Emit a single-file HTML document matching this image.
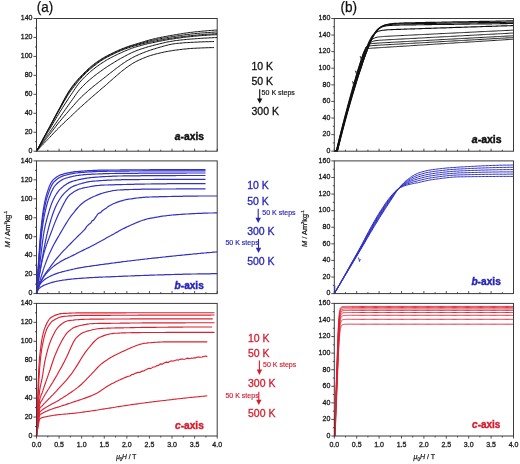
<!DOCTYPE html>
<html><head><meta charset="utf-8"><style>
html,body{margin:0;padding:0;background:#fff;}
body{width:520px;height:464px;overflow:hidden;}
svg{display:block;}
text{font-family:"Liberation Sans",Arial,sans-serif;}
.tl{font-size:7px;fill:#1a1a1a;stroke:#1a1a1a;stroke-width:0.3px;}
.big{font-size:14.5px;fill:#111;stroke:#111;stroke-width:0.25px;}
.tk{font-size:10.5px;stroke:currentColor;stroke-width:0.3px;}
.st{font-size:7.4px;stroke:currentColor;stroke-width:0.18px;}
.ax{font-size:11.5px;font-weight:bold;stroke-width:0.45px;}
.yl{font-size:7.4px;fill:#222;stroke:#222;stroke-width:0.25px;}
</style></head><body>
<svg width="520" height="464" viewBox="0 0 520 464">
<rect width="520" height="464" fill="#fff"/>
<text x="36.8" y="12.2" class="big" textLength="16.4" lengthAdjust="spacingAndGlyphs">(a)</text>
<text x="340.4" y="12.2" class="big" textLength="16.6" lengthAdjust="spacingAndGlyphs">(b)</text>
<path d="M36.5,151.2 36.8,150.5 37.2,149.9 37.5,149.2 37.9,148.6 38.2,147.9 38.6,147.3 38.9,146.6 39.3,146.0 39.6,145.3 40.0,144.7 40.3,144.0 40.7,143.4 41.0,142.7 41.4,142.1 41.7,141.4 42.1,140.8 42.4,140.1 42.8,139.5 43.1,138.8 43.4,138.2 43.8,137.5 44.1,136.9 44.5,136.2 44.8,135.6 45.2,134.9 45.5,134.3 45.9,133.6 46.2,133.0 46.6,132.3 46.9,131.7 47.3,131.0 47.6,130.4 48.0,129.7 48.3,129.1 48.7,128.4 49.0,127.8 49.4,127.1 49.7,126.5 50.1,125.8 50.1,125.8 51.5,123.2 52.9,120.6 54.3,117.9 55.7,115.3 57.1,112.7 58.5,110.1 59.9,107.5 61.3,104.9 62.7,102.2 64.1,99.6 65.5,97.0 66.9,94.5 68.3,92.2 69.7,90.0 71.1,88.0 72.5,86.0 73.9,84.2 75.3,82.5 76.7,80.8 78.1,79.2 79.5,77.6 81.0,76.1 82.4,74.7 83.8,73.2 85.2,71.8 86.6,70.5 88.0,69.1 89.4,67.9 90.8,66.7 92.2,65.5 93.6,64.5 95.0,63.4 96.4,62.4 97.8,61.4 99.2,60.5 100.6,59.5 102.0,58.7 103.4,57.8 104.8,57.0 106.2,56.3 107.6,55.5 109.0,54.8 110.5,54.1 111.9,53.4 113.3,52.7 114.7,52.0 116.1,51.4 117.5,50.7 118.9,50.1 120.3,49.5 121.7,48.9 123.1,48.4 124.5,47.8 125.9,47.3 127.3,46.8 128.7,46.3 130.1,45.8 131.5,45.4 132.9,45.0 134.3,44.6 135.7,44.1 137.1,43.7 138.5,43.3 139.9,42.8 141.4,42.4 142.8,42.0 144.2,41.6 145.6,41.1 147.0,40.7 148.4,40.3 149.8,39.9 151.2,39.6 152.6,39.2 154.0,38.9 155.4,38.5 156.8,38.2 158.2,37.9 159.6,37.6 161.0,37.3 162.4,37.1 163.8,36.8 165.2,36.5 166.6,36.3 168.0,36.0 169.4,35.7 170.8,35.5 172.3,35.3 173.7,35.0 175.1,34.8 176.5,34.6 177.9,34.3 179.3,34.1 180.7,33.9 182.1,33.7 183.5,33.4 184.9,33.2 186.3,33.0 187.7,32.8 189.1,32.6 190.5,32.4 191.9,32.3 193.3,32.1 194.7,31.9 196.1,31.8 197.5,31.7 198.9,31.5 200.3,31.4 201.7,31.2 203.2,31.1 204.6,31.0 206.0,30.9 207.4,30.7 208.8,30.6 210.2,30.5 211.6,30.4 213.0,30.3 214.4,30.2 215.8,30.1 217.2,30.1" stroke="#111" stroke-width="1.0" fill="none" stroke-linejoin="round"/>
<path d="M36.5,151.2 36.8,150.6 37.2,149.9 37.5,149.3 37.9,148.6 38.2,148.0 38.6,147.4 38.9,146.7 39.3,146.1 39.6,145.4 40.0,144.8 40.3,144.1 40.7,143.5 41.0,142.9 41.4,142.2 41.7,141.6 42.1,140.9 42.4,140.3 42.8,139.7 43.1,139.0 43.4,138.4 43.8,137.7 44.1,137.1 44.5,136.4 44.8,135.8 45.2,135.2 45.5,134.5 45.9,133.9 46.2,133.2 46.6,132.6 46.9,132.0 47.3,131.3 47.6,130.7 48.0,130.0 48.3,129.4 48.7,128.7 49.0,128.1 49.4,127.5 49.7,126.8 50.1,126.2 50.1,126.2 51.5,123.5 52.9,120.9 54.3,118.3 55.7,115.7 57.1,113.1 58.5,110.6 59.9,108.1 61.3,105.5 62.7,102.9 64.1,100.3 65.5,97.8 66.9,95.4 68.3,93.1 69.7,90.9 71.1,88.9 72.5,87.0 73.9,85.2 75.3,83.4 76.7,81.7 78.1,80.1 79.5,78.6 81.0,77.1 82.4,75.6 83.8,74.2 85.2,72.8 86.6,71.4 88.0,70.1 89.4,68.8 90.8,67.6 92.2,66.5 93.6,65.4 95.0,64.3 96.4,63.2 97.8,62.2 99.2,61.2 100.6,60.3 102.0,59.4 103.4,58.5 104.8,57.7 106.2,56.9 107.6,56.2 109.0,55.4 110.5,54.7 111.9,54.0 113.3,53.3 114.7,52.6 116.1,52.0 117.5,51.4 118.9,50.8 120.3,50.2 121.7,49.6 123.1,49.0 124.5,48.5 125.9,47.9 127.3,47.4 128.7,46.9 130.1,46.5 131.5,46.0 132.9,45.6 134.3,45.2 135.7,44.8 137.1,44.4 138.5,44.0 139.9,43.6 141.4,43.2 142.8,42.8 144.2,42.4 145.6,42.0 147.0,41.7 148.4,41.3 149.8,41.0 151.2,40.6 152.6,40.3 154.0,40.0 155.4,39.7 156.8,39.4 158.2,39.1 159.6,38.9 161.0,38.6 162.4,38.3 163.8,38.1 165.2,37.8 166.6,37.6 168.0,37.3 169.4,37.1 170.8,36.9 172.3,36.6 173.7,36.4 175.1,36.2 176.5,36.0 177.9,35.8 179.3,35.6 180.7,35.4 182.1,35.2 183.5,35.0 184.9,34.8 186.3,34.6 187.7,34.4 189.1,34.3 190.5,34.1 191.9,33.9 193.3,33.8 194.7,33.7 196.1,33.5 197.5,33.4 198.9,33.3 200.3,33.1 201.7,33.0 203.2,32.9 204.6,32.8 206.0,32.7 207.4,32.6 208.8,32.5 210.2,32.4 211.6,32.3 213.0,32.2 214.4,32.1 215.8,32.0 217.2,32.0" stroke="#111" stroke-width="1.0" fill="none" stroke-linejoin="round"/>
<path d="M36.5,151.2 36.8,150.6 37.2,149.9 37.5,149.3 37.9,148.7 38.2,148.1 38.6,147.4 38.9,146.8 39.3,146.2 39.6,145.5 40.0,144.9 40.3,144.3 40.7,143.6 41.0,143.0 41.4,142.4 41.7,141.8 42.1,141.1 42.4,140.5 42.8,139.9 43.1,139.2 43.4,138.6 43.8,138.0 44.1,137.3 44.5,136.7 44.8,136.1 45.2,135.5 45.5,134.8 45.9,134.2 46.2,133.6 46.6,132.9 46.9,132.3 47.3,131.7 47.6,131.0 48.0,130.4 48.3,129.8 48.7,129.1 49.0,128.5 49.4,127.9 49.7,127.2 50.1,126.6 50.1,126.6 51.5,124.0 52.9,121.5 54.3,118.9 55.7,116.3 57.1,113.8 58.5,111.3 59.9,108.9 61.3,106.4 62.7,103.9 64.1,101.4 65.5,99.0 66.9,96.7 68.3,94.5 69.7,92.4 71.1,90.4 72.5,88.5 73.9,86.7 75.3,84.9 76.7,83.1 78.1,81.4 79.5,79.7 81.0,78.1 82.4,76.5 83.8,75.1 85.2,73.7 86.6,72.3 88.0,71.0 89.4,69.8 90.8,68.6 92.2,67.4 93.6,66.3 95.0,65.2 96.4,64.1 97.8,63.0 99.2,62.0 100.6,61.1 102.0,60.1 103.4,59.3 104.8,58.5 106.2,57.7 107.6,56.9 109.0,56.2 110.5,55.4 111.9,54.7 113.3,54.1 114.7,53.4 116.1,52.7 117.5,52.1 118.9,51.5 120.3,50.9 121.7,50.3 123.1,49.8 124.5,49.2 125.9,48.7 127.3,48.2 128.7,47.7 130.1,47.2 131.5,46.8 132.9,46.4 134.3,45.9 135.7,45.6 137.1,45.2 138.5,44.8 139.9,44.4 141.4,44.1 142.8,43.7 144.2,43.4 145.6,43.1 147.0,42.7 148.4,42.4 149.8,42.1 151.2,41.8 152.6,41.5 154.0,41.2 155.4,41.0 156.8,40.7 158.2,40.4 159.6,40.2 161.0,39.9 162.4,39.6 163.8,39.4 165.2,39.1 166.6,38.9 168.0,38.7 169.4,38.5 170.8,38.2 172.3,38.0 173.7,37.8 175.1,37.6 176.5,37.4 177.9,37.2 179.3,37.0 180.7,36.8 182.1,36.7 183.5,36.5 184.9,36.3 186.3,36.1 187.7,36.0 189.1,35.8 190.5,35.7 191.9,35.5 193.3,35.4 194.7,35.3 196.1,35.1 197.5,35.0 198.9,34.9 200.3,34.8 201.7,34.7 203.2,34.6 204.6,34.4 206.0,34.3 207.4,34.2 208.8,34.1 210.2,34.1 211.6,34.0 213.0,33.9 214.4,33.8 215.8,33.7 217.2,33.7" stroke="#111" stroke-width="1.0" fill="none" stroke-linejoin="round"/>
<path d="M36.5,151.2 36.8,150.6 37.2,150.0 37.5,149.5 37.9,148.9 38.2,148.3 38.6,147.7 38.9,147.1 39.3,146.5 39.6,146.0 40.0,145.4 40.3,144.8 40.7,144.2 41.0,143.6 41.4,143.0 41.7,142.5 42.1,141.9 42.4,141.3 42.8,140.7 43.1,140.1 43.4,139.5 43.8,139.0 44.1,138.4 44.5,137.8 44.8,137.2 45.2,136.6 45.5,136.0 45.9,135.5 46.2,134.9 46.6,134.3 46.9,133.7 47.3,133.1 47.6,132.5 48.0,132.0 48.3,131.4 48.7,130.8 49.0,130.2 49.4,129.6 49.7,129.0 50.1,128.4 50.1,128.4 51.5,126.0 52.9,123.7 54.3,121.3 55.7,118.9 57.1,116.6 58.5,114.3 59.9,112.0 61.3,109.8 62.7,107.5 64.1,105.3 65.5,103.1 66.9,101.0 68.3,98.8 69.7,96.7 71.1,94.7 72.5,92.6 73.9,90.5 75.3,88.4 76.7,86.3 78.1,84.4 79.5,82.6 81.0,80.9 82.4,79.4 83.8,77.9 85.2,76.5 86.6,75.2 88.0,73.9 89.4,72.6 90.8,71.4 92.2,70.2 93.6,69.1 95.0,68.0 96.4,66.9 97.8,65.9 99.2,64.9 100.6,63.9 102.0,63.0 103.4,62.1 104.8,61.2 106.2,60.3 107.6,59.5 109.0,58.7 110.5,57.9 111.9,57.2 113.3,56.5 114.7,55.7 116.1,55.1 117.5,54.4 118.9,53.7 120.3,53.1 121.7,52.5 123.1,51.8 124.5,51.2 125.9,50.6 127.3,50.1 128.7,49.5 130.1,48.9 131.5,48.4 132.9,47.9 134.3,47.4 135.7,47.0 137.1,46.6 138.5,46.2 139.9,45.8 141.4,45.4 142.8,45.0 144.2,44.6 145.6,44.3 147.0,43.9 148.4,43.6 149.8,43.3 151.2,43.0 152.6,42.7 154.0,42.4 155.4,42.1 156.8,41.8 158.2,41.5 159.6,41.2 161.0,41.0 162.4,40.7 163.8,40.4 165.2,40.2 166.6,39.9 168.0,39.7 169.4,39.4 170.8,39.2 172.3,39.0 173.7,38.8 175.1,38.6 176.5,38.4 177.9,38.2 179.3,38.0 180.7,37.8 182.1,37.6 183.5,37.4 184.9,37.2 186.3,37.1 187.7,36.9 189.1,36.8 190.5,36.6 191.9,36.5 193.3,36.3 194.7,36.2 196.1,36.1 197.5,36.0 198.9,35.8 200.3,35.7 201.7,35.6 203.2,35.5 204.6,35.4 206.0,35.3 207.4,35.2 208.8,35.1 210.2,35.0 211.6,34.9 213.0,34.8 214.4,34.8 215.8,34.7 217.2,34.6" stroke="#111" stroke-width="1.0" fill="none" stroke-linejoin="round"/>
<path d="M36.5,151.2 36.8,150.7 37.2,150.2 37.5,149.7 37.9,149.2 38.2,148.7 38.6,148.2 38.9,147.7 39.3,147.2 39.6,146.7 40.0,146.2 40.3,145.7 40.7,145.2 41.0,144.7 41.4,144.2 41.7,143.7 42.1,143.2 42.4,142.7 42.8,142.2 43.1,141.7 43.4,141.2 43.8,140.7 44.1,140.2 44.5,139.7 44.8,139.2 45.2,138.7 45.5,138.2 45.9,137.7 46.2,137.2 46.6,136.7 46.9,136.2 47.3,135.7 47.6,135.1 48.0,134.6 48.3,134.1 48.7,133.6 49.0,133.1 49.4,132.6 49.7,132.1 50.1,131.6 50.1,131.6 51.5,129.6 52.9,127.5 54.3,125.5 55.7,123.4 57.1,121.4 58.5,119.4 59.9,117.4 61.3,115.3 62.7,113.3 64.1,111.3 65.5,109.3 66.9,107.3 68.3,105.3 69.7,103.3 71.1,101.4 72.5,99.4 73.9,97.4 75.3,95.4 76.7,93.4 78.1,91.5 79.5,89.7 81.0,88.1 82.4,86.6 83.8,85.2 85.2,83.8 86.6,82.5 88.0,81.2 89.4,80.0 90.8,78.8 92.2,77.7 93.6,76.5 95.0,75.4 96.4,74.4 97.8,73.3 99.2,72.3 100.6,71.3 102.0,70.3 103.4,69.3 104.8,68.3 106.2,67.4 107.6,66.4 109.0,65.5 110.5,64.6 111.9,63.7 113.3,62.9 114.7,62.0 116.1,61.2 117.5,60.3 118.9,59.5 120.3,58.7 121.7,57.9 123.1,57.2 124.5,56.4 125.9,55.7 127.3,54.9 128.7,54.2 130.1,53.5 131.5,52.8 132.9,52.2 134.3,51.5 135.7,51.0 137.1,50.4 138.5,49.9 139.9,49.4 141.4,48.9 142.8,48.5 144.2,48.0 145.6,47.6 147.0,47.1 148.4,46.7 149.8,46.3 151.2,46.0 152.6,45.6 154.0,45.2 155.4,44.9 156.8,44.5 158.2,44.2 159.6,43.8 161.0,43.5 162.4,43.2 163.8,42.8 165.2,42.5 166.6,42.2 168.0,41.9 169.4,41.7 170.8,41.4 172.3,41.2 173.7,40.9 175.1,40.7 176.5,40.5 177.9,40.4 179.3,40.2 180.7,40.0 182.1,39.9 183.5,39.7 184.9,39.6 186.3,39.5 187.7,39.3 189.1,39.2 190.5,39.1 191.9,39.0 193.3,38.9 194.7,38.8 196.1,38.7 197.5,38.6 198.9,38.5 200.3,38.4 201.7,38.3 203.2,38.2 204.6,38.1 206.0,38.1 207.4,38.0 208.8,37.9 210.2,37.8 211.6,37.8 213.0,37.7 214.4,37.6 215.8,37.6 217.2,37.6" stroke="#111" stroke-width="1.0" fill="none" stroke-linejoin="round"/>
<path d="M36.5,151.2 36.8,150.8 37.2,150.3 37.5,149.9 37.9,149.4 38.2,149.0 38.6,148.5 38.9,148.1 39.3,147.7 39.6,147.2 40.0,146.8 40.3,146.3 40.7,145.9 41.0,145.4 41.4,145.0 41.7,144.6 42.1,144.1 42.4,143.7 42.8,143.2 43.1,142.8 43.4,142.3 43.8,141.9 44.1,141.5 44.5,141.0 44.8,140.6 45.2,140.1 45.5,139.7 45.9,139.2 46.2,138.8 46.6,138.3 46.9,137.9 47.3,137.5 47.6,137.0 48.0,136.6 48.3,136.1 48.7,135.7 49.0,135.2 49.4,134.8 49.7,134.3 50.1,133.9 50.1,133.9 51.4,132.1 52.8,130.3 54.2,128.5 55.6,126.7 56.9,125.0 58.3,123.2 59.7,121.5 61.1,119.9 62.5,118.2 63.8,116.6 65.2,115.0 66.6,113.4 68.0,111.8 69.3,110.2 70.7,108.6 72.1,107.1 73.5,105.5 74.9,103.9 76.2,102.4 77.6,100.9 79.0,99.4 80.4,98.0 81.7,96.6 83.1,95.3 84.5,94.1 85.9,92.8 87.3,91.6 88.6,90.4 90.0,89.2 91.4,88.1 92.8,86.9 94.1,85.8 95.5,84.7 96.9,83.6 98.3,82.5 99.7,81.4 101.0,80.4 102.4,79.3 103.8,78.2 105.2,77.1 106.6,76.0 107.9,74.9 109.3,73.8 110.7,72.7 112.1,71.7 113.4,70.6 114.8,69.5 116.2,68.4 117.6,67.4 119.0,66.4 120.3,65.4 121.7,64.4 123.1,63.4 124.5,62.5 125.8,61.6 127.2,60.7 128.6,59.9 130.0,59.1 131.4,58.3 132.7,57.5 134.1,56.8 135.5,56.1 136.9,55.5 138.2,54.9 139.6,54.3 141.0,53.7 142.4,53.1 143.8,52.6 145.1,52.0 146.5,51.5 147.9,51.0 149.3,50.5 150.6,50.1 152.0,49.6 153.4,49.2 154.8,48.8 156.2,48.3 157.5,47.9 158.9,47.5 160.3,47.1 161.7,46.7 163.1,46.3 164.4,45.9 165.8,45.5 167.2,45.2 168.6,44.8 169.9,44.5 171.3,44.3 172.7,44.0 174.1,43.8 175.5,43.6 176.8,43.4 178.2,43.3 179.6,43.2 181.0,43.1 182.3,42.9 183.7,42.8 185.1,42.7 186.5,42.6 187.9,42.6 189.2,42.5 190.6,42.4 192.0,42.3 193.4,42.3 194.7,42.2 196.1,42.1 197.5,42.1 198.9,42.0 200.3,41.9 201.6,41.9 203.0,41.8 204.4,41.8 205.8,41.7 207.1,41.7 208.5,41.7 209.9,41.6 211.3,41.6 212.7,41.6 214.0,41.5" stroke="#111" stroke-width="1.0" fill="none" stroke-linejoin="round"/>
<path d="M36.5,151.2 36.8,150.8 37.2,150.5 37.5,150.1 37.9,149.7 38.2,149.4 38.6,149.0 38.9,148.6 39.3,148.3 39.6,147.9 40.0,147.6 40.3,147.2 40.7,146.8 41.0,146.5 41.4,146.1 41.7,145.7 42.1,145.4 42.4,145.0 42.8,144.6 43.1,144.3 43.4,143.9 43.8,143.5 44.1,143.2 44.5,142.8 44.8,142.5 45.2,142.1 45.5,141.7 45.9,141.4 46.2,141.0 46.6,140.6 46.9,140.3 47.3,139.9 47.6,139.5 48.0,139.2 48.3,138.8 48.7,138.4 49.0,138.1 49.4,137.7 49.7,137.3 50.1,137.0 50.1,137.0 51.4,135.5 52.8,134.0 54.2,132.6 55.6,131.1 56.9,129.7 58.3,128.3 59.7,126.9 61.1,125.6 62.5,124.2 63.8,122.9 65.2,121.6 66.6,120.3 68.0,119.1 69.3,117.8 70.7,116.5 72.1,115.2 73.5,113.9 74.9,112.5 76.2,111.2 77.6,109.9 79.0,108.6 80.4,107.4 81.7,106.1 83.1,104.9 84.5,103.6 85.9,102.4 87.3,101.2 88.6,100.0 90.0,98.7 91.4,97.5 92.8,96.3 94.1,95.2 95.5,94.0 96.9,92.8 98.3,91.6 99.7,90.4 101.0,89.2 102.4,88.0 103.8,86.9 105.2,85.7 106.6,84.5 107.9,83.3 109.3,82.0 110.7,80.8 112.1,79.6 113.4,78.4 114.8,77.2 116.2,76.0 117.6,74.8 119.0,73.6 120.3,72.5 121.7,71.3 123.1,70.2 124.5,69.2 125.8,68.1 127.2,67.1 128.6,66.2 130.0,65.2 131.4,64.3 132.7,63.4 134.1,62.6 135.5,61.8 136.9,61.1 138.2,60.5 139.6,59.8 141.0,59.2 142.4,58.6 143.8,58.0 145.1,57.5 146.5,56.9 147.9,56.4 149.3,55.9 150.6,55.5 152.0,55.1 153.4,54.7 154.8,54.3 156.2,53.9 157.5,53.6 158.9,53.3 160.3,52.9 161.7,52.6 163.1,52.3 164.4,52.0 165.8,51.7 167.2,51.5 168.6,51.2 169.9,51.0 171.3,50.8 172.7,50.5 174.1,50.3 175.5,50.1 176.8,50.0 178.2,49.8 179.6,49.6 181.0,49.5 182.3,49.3 183.7,49.1 185.1,49.0 186.5,48.9 187.9,48.7 189.2,48.6 190.6,48.5 192.0,48.4 193.4,48.3 194.7,48.3 196.1,48.2 197.5,48.1 198.9,48.1 200.3,48.0 201.6,47.9 203.0,47.9 204.4,47.8 205.8,47.8 207.1,47.7 208.5,47.7 209.9,47.6 211.3,47.6 212.7,47.6 214.0,47.6" stroke="#111" stroke-width="1.0" fill="none" stroke-linejoin="round"/>
<path d="M36.5,293.6 36.8,287.9 37.2,282.3 37.5,276.8 37.9,271.4 38.2,266.2 38.6,261.0 38.9,255.8 39.3,250.7 39.6,245.7 40.0,240.9 40.3,236.4 40.7,232.3 41.0,228.7 41.4,225.3 41.7,222.1 42.1,219.1 42.4,216.3 42.8,213.7 43.1,211.3 43.4,209.1 43.8,207.1 44.1,205.1 44.5,203.3 44.8,201.6 45.2,199.9 45.5,198.4 45.9,197.0 46.2,195.7 46.6,194.6 46.9,193.4 47.3,192.3 47.6,191.2 48.0,190.2 48.3,189.2 48.7,188.2 49.0,187.2 49.4,186.3 49.7,185.5 50.1,184.7 50.1,184.7 51.4,182.1 52.7,180.4 54.0,179.1 55.3,178.0 56.6,177.0 57.9,176.2 59.2,175.5 60.5,174.9 61.8,174.5 63.1,174.1 64.4,173.7 65.7,173.4 67.0,173.1 68.3,172.8 69.6,172.5 70.9,172.3 72.3,172.1 73.6,171.9 74.9,171.7 76.2,171.6 77.5,171.5 78.8,171.4 80.1,171.3 81.4,171.2 82.7,171.1 84.0,171.0 85.3,170.9 86.6,170.8 87.9,170.7 89.2,170.6 90.5,170.6 91.8,170.5 93.1,170.4 94.5,170.4 95.8,170.3 97.1,170.3 98.4,170.2 99.7,170.2 101.0,170.1 102.3,170.1 103.6,170.1 104.9,170.1 106.2,170.1 107.5,170.1 108.8,170.0 110.1,170.0 111.4,170.0 112.7,170.0 114.0,170.0 115.3,170.0 116.7,170.0 118.0,170.0 119.3,170.0 120.6,169.9 121.9,169.9 123.2,169.9 124.5,169.9 125.8,169.9 127.1,169.9 128.4,169.9 129.7,169.9 131.0,169.9 132.3,169.9 133.6,169.8 134.9,169.8 136.2,169.8 137.5,169.8 138.9,169.8 140.2,169.8 141.5,169.8 142.8,169.8 144.1,169.8 145.4,169.8 146.7,169.8 148.0,169.8 149.3,169.8 150.6,169.7 151.9,169.7 153.2,169.7 154.5,169.7 155.8,169.7 157.1,169.7 158.4,169.7 159.7,169.7 161.1,169.7 162.4,169.7 163.7,169.7 165.0,169.7 166.3,169.7 167.6,169.7 168.9,169.7 170.2,169.7 171.5,169.7 172.8,169.7 174.1,169.7 175.4,169.7 176.7,169.7 178.0,169.7 179.3,169.6 180.6,169.6 181.9,169.6 183.3,169.6 184.6,169.6 185.9,169.6 187.2,169.6 188.5,169.6 189.8,169.6 191.1,169.6 192.4,169.6 193.7,169.6 195.0,169.6 196.3,169.6 197.6,169.6 198.9,169.6 200.2,169.6 201.5,169.6 202.8,169.6 204.1,169.6 205.5,169.6" stroke="#3232c8" stroke-width="1.2" fill="none" stroke-linejoin="round"/>
<path d="M36.5,293.6 36.8,288.6 37.2,283.6 37.5,278.7 37.9,273.9 38.2,269.1 38.6,264.5 38.9,259.8 39.3,255.0 39.6,250.2 40.0,245.6 40.3,241.2 40.7,237.0 41.0,233.2 41.4,229.9 41.7,226.9 42.1,224.0 42.4,221.2 42.8,218.7 43.1,216.3 43.4,214.1 43.8,212.0 44.1,210.1 44.5,208.3 44.8,206.5 45.2,204.8 45.5,203.3 45.9,201.8 46.2,200.3 46.6,199.0 46.9,197.8 47.3,196.7 47.6,195.6 48.0,194.6 48.3,193.5 48.7,192.5 49.0,191.6 49.4,190.6 49.7,189.7 50.1,188.8 50.1,188.8 51.4,185.9 52.7,183.5 54.0,181.9 55.3,180.7 56.6,179.5 57.9,178.6 59.2,177.7 60.5,177.0 61.8,176.4 63.1,175.9 64.4,175.5 65.7,175.2 67.0,174.8 68.3,174.5 69.6,174.2 70.9,173.9 72.3,173.7 73.6,173.4 74.9,173.2 76.2,173.0 77.5,172.9 78.8,172.7 80.1,172.6 81.4,172.5 82.7,172.4 84.0,172.3 85.3,172.2 86.6,172.1 87.9,172.0 89.2,171.9 90.5,171.9 91.8,171.8 93.1,171.7 94.5,171.7 95.8,171.6 97.1,171.5 98.4,171.5 99.7,171.4 101.0,171.4 102.3,171.4 103.6,171.3 104.9,171.3 106.2,171.3 107.5,171.2 108.8,171.2 110.1,171.2 111.4,171.2 112.7,171.2 114.0,171.2 115.3,171.2 116.7,171.2 118.0,171.1 119.3,171.1 120.6,171.1 121.9,171.1 123.2,171.1 124.5,171.1 125.8,171.1 127.1,171.1 128.4,171.1 129.7,171.0 131.0,171.0 132.3,171.0 133.6,171.0 134.9,171.0 136.2,171.0 137.5,171.0 138.9,171.0 140.2,171.0 141.5,171.0 142.8,170.9 144.1,170.9 145.4,170.9 146.7,170.9 148.0,170.9 149.3,170.9 150.6,170.9 151.9,170.9 153.2,170.9 154.5,170.9 155.8,170.9 157.1,170.9 158.4,170.9 159.7,170.9 161.1,170.9 162.4,170.8 163.7,170.8 165.0,170.8 166.3,170.8 167.6,170.8 168.9,170.8 170.2,170.8 171.5,170.8 172.8,170.8 174.1,170.8 175.4,170.8 176.7,170.8 178.0,170.8 179.3,170.8 180.6,170.8 181.9,170.8 183.3,170.8 184.6,170.8 185.9,170.8 187.2,170.8 188.5,170.8 189.8,170.8 191.1,170.8 192.4,170.8 193.7,170.8 195.0,170.8 196.3,170.8 197.6,170.8 198.9,170.8 200.2,170.8 201.5,170.8 202.8,170.8 204.1,170.8 205.5,170.8" stroke="#3232c8" stroke-width="1.2" fill="none" stroke-linejoin="round"/>
<path d="M36.5,293.6 36.8,289.0 37.2,284.5 37.5,280.0 37.9,275.6 38.2,271.4 38.6,267.2 38.9,263.1 39.3,259.0 39.6,254.9 40.0,250.7 40.3,246.7 40.7,242.9 41.0,239.2 41.4,235.8 41.7,232.7 42.1,230.0 42.4,227.4 42.8,225.0 43.1,222.8 43.4,220.6 43.8,218.6 44.1,216.7 44.5,214.9 44.8,213.2 45.2,211.6 45.5,210.1 45.9,208.6 46.2,207.1 46.6,205.8 46.9,204.5 47.3,203.2 47.6,202.0 48.0,200.9 48.3,199.9 48.7,198.9 49.0,198.0 49.4,197.1 49.7,196.2 50.1,195.3 50.1,195.3 51.4,192.1 52.7,189.4 54.0,187.0 55.3,185.3 56.6,184.0 57.9,182.8 59.2,181.7 60.5,180.8 61.8,179.9 63.1,179.2 64.4,178.7 65.7,178.2 67.0,177.8 68.3,177.5 69.6,177.1 70.9,176.8 72.3,176.5 73.6,176.2 74.9,176.0 76.2,175.7 77.5,175.5 78.8,175.3 80.1,175.1 81.4,175.0 82.7,174.8 84.0,174.7 85.3,174.6 86.6,174.5 87.9,174.4 89.2,174.4 90.5,174.3 91.8,174.2 93.1,174.2 94.5,174.1 95.8,174.0 97.1,174.0 98.4,173.9 99.7,173.9 101.0,173.8 102.3,173.8 103.6,173.7 104.9,173.7 106.2,173.6 107.5,173.6 108.8,173.6 110.1,173.5 111.4,173.5 112.7,173.5 114.0,173.5 115.3,173.4 116.7,173.4 118.0,173.4 119.3,173.4 120.6,173.4 121.9,173.4 123.2,173.4 124.5,173.4 125.8,173.3 127.1,173.3 128.4,173.3 129.7,173.3 131.0,173.3 132.3,173.3 133.6,173.3 134.9,173.3 136.2,173.3 137.5,173.3 138.9,173.2 140.2,173.2 141.5,173.2 142.8,173.2 144.1,173.2 145.4,173.2 146.7,173.2 148.0,173.2 149.3,173.2 150.6,173.2 151.9,173.2 153.2,173.2 154.5,173.2 155.8,173.2 157.1,173.1 158.4,173.1 159.7,173.1 161.1,173.1 162.4,173.1 163.7,173.1 165.0,173.1 166.3,173.1 167.6,173.1 168.9,173.1 170.2,173.1 171.5,173.1 172.8,173.1 174.1,173.1 175.4,173.1 176.7,173.1 178.0,173.1 179.3,173.1 180.6,173.1 181.9,173.1 183.3,173.1 184.6,173.1 185.9,173.1 187.2,173.0 188.5,173.0 189.8,173.0 191.1,173.0 192.4,173.0 193.7,173.0 195.0,173.0 196.3,173.0 197.6,173.0 198.9,173.0 200.2,173.0 201.5,173.0 202.8,173.0 204.1,173.0 205.5,173.0" stroke="#3232c8" stroke-width="1.2" fill="none" stroke-linejoin="round"/>
<path d="M36.5,293.6 36.8,290.3 37.2,287.0 37.5,283.8 37.9,280.6 38.2,277.4 38.6,274.4 38.9,271.3 39.3,268.4 39.6,265.5 40.0,262.6 40.3,259.7 40.7,256.7 41.0,253.8 41.4,251.0 41.7,248.1 42.1,245.4 42.4,242.7 42.8,240.1 43.1,237.7 43.4,235.4 43.8,233.2 44.1,231.2 44.5,229.4 44.8,227.7 45.2,226.0 45.5,224.4 45.9,222.9 46.2,221.5 46.6,220.1 46.9,218.7 47.3,217.4 47.6,216.2 48.0,214.9 48.3,213.7 48.7,212.5 49.0,211.4 49.4,210.2 49.7,209.1 50.1,208.0 50.1,208.0 51.4,204.1 52.7,200.9 54.0,198.3 55.3,195.8 56.6,193.7 57.9,191.8 59.2,190.2 60.5,188.9 61.8,187.7 63.1,186.6 64.4,185.6 65.7,184.7 67.0,183.8 68.3,183.1 69.6,182.4 70.9,181.9 72.3,181.4 73.6,181.0 74.9,180.6 76.2,180.3 77.5,180.0 78.8,179.7 80.1,179.4 81.4,179.1 82.7,178.8 84.0,178.6 85.3,178.4 86.6,178.2 87.9,178.0 89.2,177.8 90.5,177.6 91.8,177.5 93.1,177.4 94.5,177.3 95.8,177.2 97.1,177.1 98.4,177.0 99.7,176.9 101.0,176.8 102.3,176.7 103.6,176.7 104.9,176.6 106.2,176.5 107.5,176.5 108.8,176.4 110.1,176.3 111.4,176.3 112.7,176.2 114.0,176.2 115.3,176.1 116.7,176.1 118.0,176.0 119.3,176.0 120.6,176.0 121.9,176.0 123.2,175.9 124.5,175.9 125.8,175.9 127.1,175.9 128.4,175.9 129.7,175.8 131.0,175.8 132.3,175.8 133.6,175.8 134.9,175.8 136.2,175.8 137.5,175.8 138.9,175.8 140.2,175.8 141.5,175.7 142.8,175.7 144.1,175.7 145.4,175.7 146.7,175.7 148.0,175.7 149.3,175.7 150.6,175.7 151.9,175.7 153.2,175.7 154.5,175.7 155.8,175.6 157.1,175.6 158.4,175.6 159.7,175.6 161.1,175.6 162.4,175.6 163.7,175.6 165.0,175.6 166.3,175.6 167.6,175.6 168.9,175.6 170.2,175.6 171.5,175.6 172.8,175.6 174.1,175.6 175.4,175.6 176.7,175.5 178.0,175.5 179.3,175.5 180.6,175.5 181.9,175.5 183.3,175.5 184.6,175.5 185.9,175.5 187.2,175.5 188.5,175.5 189.8,175.5 191.1,175.5 192.4,175.5 193.7,175.5 195.0,175.5 196.3,175.5 197.6,175.5 198.9,175.5 200.2,175.5 201.5,175.5 202.8,175.5 204.1,175.5 205.5,175.5" stroke="#3232c8" stroke-width="1.2" fill="none" stroke-linejoin="round"/>
<path d="M36.5,293.6 36.8,291.2 37.2,288.9 37.5,286.6 37.9,284.3 38.2,282.1 38.6,279.8 38.9,277.6 39.3,275.5 39.6,273.3 40.0,271.2 40.3,269.2 40.7,267.1 41.0,265.2 41.4,263.2 41.7,261.3 42.1,259.3 42.4,257.4 42.8,255.5 43.1,253.6 43.4,251.8 43.8,249.9 44.1,248.1 44.5,246.3 44.8,244.5 45.2,242.8 45.5,241.1 45.9,239.5 46.2,237.8 46.6,236.2 46.9,234.7 47.3,233.2 47.6,231.8 48.0,230.3 48.3,229.0 48.7,227.6 49.0,226.3 49.4,225.0 49.7,223.7 50.1,222.5 50.1,222.5 51.4,218.1 52.7,214.3 54.0,210.8 55.3,207.6 56.6,204.7 57.9,202.2 59.2,200.0 60.5,198.0 61.8,196.2 63.1,194.6 64.4,193.2 65.7,191.9 67.0,190.7 68.3,189.6 69.6,188.6 70.9,187.6 72.3,186.8 73.6,186.1 74.9,185.6 76.2,185.1 77.5,184.7 78.8,184.2 80.1,183.8 81.4,183.5 82.7,183.1 84.0,182.8 85.3,182.5 86.6,182.2 87.9,181.9 89.2,181.7 90.5,181.5 91.8,181.3 93.1,181.2 94.5,181.1 95.8,181.0 97.1,180.9 98.4,180.8 99.7,180.7 101.0,180.6 102.3,180.5 103.6,180.4 104.9,180.4 106.2,180.3 107.5,180.2 108.8,180.2 110.1,180.1 111.4,180.1 112.7,180.0 114.0,180.0 115.3,179.9 116.7,179.9 118.0,179.8 119.3,179.8 120.6,179.8 121.9,179.7 123.2,179.7 124.5,179.7 125.8,179.7 127.1,179.7 128.4,179.7 129.7,179.6 131.0,179.6 132.3,179.6 133.6,179.6 134.9,179.6 136.2,179.6 137.5,179.6 138.9,179.6 140.2,179.5 141.5,179.5 142.8,179.5 144.1,179.5 145.4,179.5 146.7,179.5 148.0,179.5 149.3,179.5 150.6,179.5 151.9,179.5 153.2,179.5 154.5,179.4 155.8,179.4 157.1,179.4 158.4,179.4 159.7,179.4 161.1,179.4 162.4,179.4 163.7,179.4 165.0,179.4 166.3,179.4 167.6,179.4 168.9,179.4 170.2,179.4 171.5,179.4 172.8,179.4 174.1,179.3 175.4,179.3 176.7,179.3 178.0,179.3 179.3,179.3 180.6,179.3 181.9,179.3 183.3,179.3 184.6,179.3 185.9,179.3 187.2,179.3 188.5,179.3 189.8,179.3 191.1,179.3 192.4,179.3 193.7,179.3 195.0,179.3 196.3,179.3 197.6,179.3 198.9,179.3 200.2,179.3 201.5,179.3 202.8,179.3 204.1,179.3 205.5,179.3" stroke="#3232c8" stroke-width="1.2" fill="none" stroke-linejoin="round"/>
<path d="M36.5,293.6 36.8,291.2 37.2,288.9 37.5,286.6 37.9,284.4 38.2,282.1 38.6,279.9 38.9,277.8 39.3,275.7 39.6,273.7 40.0,271.7 40.3,269.7 40.7,267.8 41.0,266.0 41.4,264.2 41.7,262.5 42.1,260.9 42.4,259.3 42.8,257.8 43.1,256.4 43.4,255.0 43.8,253.7 44.1,252.4 44.5,251.2 44.8,250.1 45.2,248.9 45.5,247.8 45.9,246.7 46.2,245.7 46.6,244.7 46.9,243.7 47.3,242.7 47.6,241.8 48.0,240.8 48.3,239.9 48.7,239.0 49.0,238.1 49.4,237.2 49.7,236.2 50.1,235.3 50.1,235.3 51.4,231.9 52.7,228.4 54.0,224.9 55.3,221.6 56.6,218.5 57.9,215.5 59.2,212.8 60.5,210.2 61.8,207.5 63.1,204.9 64.4,202.5 65.7,200.2 67.0,198.2 68.3,196.4 69.6,195.0 70.9,193.9 72.3,192.9 73.6,192.1 74.9,191.2 76.2,190.5 77.5,189.9 78.8,189.3 80.1,188.8 81.4,188.5 82.7,188.1 84.0,187.8 85.3,187.5 86.6,187.3 87.9,187.0 89.2,186.8 90.5,186.5 91.8,186.3 93.1,186.1 94.5,185.9 95.8,185.7 97.1,185.6 98.4,185.5 99.7,185.3 101.0,185.2 102.3,185.2 103.6,185.1 104.9,185.0 106.2,185.0 107.5,185.0 108.8,184.9 110.1,184.9 111.4,184.8 112.7,184.8 114.0,184.8 115.3,184.7 116.7,184.7 118.0,184.7 119.3,184.6 120.6,184.6 121.9,184.6 123.2,184.5 124.5,184.5 125.8,184.5 127.1,184.4 128.4,184.4 129.7,184.4 131.0,184.3 132.3,184.3 133.6,184.3 134.9,184.2 136.2,184.2 137.5,184.2 138.9,184.2 140.2,184.1 141.5,184.1 142.8,184.1 144.1,184.1 145.4,184.0 146.7,184.0 148.0,184.0 149.3,184.0 150.6,184.0 151.9,183.9 153.2,183.9 154.5,183.9 155.8,183.9 157.1,183.9 158.4,183.8 159.7,183.8 161.1,183.8 162.4,183.8 163.7,183.8 165.0,183.8 166.3,183.8 167.6,183.7 168.9,183.7 170.2,183.7 171.5,183.7 172.8,183.7 174.1,183.7 175.4,183.7 176.7,183.7 178.0,183.6 179.3,183.6 180.6,183.6 181.9,183.6 183.3,183.6 184.6,183.6 185.9,183.6 187.2,183.6 188.5,183.6 189.8,183.6 191.1,183.6 192.4,183.6 193.7,183.6 195.0,183.6 196.3,183.6 197.6,183.6 198.9,183.6 200.2,183.6 201.5,183.6 202.8,183.6 204.1,183.6 205.5,183.6" stroke="#3232c8" stroke-width="1.2" fill="none" stroke-linejoin="round"/>
<path d="M36.5,293.6 36.8,292.2 37.2,290.9 37.5,289.6 37.9,288.2 38.2,286.9 38.6,285.6 38.9,284.4 39.3,283.1 39.6,281.9 40.0,280.6 40.3,279.4 40.7,278.2 41.0,277.1 41.4,275.9 41.7,274.8 42.1,273.7 42.4,272.6 42.8,271.5 43.1,270.4 43.4,269.4 43.8,268.4 44.1,267.3 44.5,266.3 44.8,265.4 45.2,264.4 45.5,263.4 45.9,262.5 46.2,261.5 46.6,260.6 46.9,259.7 47.3,258.8 47.6,257.9 48.0,257.1 48.3,256.2 48.7,255.4 49.0,254.6 49.4,253.8 49.7,253.0 50.1,252.2 50.1,252.2 51.4,249.4 52.7,246.8 54.0,244.3 55.3,241.9 56.6,239.6 57.9,237.4 59.2,235.2 60.5,232.9 61.8,230.7 63.1,228.5 64.4,226.3 65.7,224.1 67.0,222.0 68.3,220.0 69.6,218.0 70.9,216.2 72.3,214.4 73.6,212.8 74.9,211.1 76.2,209.5 77.5,208.0 78.8,206.6 80.1,205.2 81.4,204.0 82.7,203.0 84.0,202.0 85.3,201.1 86.6,200.3 87.9,199.5 89.2,198.8 90.5,198.1 91.8,197.5 93.1,196.8 94.5,196.3 95.8,195.7 97.1,195.1 98.4,194.6 99.7,194.1 101.0,193.6 102.3,193.2 103.6,192.8 104.9,192.5 106.2,192.2 107.5,191.9 108.8,191.5 110.1,191.3 111.4,191.0 112.7,190.7 114.0,190.5 115.3,190.3 116.7,190.2 118.0,190.0 119.3,190.0 120.6,189.9 121.9,189.8 123.2,189.8 124.5,189.7 125.8,189.7 127.1,189.6 128.4,189.6 129.7,189.5 131.0,189.5 132.3,189.5 133.6,189.4 134.9,189.4 136.2,189.4 137.5,189.3 138.9,189.3 140.2,189.3 141.5,189.2 142.8,189.2 144.1,189.2 145.4,189.2 146.7,189.2 148.0,189.2 149.3,189.1 150.6,189.1 151.9,189.1 153.2,189.1 154.5,189.1 155.8,189.1 157.1,189.1 158.4,189.1 159.7,189.1 161.1,189.0 162.4,189.0 163.7,189.0 165.0,189.0 166.3,189.0 167.6,189.0 168.9,189.0 170.2,189.0 171.5,189.0 172.8,189.0 174.1,189.0 175.4,189.0 176.7,188.9 178.0,188.9 179.3,188.9 180.6,188.9 181.9,188.9 183.3,188.9 184.6,188.9 185.9,188.9 187.2,188.9 188.5,188.9 189.8,188.9 191.1,188.9 192.4,188.9 193.7,188.9 195.0,188.9 196.3,188.9 197.6,188.9 198.9,188.9 200.2,188.9 201.5,188.9 202.8,188.9 204.1,188.9 205.5,188.9" stroke="#3232c8" stroke-width="1.2" fill="none" stroke-linejoin="round"/>
<path d="M36.5,293.6 36.8,292.5 37.2,291.5 37.5,290.4 37.9,289.4 38.2,288.3 38.6,287.3 38.9,286.4 39.3,285.4 39.6,284.5 40.0,283.6 40.3,282.8 40.7,282.0 41.0,281.3 41.4,280.6 41.7,279.9 42.1,279.2 42.4,278.6 42.8,277.9 43.1,277.3 43.4,276.7 43.8,276.2 44.1,275.6 44.5,275.0 44.8,274.5 45.2,273.9 45.5,273.4 45.9,272.9 46.2,272.4 46.6,271.9 46.9,271.4 47.3,270.9 47.6,270.4 48.0,269.9 48.3,269.5 48.7,269.0 49.0,268.5 49.4,268.0 49.7,267.5 50.1,267.1 50.1,267.1 51.5,265.1 52.9,263.3 54.3,261.5 55.7,259.7 57.1,258.0 58.5,256.4 59.9,254.8 61.3,253.2 62.7,251.7 64.1,250.2 65.5,248.8 66.9,247.3 68.3,245.9 69.7,244.5 71.1,243.0 72.5,241.6 73.9,240.2 75.3,238.8 76.7,237.4 78.1,236.0 79.5,234.6 81.0,233.2 82.4,231.8 83.8,230.4 85.2,229.0 86.6,226.6 88.0,225.2 89.4,223.9 90.8,223.0 92.2,220.6 93.6,220.2 95.0,218.1 96.4,216.1 97.8,214.0 99.2,213.1 100.6,212.6 102.0,211.0 103.4,210.0 104.8,209.0 106.2,208.3 107.6,206.9 109.0,206.0 110.5,205.2 111.9,204.5 113.3,203.8 114.7,203.2 116.1,202.6 117.5,202.1 118.9,201.6 120.3,201.2 121.7,200.8 123.1,200.4 124.5,200.0 125.9,199.7 127.3,199.4 128.7,199.2 130.1,199.0 131.5,198.8 132.9,198.6 134.3,198.4 135.7,198.2 137.1,198.0 138.5,197.9 139.9,197.7 141.4,197.6 142.8,197.4 144.2,197.3 145.6,197.2 147.0,197.1 148.4,197.1 149.8,197.0 151.2,197.0 152.6,196.9 154.0,196.9 155.4,196.8 156.8,196.8 158.2,196.8 159.6,196.7 161.0,196.7 162.4,196.7 163.8,196.6 165.2,196.6 166.6,196.6 168.0,196.5 169.4,196.5 170.8,196.5 172.3,196.4 173.7,196.4 175.1,196.4 176.5,196.4 177.9,196.3 179.3,196.3 180.7,196.3 182.1,196.3 183.5,196.2 184.9,196.2 186.3,196.2 187.7,196.2 189.1,196.2 190.5,196.1 191.9,196.1 193.3,196.1 194.7,196.1 196.1,196.1 197.5,196.1 198.9,196.0 200.3,196.0 201.7,196.0 203.2,196.0 204.6,196.0 206.0,196.0 207.4,196.0 208.8,196.0 210.2,196.0 211.6,196.0 213.0,196.0 214.4,196.0 215.8,196.0 217.2,196.0" stroke="#3232c8" stroke-width="1.2" fill="none" stroke-linejoin="round"/>
<path d="M36.5,293.6 36.8,292.5 37.2,291.4 37.5,290.3 37.9,289.2 38.2,288.2 38.6,287.2 38.9,286.2 39.3,285.2 39.6,284.3 40.0,283.5 40.3,282.7 40.7,282.0 41.0,281.3 41.4,280.6 41.7,280.0 42.1,279.4 42.4,278.9 42.8,278.3 43.1,277.8 43.4,277.2 43.8,276.7 44.1,276.2 44.5,275.7 44.8,275.3 45.2,274.8 45.5,274.4 45.9,273.9 46.2,273.5 46.6,273.1 46.9,272.7 47.3,272.3 47.6,271.9 48.0,271.5 48.3,271.2 48.7,270.8 49.0,270.5 49.4,270.1 49.7,269.8 50.1,269.4 50.1,269.4 51.5,268.1 52.9,266.9 54.3,265.8 55.7,264.8 57.1,263.8 58.5,262.9 59.9,262.0 61.3,261.1 62.7,260.4 64.1,259.6 65.5,258.9 66.9,258.3 68.3,257.6 69.7,257.0 71.1,256.3 72.5,255.6 73.9,254.9 75.3,254.2 76.7,253.4 78.1,252.7 79.5,252.0 81.0,251.3 82.4,250.6 83.8,249.9 85.2,249.2 86.6,248.5 88.0,247.9 89.4,247.2 90.8,246.5 92.2,245.8 93.6,245.1 95.0,244.3 96.4,243.6 97.8,242.8 99.2,242.0 100.6,241.2 102.0,240.5 103.4,239.7 104.8,238.9 106.2,238.1 107.6,237.3 109.0,236.5 110.5,235.7 111.9,234.9 113.3,234.2 114.7,233.4 116.1,232.6 117.5,231.9 118.9,231.1 120.3,230.3 121.7,229.5 123.1,228.8 124.5,228.1 125.9,227.4 127.3,226.7 128.7,226.1 130.1,225.5 131.5,224.8 132.9,224.2 134.3,223.6 135.7,223.0 137.1,222.4 138.5,221.9 139.9,221.3 141.4,220.8 142.8,220.3 144.2,219.8 145.6,219.4 147.0,219.0 148.4,218.7 149.8,218.4 151.2,218.1 152.6,217.8 154.0,217.6 155.4,217.3 156.8,217.1 158.2,216.9 159.6,216.6 161.0,216.4 162.4,216.2 163.8,216.0 165.2,215.8 166.6,215.7 168.0,215.5 169.4,215.3 170.8,215.2 172.3,215.0 173.7,214.9 175.1,214.8 176.5,214.7 177.9,214.6 179.3,214.5 180.7,214.4 182.1,214.3 183.5,214.2 184.9,214.1 186.3,214.0 187.7,214.0 189.1,213.9 190.5,213.8 191.9,213.7 193.3,213.7 194.7,213.6 196.1,213.5 197.5,213.4 198.9,213.4 200.3,213.3 201.7,213.3 203.2,213.2 204.6,213.2 206.0,213.1 207.4,213.1 208.8,213.0 210.2,213.0 211.6,213.0 213.0,213.0 214.4,212.9 215.8,212.9 217.2,212.9" stroke="#3232c8" stroke-width="1.2" fill="none" stroke-linejoin="round"/>
<path d="M36.5,293.6 36.8,292.5 37.2,291.4 37.5,290.3 37.9,289.3 38.2,288.2 38.6,287.3 38.9,286.4 39.3,285.6 39.6,284.9 40.0,284.3 40.3,283.8 40.7,283.4 41.0,282.9 41.4,282.5 41.7,282.1 42.1,281.8 42.4,281.4 42.8,281.1 43.1,280.8 43.4,280.5 43.8,280.2 44.1,279.9 44.5,279.6 44.8,279.4 45.2,279.1 45.5,278.9 45.9,278.6 46.2,278.4 46.6,278.2 46.9,278.0 47.3,277.8 47.6,277.6 48.0,277.4 48.3,277.2 48.7,277.0 49.0,276.8 49.4,276.6 49.7,276.4 50.1,276.3 50.1,276.3 51.5,275.6 52.9,275.0 54.3,274.4 55.7,273.9 57.1,273.4 58.5,272.9 59.9,272.5 61.3,272.1 62.7,271.7 64.1,271.4 65.5,271.0 66.9,270.7 68.3,270.3 69.7,270.0 71.1,269.7 72.5,269.3 73.9,269.0 75.3,268.6 76.7,268.4 78.1,268.1 79.5,267.8 81.0,267.6 82.4,267.4 83.8,267.1 85.2,266.9 86.6,266.7 88.0,266.5 89.4,266.3 90.8,266.1 92.2,265.9 93.6,265.7 95.0,265.5 96.4,265.3 97.8,265.1 99.2,264.9 100.6,264.7 102.0,264.5 103.4,264.3 104.8,264.1 106.2,263.9 107.6,263.8 109.0,263.6 110.5,263.4 111.9,263.2 113.3,263.0 114.7,262.8 116.1,262.6 117.5,262.4 118.9,262.3 120.3,262.1 121.7,261.9 123.1,261.7 124.5,261.5 125.9,261.4 127.3,261.2 128.7,261.0 130.1,260.8 131.5,260.7 132.9,260.5 134.3,260.3 135.7,260.2 137.1,260.0 138.5,259.8 139.9,259.7 141.4,259.5 142.8,259.3 144.2,259.2 145.6,259.0 147.0,258.9 148.4,258.7 149.8,258.5 151.2,258.4 152.6,258.2 154.0,258.1 155.4,257.9 156.8,257.8 158.2,257.6 159.6,257.5 161.0,257.3 162.4,257.2 163.8,257.0 165.2,256.9 166.6,256.7 168.0,256.6 169.4,256.4 170.8,256.3 172.3,256.1 173.7,256.0 175.1,255.8 176.5,255.7 177.9,255.5 179.3,255.4 180.7,255.3 182.1,255.1 183.5,255.0 184.9,254.8 186.3,254.7 187.7,254.6 189.1,254.4 190.5,254.3 191.9,254.2 193.3,254.0 194.7,253.9 196.1,253.8 197.5,253.6 198.9,253.5 200.3,253.4 201.7,253.2 203.2,253.1 204.6,253.0 206.0,252.9 207.4,252.7 208.8,252.6 210.2,252.5 211.6,252.4 213.0,252.2 214.4,252.1 215.8,252.0 217.2,251.9" stroke="#3232c8" stroke-width="1.2" fill="none" stroke-linejoin="round"/>
<path d="M36.5,293.6 36.8,292.7 37.2,291.9 37.5,291.0 37.9,290.3 38.2,289.6 38.6,289.1 38.9,288.7 39.3,288.3 39.6,288.0 40.0,287.7 40.3,287.4 40.7,287.2 41.0,286.9 41.4,286.7 41.7,286.5 42.1,286.3 42.4,286.1 42.8,285.9 43.1,285.8 43.4,285.6 43.8,285.4 44.1,285.3 44.5,285.1 44.8,285.0 45.2,284.8 45.5,284.7 45.9,284.5 46.2,284.4 46.6,284.3 46.9,284.1 47.3,284.0 47.6,283.9 48.0,283.7 48.3,283.6 48.7,283.5 49.0,283.4 49.4,283.2 49.7,283.1 50.1,283.0 50.1,283.0 51.5,282.6 52.9,282.2 54.3,281.8 55.7,281.5 57.1,281.2 58.5,281.0 59.9,280.7 61.3,280.5 62.7,280.2 64.1,280.0 65.5,279.8 66.9,279.6 68.3,279.4 69.7,279.3 71.1,279.1 72.5,279.0 73.9,278.8 75.3,278.7 76.7,278.6 78.1,278.5 79.5,278.4 81.0,278.3 82.4,278.2 83.8,278.1 85.2,278.0 86.6,277.9 88.0,277.8 89.4,277.7 90.8,277.6 92.2,277.6 93.6,277.5 95.0,277.4 96.4,277.4 97.8,277.3 99.2,277.2 100.6,277.2 102.0,277.1 103.4,277.0 104.8,277.0 106.2,276.9 107.6,276.9 109.0,276.8 110.5,276.8 111.9,276.7 113.3,276.6 114.7,276.6 116.1,276.5 117.5,276.5 118.9,276.4 120.3,276.4 121.7,276.3 123.1,276.2 124.5,276.2 125.9,276.1 127.3,276.1 128.7,276.0 130.1,276.0 131.5,275.9 132.9,275.9 134.3,275.8 135.7,275.7 137.1,275.7 138.5,275.6 139.9,275.6 141.4,275.5 142.8,275.5 144.2,275.4 145.6,275.4 147.0,275.3 148.4,275.3 149.8,275.2 151.2,275.2 152.6,275.1 154.0,275.1 155.4,275.0 156.8,275.0 158.2,274.9 159.6,274.9 161.0,274.9 162.4,274.8 163.8,274.8 165.2,274.7 166.6,274.7 168.0,274.6 169.4,274.6 170.8,274.6 172.3,274.5 173.7,274.5 175.1,274.4 176.5,274.4 177.9,274.4 179.3,274.3 180.7,274.3 182.1,274.3 183.5,274.2 184.9,274.2 186.3,274.2 187.7,274.1 189.1,274.1 190.5,274.1 191.9,274.0 193.3,274.0 194.7,274.0 196.1,274.0 197.5,273.9 198.9,273.9 200.3,273.9 201.7,273.9 203.2,273.8 204.6,273.8 206.0,273.8 207.4,273.8 208.8,273.8 210.2,273.8 211.6,273.7 213.0,273.7 214.4,273.7 215.8,273.7 217.2,273.7" stroke="#3232c8" stroke-width="1.2" fill="none" stroke-linejoin="round"/>
<path d="M36.5,436.0 36.8,423.9 37.2,412.6 37.5,402.1 37.9,392.5 38.2,383.1 38.6,374.3 38.9,366.7 39.3,361.2 39.6,357.1 40.0,353.7 40.3,350.8 40.7,348.0 41.0,345.3 41.4,342.7 41.7,340.4 42.1,338.4 42.4,336.7 42.8,335.2 43.1,333.7 43.4,332.4 43.8,331.1 44.1,329.9 44.5,328.9 44.8,327.9 45.2,327.0 45.5,326.1 45.9,325.4 46.2,324.6 46.6,323.9 46.9,323.1 47.3,322.4 47.6,321.8 48.0,321.2 48.3,320.6 48.7,320.0 49.0,319.5 49.4,319.0 49.7,318.6 50.1,318.2 50.1,318.2 51.4,317.2 52.8,316.4 54.2,315.7 55.6,315.1 57.0,314.6 58.3,314.2 59.7,313.9 61.1,313.6 62.5,313.5 63.9,313.4 65.3,313.3 66.6,313.3 68.0,313.2 69.4,313.1 70.8,313.1 72.2,313.0 73.5,313.0 74.9,313.0 76.3,312.9 77.7,312.9 79.1,312.9 80.5,312.9 81.8,312.9 83.2,312.9 84.6,312.9 86.0,312.9 87.4,312.9 88.7,312.8 90.1,312.8 91.5,312.8 92.9,312.8 94.3,312.8 95.7,312.8 97.0,312.8 98.4,312.8 99.8,312.8 101.2,312.8 102.6,312.8 103.9,312.8 105.3,312.8 106.7,312.8 108.1,312.8 109.5,312.8 110.9,312.8 112.2,312.8 113.6,312.8 115.0,312.8 116.4,312.8 117.8,312.8 119.1,312.8 120.5,312.8 121.9,312.8 123.3,312.8 124.7,312.8 126.1,312.8 127.4,312.7 128.8,312.7 130.2,312.7 131.6,312.7 133.0,312.7 134.3,312.7 135.7,312.7 137.1,312.7 138.5,312.7 139.9,312.7 141.3,312.7 142.6,312.7 144.0,312.7 145.4,312.7 146.8,312.7 148.2,312.7 149.5,312.7 150.9,312.7 152.3,312.7 153.7,312.7 155.1,312.7 156.5,312.7 157.8,312.7 159.2,312.7 160.6,312.7 162.0,312.7 163.4,312.7 164.7,312.7 166.1,312.7 167.5,312.7 168.9,312.7 170.3,312.7 171.7,312.7 173.0,312.7 174.4,312.7 175.8,312.7 177.2,312.7 178.6,312.7 179.9,312.7 181.3,312.7 182.7,312.7 184.1,312.7 185.5,312.7 186.9,312.7 188.2,312.7 189.6,312.7 191.0,312.7 192.4,312.7 193.8,312.7 195.1,312.7 196.5,312.7 197.9,312.7 199.3,312.7 200.7,312.7 202.1,312.7 203.4,312.7 204.8,312.7 206.2,312.7 207.6,312.7 209.0,312.7 210.3,312.7 211.7,312.7 213.1,312.7 214.5,312.7" stroke="#dc2030" stroke-width="1.15" fill="none" stroke-linejoin="round"/>
<path d="M36.5,436.0 36.8,427.0 37.2,418.4 37.5,410.1 37.9,402.3 38.2,394.7 38.6,387.2 38.9,379.9 39.3,373.4 39.6,368.2 40.0,364.2 40.3,360.5 40.7,357.1 41.0,354.1 41.4,351.4 41.7,349.0 42.1,347.0 42.4,345.2 42.8,343.5 43.1,341.8 43.4,340.3 43.8,338.8 44.1,337.4 44.5,336.1 44.8,334.8 45.2,333.6 45.5,332.5 45.9,331.5 46.2,330.5 46.6,329.6 46.9,328.8 47.3,328.1 47.6,327.4 48.0,326.8 48.3,326.2 48.7,325.6 49.0,325.1 49.4,324.6 49.7,324.1 50.1,323.6 50.1,323.6 51.4,322.0 52.8,320.7 54.2,319.9 55.6,319.1 57.0,318.4 58.3,317.8 59.7,317.3 61.1,316.9 62.5,316.6 63.9,316.4 65.3,316.3 66.6,316.2 68.0,316.0 69.4,315.9 70.8,315.8 72.2,315.8 73.5,315.7 74.9,315.6 76.3,315.5 77.7,315.5 79.1,315.5 80.5,315.4 81.8,315.4 83.2,315.4 84.6,315.4 86.0,315.4 87.4,315.4 88.7,315.4 90.1,315.4 91.5,315.4 92.9,315.4 94.3,315.3 95.7,315.3 97.0,315.3 98.4,315.3 99.8,315.3 101.2,315.3 102.6,315.3 103.9,315.3 105.3,315.3 106.7,315.3 108.1,315.3 109.5,315.3 110.9,315.3 112.2,315.2 113.6,315.2 115.0,315.2 116.4,315.2 117.8,315.2 119.1,315.2 120.5,315.2 121.9,315.2 123.3,315.2 124.7,315.2 126.1,315.2 127.4,315.2 128.8,315.2 130.2,315.2 131.6,315.2 133.0,315.2 134.3,315.2 135.7,315.2 137.1,315.2 138.5,315.1 139.9,315.1 141.3,315.1 142.6,315.1 144.0,315.1 145.4,315.1 146.8,315.1 148.2,315.1 149.5,315.1 150.9,315.1 152.3,315.1 153.7,315.1 155.1,315.1 156.5,315.1 157.8,315.1 159.2,315.1 160.6,315.1 162.0,315.1 163.4,315.1 164.7,315.1 166.1,315.1 167.5,315.1 168.9,315.1 170.3,315.1 171.7,315.1 173.0,315.1 174.4,315.1 175.8,315.1 177.2,315.1 178.6,315.1 179.9,315.1 181.3,315.1 182.7,315.1 184.1,315.1 185.5,315.1 186.9,315.1 188.2,315.1 189.6,315.1 191.0,315.1 192.4,315.1 193.8,315.1 195.1,315.1 196.5,315.1 197.9,315.1 199.3,315.1 200.7,315.1 202.1,315.1 203.4,315.1 204.8,315.1 206.2,315.1 207.6,315.1 209.0,315.1 210.3,315.1 211.7,315.0 213.1,315.0 214.5,315.0" stroke="#dc2030" stroke-width="1.15" fill="none" stroke-linejoin="round"/>
<path d="M36.5,436.0 36.8,429.9 37.2,424.0 37.5,418.4 37.9,413.2 38.2,408.2 38.6,403.2 38.9,398.3 39.3,394.1 39.6,390.8 40.0,388.4 40.3,386.5 40.7,384.8 41.0,383.3 41.4,381.8 41.7,380.2 42.1,378.4 42.4,376.4 42.8,374.4 43.1,372.2 43.4,370.0 43.8,367.9 44.1,365.7 44.5,363.7 44.8,361.7 45.2,359.9 45.5,358.3 45.9,356.8 46.2,355.4 46.6,354.0 46.9,352.6 47.3,351.3 47.6,350.0 48.0,348.7 48.3,347.5 48.7,346.4 49.0,345.3 49.4,344.2 49.7,343.2 50.1,342.3 50.1,342.3 51.4,339.0 52.8,336.0 54.2,333.3 55.5,330.8 56.9,328.7 58.3,327.0 59.6,325.7 61.0,324.5 62.4,323.5 63.7,322.5 65.1,321.7 66.5,321.2 67.8,320.8 69.2,320.6 70.6,320.4 71.9,320.2 73.3,320.1 74.7,319.9 76.0,319.8 77.4,319.7 78.8,319.6 80.1,319.5 81.5,319.4 82.9,319.3 84.2,319.3 85.6,319.2 87.0,319.2 88.3,319.2 89.7,319.1 91.1,319.1 92.4,319.1 93.8,319.1 95.2,319.1 96.5,319.1 97.9,319.1 99.3,319.1 100.6,319.1 102.0,319.1 103.4,319.1 104.7,319.0 106.1,319.0 107.5,319.0 108.8,319.0 110.2,319.0 111.6,319.0 112.9,319.0 114.3,319.0 115.7,319.0 117.0,319.0 118.4,319.0 119.8,319.0 121.1,319.0 122.5,319.0 123.9,319.0 125.2,319.0 126.6,319.0 128.0,319.0 129.3,319.0 130.7,318.9 132.1,318.9 133.4,318.9 134.8,318.9 136.2,318.9 137.5,318.9 138.9,318.9 140.3,318.9 141.6,318.9 143.0,318.9 144.4,318.9 145.7,318.9 147.1,318.9 148.5,318.9 149.8,318.9 151.2,318.9 152.6,318.9 153.9,318.9 155.3,318.9 156.7,318.9 158.0,318.9 159.4,318.9 160.8,318.9 162.1,318.9 163.5,318.9 164.9,318.9 166.2,318.9 167.6,318.9 169.0,318.9 170.3,318.9 171.7,318.9 173.0,318.9 174.4,318.9 175.8,318.9 177.1,318.9 178.5,318.9 179.9,318.9 181.2,318.9 182.6,318.8 184.0,318.8 185.3,318.8 186.7,318.8 188.1,318.8 189.4,318.8 190.8,318.8 192.2,318.8 193.5,318.8 194.9,318.8 196.3,318.8 197.6,318.8 199.0,318.8 200.4,318.8 201.7,318.8 203.1,318.8 204.5,318.8 205.8,318.8 207.2,318.8 208.6,318.8 209.9,318.8 211.3,318.8 212.7,318.8" stroke="#dc2030" stroke-width="1.15" fill="none" stroke-linejoin="round"/>
<path d="M36.5,436.0 36.8,431.3 37.2,426.8 37.5,422.4 37.9,418.3 38.2,414.3 38.6,410.1 38.9,406.1 39.3,402.6 39.6,400.2 40.0,398.6 40.3,397.4 40.7,396.4 41.0,395.5 41.4,394.6 41.7,393.8 42.1,392.9 42.4,391.9 42.8,390.9 43.1,389.9 43.4,388.9 43.8,387.9 44.1,386.8 44.5,385.8 44.8,384.8 45.2,383.8 45.5,382.8 45.9,381.7 46.2,380.7 46.6,379.7 46.9,378.7 47.3,377.7 47.6,376.7 48.0,375.7 48.3,374.7 48.7,373.7 49.0,372.7 49.4,371.7 49.7,370.7 50.1,369.7 50.1,369.7 51.4,365.7 52.8,361.5 54.2,357.5 55.6,353.9 57.0,350.7 58.3,347.8 59.7,344.9 61.1,342.2 62.5,339.6 63.9,337.3 65.3,335.2 66.6,333.4 68.0,331.9 69.4,330.7 70.8,329.6 72.2,328.6 73.5,327.8 74.9,327.1 76.3,326.6 77.7,326.2 79.1,325.8 80.5,325.5 81.8,325.2 83.2,324.9 84.6,324.6 86.0,324.4 87.4,324.1 88.7,324.0 90.1,323.8 91.5,323.7 92.9,323.6 94.3,323.5 95.7,323.5 97.0,323.5 98.4,323.4 99.8,323.4 101.2,323.4 102.6,323.4 103.9,323.3 105.3,323.3 106.7,323.3 108.1,323.3 109.5,323.3 110.9,323.3 112.2,323.2 113.6,323.2 115.0,323.2 116.4,323.2 117.8,323.2 119.1,323.2 120.5,323.1 121.9,323.1 123.3,323.1 124.7,323.1 126.1,323.1 127.4,323.1 128.8,323.1 130.2,323.0 131.6,323.0 133.0,323.0 134.3,323.0 135.7,323.0 137.1,323.0 138.5,323.0 139.9,323.0 141.3,323.0 142.6,322.9 144.0,322.9 145.4,322.9 146.8,322.9 148.2,322.9 149.5,322.9 150.9,322.9 152.3,322.9 153.7,322.9 155.1,322.9 156.5,322.9 157.8,322.8 159.2,322.8 160.6,322.8 162.0,322.8 163.4,322.8 164.7,322.8 166.1,322.8 167.5,322.8 168.9,322.8 170.3,322.8 171.7,322.8 173.0,322.8 174.4,322.8 175.8,322.8 177.2,322.8 178.6,322.8 179.9,322.8 181.3,322.8 182.7,322.8 184.1,322.8 185.5,322.8 186.9,322.7 188.2,322.7 189.6,322.7 191.0,322.7 192.4,322.7 193.8,322.7 195.1,322.7 196.5,322.7 197.9,322.7 199.3,322.7 200.7,322.7 202.1,322.7 203.4,322.7 204.8,322.7 206.2,322.7 207.6,322.7 209.0,322.7 210.3,322.7 211.7,322.7 213.1,322.7 214.5,322.7" stroke="#dc2030" stroke-width="1.15" fill="none" stroke-linejoin="round"/>
<path d="M36.5,436.0 36.8,432.0 37.2,428.1 37.5,424.4 37.9,420.8 38.2,417.4 38.6,413.6 38.9,410.0 39.3,406.9 39.6,404.9 40.0,403.8 40.3,402.9 40.7,402.1 41.0,401.5 41.4,401.0 41.7,400.4 42.1,399.9 42.4,399.2 42.8,398.6 43.1,398.0 43.4,397.3 43.8,396.7 44.1,396.1 44.5,395.5 44.8,394.9 45.2,394.3 45.5,393.8 45.9,393.2 46.2,392.6 46.6,392.1 46.9,391.5 47.3,390.9 47.6,390.4 48.0,389.8 48.3,389.3 48.7,388.7 49.0,388.2 49.4,387.6 49.7,387.1 50.1,386.5 50.1,386.5 51.4,384.4 52.8,382.2 54.1,379.9 55.5,377.6 56.9,375.2 58.2,372.8 59.6,370.3 61.0,367.9 62.3,365.4 63.7,362.9 65.0,360.3 66.4,357.6 67.8,354.6 69.1,351.5 70.5,348.3 71.9,345.3 73.2,342.5 74.6,340.1 75.9,338.2 77.3,336.8 78.7,335.6 80.0,334.5 81.4,333.6 82.8,332.8 84.1,332.2 85.5,331.7 86.8,331.3 88.2,330.9 89.6,330.5 90.9,330.2 92.3,329.8 93.7,329.5 95.0,329.3 96.4,329.0 97.8,328.8 99.1,328.6 100.5,328.5 101.8,328.3 103.2,328.3 104.6,328.2 105.9,328.2 107.3,328.1 108.7,328.1 110.0,328.1 111.4,328.0 112.7,328.0 114.1,328.0 115.5,327.9 116.8,327.9 118.2,327.9 119.6,327.8 120.9,327.8 122.3,327.8 123.6,327.8 125.0,327.7 126.4,327.7 127.7,327.7 129.1,327.7 130.5,327.6 131.8,327.6 133.2,327.6 134.5,327.6 135.9,327.5 137.3,327.5 138.6,327.5 140.0,327.5 141.4,327.4 142.7,327.4 144.1,327.4 145.5,327.4 146.8,327.4 148.2,327.4 149.5,327.3 150.9,327.3 152.3,327.3 153.6,327.3 155.0,327.3 156.4,327.3 157.7,327.2 159.1,327.2 160.4,327.2 161.8,327.2 163.2,327.2 164.5,327.2 165.9,327.2 167.3,327.2 168.6,327.1 170.0,327.1 171.3,327.1 172.7,327.1 174.1,327.1 175.4,327.1 176.8,327.1 178.2,327.1 179.5,327.1 180.9,327.1 182.2,327.1 183.6,327.0 185.0,327.0 186.3,327.0 187.7,327.0 189.1,327.0 190.4,327.0 191.8,327.0 193.2,327.0 194.5,327.0 195.9,327.0 197.2,327.0 198.6,327.0 200.0,327.0 201.3,327.0 202.7,327.0 204.1,327.0 205.4,327.0 206.8,327.0 208.1,327.0 209.5,327.0 210.9,327.0 212.2,327.0" stroke="#dc2030" stroke-width="1.15" fill="none" stroke-linejoin="round"/>
<path d="M36.5,436.0 36.8,432.6 37.2,429.3 37.5,426.1 37.9,423.0 38.2,419.9 38.6,416.5 38.9,413.1 39.3,410.3 39.6,408.6 40.0,408.0 40.3,407.4 40.7,407.1 41.0,406.7 41.4,406.5 41.7,406.2 42.1,405.9 42.4,405.5 42.8,405.1 43.1,404.8 43.4,404.4 43.8,404.0 44.1,403.7 44.5,403.3 44.8,402.9 45.2,402.6 45.5,402.2 45.9,401.9 46.2,401.5 46.6,401.1 46.9,400.8 47.3,400.4 47.6,400.1 48.0,399.7 48.3,399.4 48.7,399.0 49.0,398.7 49.4,398.3 49.7,398.0 50.1,397.6 50.1,397.6 51.4,396.2 52.8,394.8 54.2,393.3 55.6,391.9 57.0,390.4 58.3,388.9 59.7,387.4 61.1,385.9 62.5,384.4 63.9,382.9 65.3,381.3 66.6,379.8 68.0,378.1 69.4,376.4 70.8,374.7 72.2,372.8 73.5,370.9 74.9,368.8 76.3,366.6 77.7,364.4 79.1,362.1 80.5,359.8 81.8,357.6 83.2,355.5 84.6,353.4 86.0,351.4 87.4,349.6 88.7,348.0 90.1,346.3 91.5,344.6 92.9,343.0 94.3,341.5 95.7,340.1 97.0,338.9 98.4,338.0 99.8,337.3 101.2,336.7 102.6,336.1 103.9,335.6 105.3,335.1 106.7,334.7 108.1,334.4 109.5,334.0 110.9,333.8 112.2,333.6 113.6,333.4 115.0,333.3 116.4,333.2 117.8,333.2 119.1,333.1 120.5,333.0 121.9,332.9 123.3,332.9 124.7,332.8 126.1,332.8 127.4,332.7 128.8,332.7 130.2,332.7 131.6,332.6 133.0,332.6 134.3,332.6 135.7,332.6 137.1,332.6 138.5,332.6 139.9,332.6 141.3,332.5 142.6,332.5 144.0,332.5 145.4,332.5 146.8,332.5 148.2,332.5 149.5,332.5 150.9,332.5 152.3,332.5 153.7,332.5 155.1,332.5 156.5,332.5 157.8,332.5 159.2,332.5 160.6,332.5 162.0,332.5 163.4,332.5 164.7,332.5 166.1,332.4 167.5,332.4 168.9,332.4 170.3,332.4 171.7,332.4 173.0,332.4 174.4,332.4 175.8,332.4 177.2,332.4 178.6,332.4 179.9,332.4 181.3,332.4 182.7,332.4 184.1,332.4 185.5,332.4 186.9,332.4 188.2,332.4 189.6,332.4 191.0,332.4 192.4,332.4 193.8,332.4 195.1,332.4 196.5,332.4 197.9,332.4 199.3,332.4 200.7,332.4 202.1,332.4 203.4,332.4 204.8,332.4 206.2,332.4 207.6,332.4 209.0,332.4 210.3,332.4 211.7,332.4 213.1,332.4 214.5,332.4" stroke="#dc2030" stroke-width="1.15" fill="none" stroke-linejoin="round"/>
<path d="M36.5,436.0 36.8,433.0 37.2,430.1 37.5,427.3 37.9,424.7 38.2,422.0 38.6,419.0 38.9,416.2 39.3,413.8 39.6,412.4 40.0,411.8 40.3,411.4 40.7,411.1 41.0,410.8 41.4,410.5 41.7,410.3 42.1,410.1 42.4,409.8 42.8,409.6 43.1,409.3 43.4,409.1 43.8,408.8 44.1,408.6 44.5,408.3 44.8,408.1 45.2,407.9 45.5,407.7 45.9,407.4 46.2,407.2 46.6,407.0 46.9,406.8 47.3,406.6 47.6,406.4 48.0,406.2 48.3,406.0 48.7,405.8 49.0,405.6 49.4,405.4 49.7,405.2 50.1,405.0 50.1,405.0 51.4,404.3 52.7,403.6 54.0,402.9 55.3,402.2 56.7,401.5 58.0,400.7 59.3,399.9 60.6,399.0 61.9,398.2 63.3,397.4 64.6,396.5 65.9,395.7 67.2,394.9 68.5,394.0 69.9,393.1 71.2,392.2 72.5,391.3 73.8,390.4 75.2,389.4 76.5,388.4 77.8,387.4 79.1,386.3 80.4,385.2 81.8,384.0 83.1,382.7 84.4,381.4 85.7,380.1 87.0,378.7 88.4,377.3 89.7,375.9 91.0,374.6 92.3,373.2 93.6,371.8 95.0,370.4 96.3,368.9 97.6,367.5 98.9,366.2 100.3,364.9 101.6,363.7 102.9,362.7 104.2,361.8 105.5,360.9 106.9,360.0 108.2,359.1 109.5,358.3 110.8,357.5 112.1,356.8 113.5,356.0 114.8,355.3 116.1,354.7 117.4,354.0 118.7,353.4 120.1,352.7 121.4,352.1 122.7,351.5 124.0,350.9 125.4,350.3 126.7,349.7 128.0,349.1 129.3,348.5 130.6,347.9 132.0,347.3 133.3,346.8 134.6,346.2 135.9,345.7 137.2,345.2 138.6,344.8 139.9,344.4 141.2,344.0 142.5,343.7 143.8,343.4 145.2,343.2 146.5,343.1 147.8,342.9 149.1,342.8 150.5,342.7 151.8,342.6 153.1,342.5 154.4,342.4 155.7,342.3 157.1,342.2 158.4,342.1 159.7,342.1 161.0,342.0 162.3,342.0 163.7,341.9 165.0,341.9 166.3,341.9 167.6,341.9 169.0,341.8 170.3,341.8 171.6,341.8 172.9,341.8 174.2,341.8 175.6,341.8 176.9,341.8 178.2,341.8 179.5,341.8 180.8,341.8 182.2,341.8 183.5,341.8 184.8,341.8 186.1,341.8 187.4,341.8 188.8,341.8 190.1,341.8 191.4,341.8 192.7,341.8 194.1,341.8 195.4,341.8 196.7,341.8 198.0,341.8 199.3,341.8 200.7,341.8 202.0,341.8 203.3,341.8 204.6,341.8 205.9,341.8 207.3,341.8" stroke="#dc2030" stroke-width="1.15" fill="none" stroke-linejoin="round"/>
<path d="M36.5,436.0 36.8,433.3 37.2,430.8 37.5,428.3 37.9,425.9 38.2,423.6 38.6,421.0 38.9,418.5 39.3,416.4 39.6,415.2 40.0,414.8 40.3,414.4 40.7,414.1 41.0,413.9 41.4,413.7 41.7,413.5 42.1,413.4 42.4,413.2 42.8,413.0 43.1,412.8 43.4,412.6 43.8,412.5 44.1,412.3 44.5,412.1 44.8,412.0 45.2,411.8 45.5,411.6 45.9,411.5 46.2,411.3 46.6,411.2 46.9,411.0 47.3,410.9 47.6,410.7 48.0,410.6 48.3,410.4 48.7,410.3 49.0,410.1 49.4,410.0 49.7,409.9 50.1,409.7 50.1,409.7 51.4,409.3 52.7,408.8 54.0,408.3 55.3,407.9 56.7,407.5 58.0,407.1 59.3,406.7 60.6,406.3 61.9,405.8 63.3,405.4 64.6,405.0 65.9,404.6 67.2,404.1 68.5,403.6 69.9,403.2 71.2,402.7 72.5,402.3 73.8,401.9 75.2,401.4 76.5,401.0 77.8,400.6 79.1,400.1 80.4,399.7 81.8,399.3 83.1,398.8 84.4,398.4 85.7,397.9 87.0,397.4 88.4,396.9 89.7,396.4 91.0,395.9 92.3,395.3 93.6,394.7 95.0,394.1 96.3,393.4 97.6,392.7 98.9,391.9 100.3,391.0 101.6,390.1 102.9,389.3 104.2,388.4 105.5,387.5 106.9,386.6 108.2,385.8 109.5,385.0 110.8,384.3 112.1,383.6 113.5,382.9 114.8,382.2 116.1,381.6 117.4,381.0 118.7,380.3 120.1,379.7 121.4,379.1 122.7,378.6 124.0,378.0 125.4,377.4 126.7,376.9 128.0,376.2 129.3,376.2 130.6,375.4 132.0,374.5 133.3,374.4 134.6,373.7 135.9,373.1 137.2,372.6 138.6,372.2 139.9,372.4 141.2,371.6 142.5,371.1 143.8,371.0 145.2,370.1 146.5,369.5 147.8,368.8 149.1,368.2 150.5,368.5 151.8,367.9 153.1,367.0 154.4,367.0 155.7,366.4 157.1,365.6 158.4,365.5 159.7,364.4 161.0,363.9 162.3,364.2 163.7,363.3 165.0,362.6 166.3,362.1 167.6,362.4 169.0,362.1 170.3,361.2 171.6,360.8 172.9,361.2 174.2,360.7 175.6,360.2 176.9,359.8 178.2,360.2 179.5,359.5 180.8,359.1 182.2,359.1 183.5,359.3 184.8,359.2 186.1,358.8 187.4,358.1 188.8,358.6 190.1,358.5 191.4,358.0 192.7,358.2 194.1,357.9 195.4,357.9 196.7,357.3 198.0,357.0 199.3,357.1 200.7,357.3 202.0,357.0 203.3,356.6 204.6,356.2 205.9,356.1 207.3,356.7" stroke="#dc2030" stroke-width="1.15" fill="none" stroke-linejoin="round"/>
<path d="M36.5,436.0 36.8,433.9 37.2,431.9 37.5,429.9 37.9,428.0 38.2,426.1 38.6,424.0 38.9,421.9 39.3,420.2 39.6,419.2 40.0,418.8 40.3,418.5 40.7,418.3 41.0,418.1 41.4,417.9 41.7,417.8 42.1,417.7 42.4,417.6 42.8,417.5 43.1,417.4 43.4,417.3 43.8,417.2 44.1,417.1 44.5,417.1 44.8,417.0 45.2,416.9 45.5,416.8 45.9,416.7 46.2,416.7 46.6,416.6 46.9,416.5 47.3,416.4 47.6,416.4 48.0,416.3 48.3,416.2 48.7,416.2 49.0,416.1 49.4,416.0 49.7,416.0 50.1,415.9 50.1,415.9 51.4,415.7 52.7,415.5 54.0,415.3 55.3,415.1 56.7,414.9 58.0,414.8 59.3,414.6 60.6,414.5 61.9,414.3 63.3,414.2 64.6,414.1 65.9,414.0 67.2,413.9 68.5,413.7 69.9,413.6 71.2,413.5 72.5,413.4 73.8,413.2 75.2,413.1 76.5,413.0 77.8,412.8 79.1,412.7 80.4,412.5 81.8,412.3 83.1,412.1 84.4,411.9 85.7,411.7 87.0,411.5 88.4,411.4 89.7,411.2 91.0,411.0 92.3,410.8 93.6,410.6 95.0,410.4 96.3,410.2 97.6,410.0 98.9,409.7 100.3,409.5 101.6,409.3 102.9,409.1 104.2,408.9 105.5,408.7 106.9,408.5 108.2,408.3 109.5,408.1 110.8,407.9 112.1,407.7 113.5,407.5 114.8,407.3 116.1,407.0 117.4,406.8 118.7,406.6 120.1,406.4 121.4,406.2 122.7,406.0 124.0,405.8 125.4,405.6 126.7,405.4 128.0,405.2 129.3,405.0 130.6,404.8 132.0,404.6 133.3,404.4 134.6,404.3 135.9,404.1 137.2,403.9 138.6,403.7 139.9,403.5 141.2,403.3 142.5,403.2 143.8,403.0 145.2,402.8 146.5,402.6 147.8,402.5 149.1,402.3 150.5,402.1 151.8,402.0 153.1,401.8 154.4,401.6 155.7,401.5 157.1,401.3 158.4,401.1 159.7,401.0 161.0,400.8 162.3,400.7 163.7,400.5 165.0,400.4 166.3,400.2 167.6,400.0 169.0,399.9 170.3,399.7 171.6,399.6 172.9,399.4 174.2,399.3 175.6,399.1 176.9,399.0 178.2,398.8 179.5,398.7 180.8,398.5 182.2,398.4 183.5,398.2 184.8,398.1 186.1,398.0 187.4,397.8 188.8,397.7 190.1,397.5 191.4,397.4 192.7,397.3 194.1,397.1 195.4,397.0 196.7,396.9 198.0,396.7 199.3,396.6 200.7,396.5 202.0,396.3 203.3,396.2 204.6,396.1 205.9,396.0 207.3,395.8" stroke="#dc2030" stroke-width="1.15" fill="none" stroke-linejoin="round"/>
<path d="M334.3,151.2 334.4,151.2 334.5,151.2 334.6,151.2 334.7,151.2 334.8,151.2 334.8,151.2 334.9,151.2 335.0,151.2 335.1,151.2 335.2,151.2 335.3,151.2 335.4,151.2 335.5,151.2 335.6,151.2 335.7,151.2 335.7,151.2 335.8,151.2 335.9,151.2 336.0,151.2 336.1,151.2 336.2,151.2 336.3,151.2 336.4,151.0 336.5,150.6 336.6,150.3 336.6,149.9 336.7,149.6 336.8,149.2 336.9,148.9 337.0,148.5 337.1,148.2 337.2,147.8 337.3,147.5 337.4,147.1 337.5,146.7 337.5,146.4 337.6,146.0 337.7,145.7 337.8,145.4 337.9,145.0 338.0,144.7 338.1,144.3 338.2,144.0 338.3,143.6 338.4,143.3 338.4,142.9 338.5,142.6 338.6,142.2 338.7,141.9 338.8,141.5 338.9,141.2 339.0,140.8 339.1,140.5 339.2,140.2 339.3,139.8 339.3,139.5 339.4,139.1 339.5,138.8 339.6,138.5 339.7,138.1 339.8,137.8 339.9,137.4 340.0,137.1 340.1,136.8 340.2,136.4 340.2,136.1 340.3,135.7 340.4,135.4 340.5,135.1 340.6,134.7 340.7,134.4 340.8,134.0 340.9,133.7 341.0,133.4 341.1,133.0 341.1,132.7 341.2,132.4 341.3,132.0 341.4,131.7 341.5,131.4 341.6,131.0 341.7,130.7 341.8,130.4 341.9,130.0 342.0,129.7 342.0,129.4 342.1,129.0 342.2,128.7 342.3,128.4 342.4,128.1 342.5,127.7 342.6,127.4 342.7,127.1 342.8,126.7 342.9,126.4 342.9,126.1 343.0,125.8 343.1,125.4 343.2,125.1 343.3,124.8 343.4,124.5 343.5,124.1 343.6,123.8 343.7,123.5 343.8,123.2 343.8,122.8 343.9,122.5 344.0,122.2 344.1,121.9 344.2,121.5 344.3,121.2 344.4,120.9 344.5,120.6 344.6,120.2 344.7,119.9 344.7,119.6 344.8,119.3 344.9,119.0 345.0,118.6 345.1,118.3 345.2,118.0 345.3,117.7 345.4,117.4 345.5,117.1 345.6,116.7 345.6,116.4 345.7,116.1 345.8,115.8 345.9,115.5 346.0,115.2 346.1,114.8 346.2,114.5 346.3,114.2 346.4,113.9 346.5,113.6 346.5,113.3 346.6,113.0 346.7,112.6 346.8,112.3 346.9,112.0 347.0,111.7 347.1,111.4 347.2,111.1 347.3,110.8 347.4,110.5 347.4,110.1 347.5,109.8 347.6,109.5 347.7,109.2 347.8,108.9 347.9,108.6 348.0,108.3 348.1,108.0 348.2,107.7 348.3,107.4 348.3,107.1 348.4,106.7 348.5,106.4 348.6,106.1 348.7,105.8 348.8,105.5 348.9,105.2 349.0,104.9 349.1,104.6 349.2,104.3 349.2,104.0 349.3,103.7 349.4,103.4 349.5,103.1 349.6,102.8 349.7,102.5 349.8,102.2 349.9,101.9 350.0,101.6 350.1,101.3 350.1,101.0 350.2,100.7 350.3,100.4 350.4,100.1 350.5,99.8 350.6,99.5 350.7,99.2 350.8,98.9 350.9,98.6 351.0,98.3 351.0,98.0 351.1,97.7 351.2,97.4 351.3,97.1 351.4,96.8 351.5,96.5 351.6,96.2 351.7,95.9 351.8,95.6 351.9,95.3 351.9,95.0 352.0,94.7 352.1,94.4 352.2,94.1 353.3,90.6 354.4,87.2 355.5,83.7 356.5,80.4 357.6,77.0 358.7,73.7 359.8,70.5 360.9,67.3 362.0,64.1 363.0,61.0 364.1,58.0 365.2,55.0 366.3,52.1 367.4,49.3 368.5,46.5 369.5,43.9 370.6,41.5 371.7,39.2 372.8,37.0 373.9,35.1 375.0,33.3 376.0,31.8 377.1,30.4 378.2,29.2 379.3,28.2 380.4,27.3 381.4,26.6 382.5,26.0 383.6,25.5 384.7,25.1 385.8,24.8 386.9,24.5 387.9,24.3 389.0,24.1 390.1,23.9 391.2,23.7 392.3,23.6 393.4,23.5 394.4,23.4 395.5,23.3 396.6,23.3 397.7,23.2 398.8,23.2 399.8,23.1 400.9,23.1 402.0,23.0 403.1,23.0 404.2,22.9 405.3,22.9 406.3,22.9 407.4,22.8 408.5,22.8 409.6,22.8 410.7,22.8 411.8,22.7 412.8,22.7 413.9,22.7 415.0,22.7 416.1,22.6 417.2,22.6 418.2,22.6 419.3,22.6 420.4,22.6 421.5,22.5 422.6,22.5 423.7,22.5 424.7,22.5 425.8,22.4 426.9,22.4 428.0,22.4 429.1,22.4 430.2,22.4 431.2,22.3 432.3,22.3 433.4,22.3 434.5,22.3 435.6,22.3 436.6,22.2 437.7,22.2 438.8,22.2 439.9,22.2 441.0,22.2 442.1,22.1 443.1,22.1 444.2,22.1 445.3,22.1 446.4,22.1 447.5,22.0 448.6,22.0 449.6,22.0 450.7,22.0 451.8,22.0 452.9,21.9 454.0,21.9 455.0,21.9 456.1,21.9 457.2,21.9 458.3,21.8 459.4,21.8 460.5,21.8 461.5,21.8 462.6,21.8 463.7,21.7 464.8,21.7 465.9,21.7 467.0,21.7 468.0,21.7 469.1,21.6 470.2,21.6 471.3,21.6 472.4,21.6 473.5,21.6 474.5,21.5 475.6,21.5 476.7,21.5 477.8,21.5 478.9,21.5 479.9,21.4 481.0,21.4 482.1,21.4 483.2,21.4 484.3,21.4 485.4,21.3 486.4,21.3 487.5,21.3 488.6,21.3 489.7,21.3 490.8,21.2 491.9,21.2 492.9,21.2 494.0,21.2 495.1,21.2 496.2,21.1 497.3,21.1 498.3,21.1 499.4,21.1 500.5,21.1 501.6,21.0 502.7,21.0 503.8,21.0 504.8,21.0 505.9,21.0 507.0,20.9 508.1,20.9 509.2,20.9 510.3,20.9 511.3,20.9 512.4,20.8 513.5,20.8" stroke="#111" stroke-width="1.15" fill="none" stroke-linejoin="round"/>
<path d="M334.3,151.2 334.4,151.2 334.5,151.2 334.6,151.2 334.7,151.2 334.8,151.2 334.8,151.2 334.9,151.2 335.0,151.2 335.1,151.2 335.2,151.2 335.3,151.2 335.4,151.2 335.5,151.2 335.6,151.2 335.7,151.2 335.7,151.2 335.8,151.2 335.9,151.2 336.0,151.2 336.1,151.2 336.2,151.2 336.3,151.2 336.4,151.2 336.5,151.2 336.6,151.2 336.6,151.2 336.7,151.2 336.8,151.2 336.9,151.0 337.0,150.6 337.1,150.2 337.2,149.9 337.3,149.5 337.4,149.2 337.5,148.8 337.5,148.5 337.6,148.1 337.7,147.7 337.8,147.4 337.9,147.0 338.0,146.7 338.1,146.3 338.2,146.0 338.3,145.6 338.4,145.2 338.4,144.9 338.5,144.5 338.6,144.2 338.7,143.8 338.8,143.5 338.9,143.1 339.0,142.8 339.1,142.4 339.2,142.1 339.3,141.7 339.3,141.4 339.4,141.0 339.5,140.7 339.6,140.3 339.7,140.0 339.8,139.6 339.9,139.3 340.0,138.9 340.1,138.6 340.2,138.2 340.2,137.9 340.3,137.6 340.4,137.2 340.5,136.9 340.6,136.5 340.7,136.2 340.8,135.8 340.9,135.5 341.0,135.1 341.1,134.8 341.1,134.5 341.2,134.1 341.3,133.8 341.4,133.4 341.5,133.1 341.6,132.8 341.7,132.4 341.8,132.1 341.9,131.7 342.0,131.4 342.0,131.1 342.1,130.7 342.2,130.4 342.3,130.0 342.4,129.7 342.5,129.4 342.6,129.0 342.7,128.7 342.8,128.4 342.9,128.0 342.9,127.7 343.0,127.4 343.1,127.0 343.2,126.7 343.3,126.4 343.4,126.0 343.5,125.7 343.6,125.4 343.7,125.0 343.8,124.7 343.8,124.4 343.9,124.0 344.0,123.7 344.1,123.4 344.2,123.0 344.3,122.7 344.4,122.4 344.5,122.1 344.6,121.7 344.7,121.4 344.7,121.1 344.8,120.7 344.9,120.4 345.0,120.1 345.1,119.8 345.2,119.4 345.3,119.1 345.4,118.8 345.5,118.5 345.6,118.1 345.6,117.8 345.7,117.5 345.8,117.2 345.9,116.9 346.0,116.5 346.1,116.2 346.2,115.9 346.3,115.6 346.4,115.2 346.5,114.9 346.5,114.6 346.6,114.3 346.7,114.0 346.8,113.6 346.9,113.3 347.0,113.0 347.1,112.7 347.2,112.4 347.3,112.1 347.4,111.7 347.4,111.4 347.5,111.1 347.6,110.8 347.7,110.5 347.8,110.2 347.9,109.8 348.0,109.5 348.1,109.2 348.2,108.9 348.3,108.6 348.3,108.3 348.4,108.0 348.5,107.6 348.6,107.3 348.7,107.0 348.8,106.7 348.9,106.4 349.0,106.1 349.1,105.8 349.2,105.5 349.2,105.2 349.3,104.8 349.4,104.5 349.5,104.2 349.6,103.9 349.7,103.6 349.8,103.3 349.9,103.0 350.0,102.7 350.1,102.4 350.1,102.1 350.2,101.8 350.3,101.5 350.4,101.1 350.5,100.8 350.6,100.5 350.7,100.2 350.8,99.9 350.9,99.6 351.0,99.3 351.0,99.0 351.1,98.7 351.2,98.4 351.3,98.1 351.4,97.8 351.5,97.5 351.6,97.2 351.7,96.9 351.8,96.6 351.9,96.3 351.9,96.0 352.0,95.7 352.1,95.4 352.2,95.1 353.3,91.5 354.4,88.0 355.5,84.5 356.5,81.1 357.6,77.7 358.7,74.3 359.8,71.0 360.9,67.7 362.0,64.5 363.0,61.3 364.1,58.2 365.2,55.2 366.3,52.2 367.4,49.3 368.5,46.5 369.5,43.8 370.6,41.3 371.7,38.9 372.8,36.7 373.9,34.7 375.0,33.0 376.0,31.4 377.1,30.1 378.2,29.0 379.3,28.1 380.4,27.3 381.4,26.7 382.5,26.2 383.6,25.7 384.7,25.4 385.8,25.1 386.9,24.9 387.9,24.7 389.0,24.6 390.1,24.4 391.2,24.3 392.3,24.3 393.4,24.2 394.4,24.1 395.5,24.1 396.6,24.0 397.7,24.0 398.8,23.9 399.8,23.9 400.9,23.9 402.0,23.8 403.1,23.8 404.2,23.8 405.3,23.8 406.3,23.7 407.4,23.7 408.5,23.7 409.6,23.7 410.7,23.7 411.8,23.6 412.8,23.6 413.9,23.6 415.0,23.6 416.1,23.6 417.2,23.6 418.2,23.5 419.3,23.5 420.4,23.5 421.5,23.5 422.6,23.5 423.7,23.5 424.7,23.4 425.8,23.4 426.9,23.4 428.0,23.4 429.1,23.4 430.2,23.4 431.2,23.3 432.3,23.3 433.4,23.3 434.5,23.3 435.6,23.3 436.6,23.3 437.7,23.2 438.8,23.2 439.9,23.2 441.0,23.2 442.1,23.2 443.1,23.2 444.2,23.2 445.3,23.1 446.4,23.1 447.5,23.1 448.6,23.1 449.6,23.1 450.7,23.1 451.8,23.0 452.9,23.0 454.0,23.0 455.0,23.0 456.1,23.0 457.2,23.0 458.3,22.9 459.4,22.9 460.5,22.9 461.5,22.9 462.6,22.9 463.7,22.9 464.8,22.9 465.9,22.8 467.0,22.8 468.0,22.8 469.1,22.8 470.2,22.8 471.3,22.8 472.4,22.7 473.5,22.7 474.5,22.7 475.6,22.7 476.7,22.7 477.8,22.7 478.9,22.6 479.9,22.6 481.0,22.6 482.1,22.6 483.2,22.6 484.3,22.6 485.4,22.6 486.4,22.5 487.5,22.5 488.6,22.5 489.7,22.5 490.8,22.5 491.9,22.5 492.9,22.4 494.0,22.4 495.1,22.4 496.2,22.4 497.3,22.4 498.3,22.4 499.4,22.4 500.5,22.3 501.6,22.3 502.7,22.3 503.8,22.3 504.8,22.3 505.9,22.3 507.0,22.2 508.1,22.2 509.2,22.2 510.3,22.2 511.3,22.2 512.4,22.2 513.5,22.1" stroke="#111" stroke-width="1.15" fill="none" stroke-linejoin="round"/>
<path d="M334.3,151.2 334.4,151.2 334.5,151.2 334.6,151.2 334.7,151.2 334.8,151.2 334.8,151.2 334.9,151.2 335.0,151.2 335.1,151.2 335.2,151.2 335.3,151.2 335.4,151.2 335.5,151.2 335.6,151.2 335.7,151.2 335.7,151.2 335.8,151.2 335.9,151.2 336.0,151.2 336.1,151.2 336.2,151.2 336.3,151.2 336.4,151.2 336.5,151.2 336.6,151.2 336.6,151.2 336.7,151.2 336.8,151.2 336.9,151.2 337.0,151.2 337.1,151.2 337.2,151.2 337.3,151.2 337.4,151.2 337.5,151.0 337.5,150.6 337.6,150.2 337.7,149.9 337.8,149.5 337.9,149.1 338.0,148.8 338.1,148.4 338.2,148.0 338.3,147.7 338.4,147.3 338.4,146.9 338.5,146.6 338.6,146.2 338.7,145.9 338.8,145.5 338.9,145.1 339.0,144.8 339.1,144.4 339.2,144.1 339.3,143.7 339.3,143.4 339.4,143.0 339.5,142.6 339.6,142.3 339.7,141.9 339.8,141.6 339.9,141.2 340.0,140.9 340.1,140.5 340.2,140.1 340.2,139.8 340.3,139.4 340.4,139.1 340.5,138.7 340.6,138.4 340.7,138.0 340.8,137.7 340.9,137.3 341.0,137.0 341.1,136.6 341.1,136.3 341.2,135.9 341.3,135.6 341.4,135.2 341.5,134.9 341.6,134.5 341.7,134.2 341.8,133.8 341.9,133.5 342.0,133.2 342.0,132.8 342.1,132.5 342.2,132.1 342.3,131.8 342.4,131.4 342.5,131.1 342.6,130.7 342.7,130.4 342.8,130.1 342.9,129.7 342.9,129.4 343.0,129.0 343.1,128.7 343.2,128.3 343.3,128.0 343.4,127.7 343.5,127.3 343.6,127.0 343.7,126.6 343.8,126.3 343.8,126.0 343.9,125.6 344.0,125.3 344.1,125.0 344.2,124.6 344.3,124.3 344.4,124.0 344.5,123.6 344.6,123.3 344.7,122.9 344.7,122.6 344.8,122.3 344.9,121.9 345.0,121.6 345.1,121.3 345.2,120.9 345.3,120.6 345.4,120.3 345.5,120.0 345.6,119.6 345.6,119.3 345.7,119.0 345.8,118.6 345.9,118.3 346.0,118.0 346.1,117.6 346.2,117.3 346.3,117.0 346.4,116.7 346.5,116.3 346.5,116.0 346.6,115.7 346.7,115.4 346.8,115.0 346.9,114.7 347.0,114.4 347.1,114.1 347.2,113.7 347.3,113.4 347.4,113.1 347.4,112.8 347.5,112.4 347.6,112.1 347.7,111.8 347.8,111.5 347.9,111.1 348.0,110.8 348.1,110.5 348.2,110.2 348.3,109.9 348.3,109.5 348.4,109.2 348.5,108.9 348.6,108.6 348.7,108.3 348.8,107.9 348.9,107.6 349.0,107.3 349.1,107.0 349.2,106.7 349.2,106.4 349.3,106.0 349.4,105.7 349.5,105.4 349.6,105.1 349.7,104.8 349.8,104.5 349.9,104.2 350.0,103.8 350.1,103.5 350.1,103.2 350.2,102.9 350.3,102.6 350.4,102.3 350.5,102.0 350.6,101.7 350.7,101.3 350.8,101.0 350.9,100.7 351.0,100.4 351.0,100.1 351.1,99.8 351.2,99.5 351.3,99.2 351.4,98.9 351.5,98.6 351.6,98.3 351.7,97.9 351.8,97.6 351.9,97.3 351.9,97.0 352.0,96.7 352.1,96.4 352.2,96.1 353.3,92.5 354.4,88.9 355.5,85.3 356.5,81.8 357.6,78.3 358.7,74.9 359.8,71.6 360.9,68.2 362.0,64.9 363.0,61.7 364.1,58.5 365.2,55.4 366.3,52.3 367.4,49.4 368.5,46.5 369.5,43.8 370.6,41.2 371.7,38.8 372.8,36.6 373.9,34.6 375.0,32.9 376.0,31.4 377.1,30.2 378.2,29.2 379.3,28.3 380.4,27.7 381.4,27.1 382.5,26.7 383.6,26.4 384.7,26.1 385.8,25.9 386.9,25.7 387.9,25.6 389.0,25.5 390.1,25.4 391.2,25.3 392.3,25.3 393.4,25.2 394.4,25.2 395.5,25.1 396.6,25.1 397.7,25.1 398.8,25.1 399.8,25.0 400.9,25.0 402.0,25.0 403.1,25.0 404.2,24.9 405.3,24.9 406.3,24.9 407.4,24.9 408.5,24.9 409.6,24.9 410.7,24.8 411.8,24.8 412.8,24.8 413.9,24.8 415.0,24.8 416.1,24.8 417.2,24.7 418.2,24.7 419.3,24.7 420.4,24.7 421.5,24.7 422.6,24.7 423.7,24.7 424.7,24.6 425.8,24.6 426.9,24.6 428.0,24.6 429.1,24.6 430.2,24.6 431.2,24.6 432.3,24.5 433.4,24.5 434.5,24.5 435.6,24.5 436.6,24.5 437.7,24.5 438.8,24.5 439.9,24.4 441.0,24.4 442.1,24.4 443.1,24.4 444.2,24.4 445.3,24.4 446.4,24.4 447.5,24.3 448.6,24.3 449.6,24.3 450.7,24.3 451.8,24.3 452.9,24.3 454.0,24.3 455.0,24.2 456.1,24.2 457.2,24.2 458.3,24.2 459.4,24.2 460.5,24.2 461.5,24.2 462.6,24.1 463.7,24.1 464.8,24.1 465.9,24.1 467.0,24.1 468.0,24.1 469.1,24.1 470.2,24.0 471.3,24.0 472.4,24.0 473.5,24.0 474.5,24.0 475.6,24.0 476.7,24.0 477.8,23.9 478.9,23.9 479.9,23.9 481.0,23.9 482.1,23.9 483.2,23.9 484.3,23.9 485.4,23.8 486.4,23.8 487.5,23.8 488.6,23.8 489.7,23.8 490.8,23.8 491.9,23.8 492.9,23.7 494.0,23.7 495.1,23.7 496.2,23.7 497.3,23.7 498.3,23.7 499.4,23.7 500.5,23.6 501.6,23.6 502.7,23.6 503.8,23.6 504.8,23.6 505.9,23.6 507.0,23.6 508.1,23.5 509.2,23.5 510.3,23.5 511.3,23.5 512.4,23.5 513.5,23.5" stroke="#111" stroke-width="1.15" fill="none" stroke-linejoin="round"/>
<path d="M334.3,151.2 334.4,151.2 334.5,151.2 334.6,151.2 334.7,151.2 334.8,151.2 334.8,151.2 334.9,151.2 335.0,151.2 335.1,151.2 335.2,151.2 335.3,151.2 335.4,151.2 335.5,151.2 335.6,151.2 335.7,151.2 335.7,151.2 335.8,151.2 335.9,151.2 336.0,151.2 336.1,151.2 336.2,151.2 336.3,151.2 336.4,151.0 336.5,150.6 336.6,150.2 336.6,149.9 336.7,149.5 336.8,149.1 336.9,148.7 337.0,148.4 337.1,148.0 337.2,147.6 337.3,147.3 337.4,146.9 337.5,146.5 337.5,146.2 337.6,145.8 337.7,145.4 337.8,145.1 337.9,144.7 338.0,144.3 338.1,144.0 338.2,143.6 338.3,143.3 338.4,142.9 338.4,142.5 338.5,142.2 338.6,141.8 338.7,141.4 338.8,141.1 338.9,140.7 339.0,140.4 339.1,140.0 339.2,139.6 339.3,139.3 339.3,138.9 339.4,138.6 339.5,138.2 339.6,137.9 339.7,137.5 339.8,137.1 339.9,136.8 340.0,136.4 340.1,136.1 340.2,135.7 340.2,135.4 340.3,135.0 340.4,134.7 340.5,134.3 340.6,134.0 340.7,133.6 340.8,133.3 340.9,132.9 341.0,132.6 341.1,132.2 341.1,131.8 341.2,131.5 341.3,131.2 341.4,130.8 341.5,130.5 341.6,130.1 341.7,129.8 341.8,129.4 341.9,129.1 342.0,128.7 342.0,128.4 342.1,128.0 342.2,127.7 342.3,127.3 342.4,127.0 342.5,126.6 342.6,126.3 342.7,126.0 342.8,125.6 342.9,125.3 342.9,124.9 343.0,124.6 343.1,124.3 343.2,123.9 343.3,123.6 343.4,123.2 343.5,122.9 343.6,122.5 343.7,122.2 343.8,121.9 343.8,121.5 343.9,121.2 344.0,120.9 344.1,120.5 344.2,120.2 344.3,119.8 344.4,119.5 344.5,119.2 344.6,118.8 344.7,118.5 344.7,118.2 344.8,117.8 344.9,117.5 345.0,117.2 345.1,116.8 345.2,116.5 345.3,116.2 345.4,115.8 345.5,115.5 345.6,115.2 345.6,114.8 345.7,114.5 345.8,114.2 345.9,113.9 346.0,113.5 346.1,113.2 346.2,112.9 346.3,112.5 346.4,112.2 346.5,111.9 346.5,111.6 346.6,111.2 346.7,110.9 346.8,110.6 346.9,110.3 347.0,109.9 347.1,109.6 347.2,109.3 347.3,109.0 347.4,108.6 347.4,108.3 347.5,108.0 347.6,107.7 347.7,107.3 347.8,107.0 347.9,106.7 348.0,106.4 348.1,106.1 348.2,105.7 348.3,105.4 348.3,105.1 348.4,104.8 348.5,104.5 348.6,104.1 348.7,103.8 348.8,103.5 348.9,103.2 349.0,102.9 349.1,102.6 349.2,102.2 349.2,101.9 349.3,101.6 349.4,101.3 349.5,101.0 349.6,100.7 349.7,100.3 349.8,100.0 349.9,99.7 350.0,99.4 350.1,99.1 350.1,98.8 350.2,98.5 350.3,98.1 350.4,97.8 350.5,97.5 350.6,97.2 350.7,96.9 350.8,96.6 350.9,96.3 351.0,96.0 351.0,95.7 351.1,95.4 351.2,95.0 351.3,94.7 351.4,94.4 351.5,94.1 351.6,93.8 351.7,93.5 351.8,93.2 351.9,92.9 351.9,92.6 352.0,92.3 352.1,92.0 352.2,91.7 353.3,88.0 354.4,84.4 355.5,80.9 356.5,77.4 357.6,73.9 358.7,70.5 359.8,67.1 360.9,63.8 362.0,60.6 363.0,57.4 364.1,54.3 365.2,51.2 366.3,48.3 367.4,45.6 368.5,43.0 369.5,40.7 370.6,38.7 371.7,36.9 372.8,35.4 373.9,34.2 375.0,33.2 376.0,32.4 377.1,31.8 378.2,31.3 379.3,31.0 380.4,30.7 381.4,30.5 382.5,30.3 383.6,30.2 384.7,30.1 385.8,30.0 386.9,29.9 387.9,29.8 389.0,29.7 390.1,29.7 391.2,29.6 392.3,29.6 393.4,29.5 394.4,29.5 395.5,29.5 396.6,29.4 397.7,29.4 398.8,29.3 399.8,29.3 400.9,29.3 402.0,29.2 403.1,29.2 404.2,29.1 405.3,29.1 406.3,29.1 407.4,29.0 408.5,29.0 409.6,29.0 410.7,28.9 411.8,28.9 412.8,28.9 413.9,28.8 415.0,28.8 416.1,28.7 417.2,28.7 418.2,28.7 419.3,28.6 420.4,28.6 421.5,28.6 422.6,28.5 423.7,28.5 424.7,28.5 425.8,28.4 426.9,28.4 428.0,28.4 429.1,28.3 430.2,28.3 431.2,28.3 432.3,28.2 433.4,28.2 434.5,28.1 435.6,28.1 436.6,28.1 437.7,28.0 438.8,28.0 439.9,28.0 441.0,27.9 442.1,27.9 443.1,27.9 444.2,27.8 445.3,27.8 446.4,27.8 447.5,27.7 448.6,27.7 449.6,27.6 450.7,27.6 451.8,27.6 452.9,27.5 454.0,27.5 455.0,27.5 456.1,27.4 457.2,27.4 458.3,27.4 459.4,27.3 460.5,27.3 461.5,27.3 462.6,27.2 463.7,27.2 464.8,27.1 465.9,27.1 467.0,27.1 468.0,27.0 469.1,27.0 470.2,27.0 471.3,26.9 472.4,26.9 473.5,26.9 474.5,26.8 475.6,26.8 476.7,26.8 477.8,26.7 478.9,26.7 479.9,26.7 481.0,26.6 482.1,26.6 483.2,26.5 484.3,26.5 485.4,26.5 486.4,26.4 487.5,26.4 488.6,26.4 489.7,26.3 490.8,26.3 491.9,26.3 492.9,26.2 494.0,26.2 495.1,26.2 496.2,26.1 497.3,26.1 498.3,26.0 499.4,26.0 500.5,26.0 501.6,25.9 502.7,25.9 503.8,25.9 504.8,25.8 505.9,25.8 507.0,25.8 508.1,25.7 509.2,25.7 510.3,25.7 511.3,25.6 512.4,25.6 513.5,25.5" stroke="#111" stroke-width="1.15" fill="none" stroke-linejoin="round"/>
<path d="M334.3,151.2 334.4,151.2 334.5,151.2 334.6,151.2 334.7,151.2 334.8,151.2 334.8,151.2 334.9,151.2 335.0,151.2 335.1,151.2 335.2,151.2 335.3,151.2 335.4,151.2 335.5,151.2 335.6,151.2 335.7,151.2 335.7,151.2 335.8,151.2 335.9,151.2 336.0,151.2 336.1,151.2 336.2,151.2 336.3,151.2 336.4,151.2 336.5,151.2 336.6,151.2 336.6,151.2 336.7,151.2 336.8,151.2 336.9,151.0 337.0,150.6 337.1,150.2 337.2,149.8 337.3,149.4 337.4,149.1 337.5,148.7 337.5,148.3 337.6,147.9 337.7,147.6 337.8,147.2 337.9,146.8 338.0,146.5 338.1,146.1 338.2,145.7 338.3,145.3 338.4,145.0 338.4,144.6 338.5,144.2 338.6,143.9 338.7,143.5 338.8,143.1 338.9,142.8 339.0,142.4 339.1,142.0 339.2,141.7 339.3,141.3 339.3,140.9 339.4,140.6 339.5,140.2 339.6,139.8 339.7,139.5 339.8,139.1 339.9,138.7 340.0,138.4 340.1,138.0 340.2,137.6 340.2,137.3 340.3,136.9 340.4,136.6 340.5,136.2 340.6,135.8 340.7,135.5 340.8,135.1 340.9,134.8 341.0,134.4 341.1,134.0 341.1,133.7 341.2,133.3 341.3,133.0 341.4,132.6 341.5,132.3 341.6,131.9 341.7,131.6 341.8,131.2 341.9,130.8 342.0,130.5 342.0,130.1 342.1,129.8 342.2,129.4 342.3,129.1 342.4,128.7 342.5,128.4 342.6,128.0 342.7,127.7 342.8,127.3 342.9,127.0 342.9,126.6 343.0,126.3 343.1,125.9 343.2,125.6 343.3,125.2 343.4,124.9 343.5,124.5 343.6,124.2 343.7,123.8 343.8,123.5 343.8,123.2 343.9,122.8 344.0,122.5 344.1,122.1 344.2,121.8 344.3,121.4 344.4,121.1 344.5,120.8 344.6,120.4 344.7,120.1 344.7,119.7 344.8,119.4 344.9,119.0 345.0,118.7 345.1,118.4 345.2,118.0 345.3,117.7 345.4,117.3 345.5,117.0 345.6,116.7 345.6,116.3 345.7,116.0 345.8,115.7 345.9,115.3 346.0,115.0 346.1,114.7 346.2,114.3 346.3,114.0 346.4,113.6 346.5,113.3 346.5,113.0 346.6,112.6 346.7,112.3 346.8,112.0 346.9,111.7 347.0,111.3 347.1,111.0 347.2,110.7 347.3,110.3 347.4,110.0 347.4,109.7 347.5,109.3 347.6,109.0 347.7,108.7 347.8,108.4 347.9,108.0 348.0,107.7 348.1,107.4 348.2,107.0 348.3,106.7 348.3,106.4 348.4,106.1 348.5,105.7 348.6,105.4 348.7,105.1 348.8,104.8 348.9,104.4 349.0,104.1 349.1,103.8 349.2,103.5 349.2,103.1 349.3,102.8 349.4,102.5 349.5,102.2 349.6,101.9 349.7,101.5 349.8,101.2 349.9,100.9 350.0,100.6 350.1,100.3 350.1,99.9 350.2,99.6 350.3,99.3 350.4,99.0 350.5,98.7 350.6,98.4 350.7,98.0 350.8,97.7 350.9,97.4 351.0,97.1 351.0,96.8 351.1,96.5 351.2,96.1 351.3,95.8 351.4,95.5 351.5,95.2 351.6,94.9 351.7,94.6 351.8,94.3 351.9,93.9 351.9,93.6 352.0,93.3 352.1,93.0 352.2,92.7 353.3,89.0 354.4,85.3 355.5,81.7 356.5,78.1 357.6,74.6 358.7,71.1 359.8,67.7 360.9,64.4 362.0,61.1 363.0,57.8 364.1,54.7 365.2,51.8 366.3,49.0 367.4,46.5 368.5,44.3 369.5,42.4 370.6,40.9 371.7,39.8 372.8,38.9 373.9,38.3 375.0,37.8 376.0,37.5 377.1,37.2 378.2,37.0 379.3,36.9 380.4,36.8 381.4,36.7 382.5,36.6 383.6,36.5 384.7,36.4 385.8,36.4 386.9,36.3 387.9,36.2 389.0,36.2 390.1,36.1 391.2,36.1 392.3,36.0 393.4,36.0 394.4,35.9 395.5,35.8 396.6,35.8 397.7,35.7 398.8,35.7 399.8,35.6 400.9,35.6 402.0,35.5 403.1,35.5 404.2,35.4 405.3,35.4 406.3,35.3 407.4,35.3 408.5,35.2 409.6,35.2 410.7,35.1 411.8,35.1 412.8,35.0 413.9,34.9 415.0,34.9 416.1,34.8 417.2,34.8 418.2,34.7 419.3,34.7 420.4,34.6 421.5,34.6 422.6,34.5 423.7,34.5 424.7,34.4 425.8,34.4 426.9,34.3 428.0,34.3 429.1,34.2 430.2,34.2 431.2,34.1 432.3,34.1 433.4,34.0 434.5,33.9 435.6,33.9 436.6,33.8 437.7,33.8 438.8,33.7 439.9,33.7 441.0,33.6 442.1,33.6 443.1,33.5 444.2,33.5 445.3,33.4 446.4,33.4 447.5,33.3 448.6,33.3 449.6,33.2 450.7,33.2 451.8,33.1 452.9,33.1 454.0,33.0 455.0,33.0 456.1,32.9 457.2,32.8 458.3,32.8 459.4,32.7 460.5,32.7 461.5,32.6 462.6,32.6 463.7,32.5 464.8,32.5 465.9,32.4 467.0,32.4 468.0,32.3 469.1,32.3 470.2,32.2 471.3,32.2 472.4,32.1 473.5,32.1 474.5,32.0 475.6,32.0 476.7,31.9 477.8,31.8 478.9,31.8 479.9,31.7 481.0,31.7 482.1,31.6 483.2,31.6 484.3,31.5 485.4,31.5 486.4,31.4 487.5,31.4 488.6,31.3 489.7,31.3 490.8,31.2 491.9,31.2 492.9,31.1 494.0,31.1 495.1,31.0 496.2,31.0 497.3,30.9 498.3,30.8 499.4,30.8 500.5,30.7 501.6,30.7 502.7,30.6 503.8,30.6 504.8,30.5 505.9,30.5 507.0,30.4 508.1,30.4 509.2,30.3 510.3,30.3 511.3,30.2 512.4,30.2 513.5,30.1" stroke="#111" stroke-width="0.95" fill="none" stroke-linejoin="round"/>
<path d="M334.3,151.2 334.4,151.2 334.5,151.2 334.6,151.2 334.7,151.2 334.8,151.2 334.8,151.2 334.9,151.2 335.0,151.2 335.1,151.2 335.2,151.2 335.3,151.2 335.4,151.2 335.5,151.2 335.6,151.2 335.7,151.2 335.7,151.2 335.8,151.2 335.9,151.2 336.0,151.2 336.1,151.2 336.2,151.2 336.3,151.2 336.4,151.2 336.5,151.2 336.6,151.2 336.6,151.2 336.7,151.2 336.8,151.2 336.9,151.2 337.0,151.2 337.1,151.2 337.2,151.2 337.3,151.2 337.4,151.2 337.5,150.9 337.5,150.6 337.6,150.2 337.7,149.8 337.8,149.4 337.9,149.0 338.0,148.6 338.1,148.3 338.2,147.9 338.3,147.5 338.4,147.1 338.4,146.8 338.5,146.4 338.6,146.0 338.7,145.6 338.8,145.2 338.9,144.9 339.0,144.5 339.1,144.1 339.2,143.7 339.3,143.4 339.3,143.0 339.4,142.6 339.5,142.2 339.6,141.9 339.7,141.5 339.8,141.1 339.9,140.8 340.0,140.4 340.1,140.0 340.2,139.6 340.2,139.3 340.3,138.9 340.4,138.5 340.5,138.2 340.6,137.8 340.7,137.4 340.8,137.1 340.9,136.7 341.0,136.3 341.1,136.0 341.1,135.6 341.2,135.2 341.3,134.9 341.4,134.5 341.5,134.1 341.6,133.8 341.7,133.4 341.8,133.1 341.9,132.7 342.0,132.3 342.0,132.0 342.1,131.6 342.2,131.3 342.3,130.9 342.4,130.5 342.5,130.2 342.6,129.8 342.7,129.5 342.8,129.1 342.9,128.7 342.9,128.4 343.0,128.0 343.1,127.7 343.2,127.3 343.3,127.0 343.4,126.6 343.5,126.3 343.6,125.9 343.7,125.6 343.8,125.2 343.8,124.9 343.9,124.5 344.0,124.1 344.1,123.8 344.2,123.4 344.3,123.1 344.4,122.7 344.5,122.4 344.6,122.0 344.7,121.7 344.7,121.3 344.8,121.0 344.9,120.7 345.0,120.3 345.1,120.0 345.2,119.6 345.3,119.3 345.4,118.9 345.5,118.6 345.6,118.2 345.6,117.9 345.7,117.5 345.8,117.2 345.9,116.9 346.0,116.5 346.1,116.2 346.2,115.8 346.3,115.5 346.4,115.1 346.5,114.8 346.5,114.5 346.6,114.1 346.7,113.8 346.8,113.4 346.9,113.1 347.0,112.8 347.1,112.4 347.2,112.1 347.3,111.8 347.4,111.4 347.4,111.1 347.5,110.7 347.6,110.4 347.7,110.1 347.8,109.7 347.9,109.4 348.0,109.1 348.1,108.7 348.2,108.4 348.3,108.1 348.3,107.7 348.4,107.4 348.5,107.1 348.6,106.7 348.7,106.4 348.8,106.1 348.9,105.8 349.0,105.4 349.1,105.1 349.2,104.8 349.2,104.4 349.3,104.1 349.4,103.8 349.5,103.5 349.6,103.1 349.7,102.8 349.8,102.5 349.9,102.1 350.0,101.8 350.1,101.5 350.1,101.2 350.2,100.8 350.3,100.5 350.4,100.2 350.5,99.9 350.6,99.5 350.7,99.2 350.8,98.9 350.9,98.6 351.0,98.3 351.0,97.9 351.1,97.6 351.2,97.3 351.3,97.0 351.4,96.7 351.5,96.3 351.6,96.0 351.7,95.7 351.8,95.4 351.9,95.1 351.9,94.7 352.0,94.4 352.1,94.1 352.2,93.8 353.3,90.0 354.4,86.3 355.5,82.6 356.5,79.0 357.6,75.4 358.7,71.8 359.8,68.3 360.9,64.9 362.0,61.5 363.0,58.3 364.1,55.1 365.2,52.1 366.3,49.4 367.4,47.1 368.5,45.1 369.5,43.7 370.6,42.6 371.7,41.9 372.8,41.4 373.9,41.0 375.0,40.8 376.0,40.6 377.1,40.5 378.2,40.4 379.3,40.3 380.4,40.2 381.4,40.2 382.5,40.1 383.6,40.0 384.7,40.0 385.8,39.9 386.9,39.8 387.9,39.8 389.0,39.7 390.1,39.7 391.2,39.6 392.3,39.5 393.4,39.5 394.4,39.4 395.5,39.4 396.6,39.3 397.7,39.2 398.8,39.2 399.8,39.1 400.9,39.1 402.0,39.0 403.1,39.0 404.2,38.9 405.3,38.8 406.3,38.8 407.4,38.7 408.5,38.7 409.6,38.6 410.7,38.5 411.8,38.5 412.8,38.4 413.9,38.4 415.0,38.3 416.1,38.3 417.2,38.2 418.2,38.1 419.3,38.1 420.4,38.0 421.5,38.0 422.6,37.9 423.7,37.9 424.7,37.8 425.8,37.7 426.9,37.7 428.0,37.6 429.1,37.6 430.2,37.5 431.2,37.4 432.3,37.4 433.4,37.3 434.5,37.3 435.6,37.2 436.6,37.2 437.7,37.1 438.8,37.0 439.9,37.0 441.0,36.9 442.1,36.9 443.1,36.8 444.2,36.7 445.3,36.7 446.4,36.6 447.5,36.6 448.6,36.5 449.6,36.5 450.7,36.4 451.8,36.3 452.9,36.3 454.0,36.2 455.0,36.2 456.1,36.1 457.2,36.0 458.3,36.0 459.4,35.9 460.5,35.9 461.5,35.8 462.6,35.8 463.7,35.7 464.8,35.6 465.9,35.6 467.0,35.5 468.0,35.5 469.1,35.4 470.2,35.3 471.3,35.3 472.4,35.2 473.5,35.2 474.5,35.1 475.6,35.1 476.7,35.0 477.8,34.9 478.9,34.9 479.9,34.8 481.0,34.8 482.1,34.7 483.2,34.6 484.3,34.6 485.4,34.5 486.4,34.5 487.5,34.4 488.6,34.4 489.7,34.3 490.8,34.2 491.9,34.2 492.9,34.1 494.0,34.1 495.1,34.0 496.2,33.9 497.3,33.9 498.3,33.8 499.4,33.8 500.5,33.7 501.6,33.7 502.7,33.6 503.8,33.5 504.8,33.5 505.9,33.4 507.0,33.4 508.1,33.3 509.2,33.2 510.3,33.2 511.3,33.1 512.4,33.1 513.5,33.0" stroke="#111" stroke-width="0.95" fill="none" stroke-linejoin="round"/>
<path d="M334.3,151.2 334.4,151.2 334.5,151.2 334.6,151.2 334.7,151.2 334.8,151.2 334.8,151.2 334.9,151.2 335.0,151.2 335.1,151.2 335.2,151.2 335.3,151.2 335.4,151.2 335.5,151.2 335.6,151.2 335.7,151.2 335.7,151.2 335.8,151.2 335.9,151.2 336.0,151.2 336.1,151.2 336.2,151.2 336.3,151.2 336.4,151.0 336.5,150.6 336.6,150.2 336.6,149.8 336.7,149.4 336.8,149.0 336.9,148.6 337.0,148.2 337.1,147.9 337.2,147.5 337.3,147.1 337.4,146.7 337.5,146.3 337.5,145.9 337.6,145.6 337.7,145.2 337.8,144.8 337.9,144.4 338.0,144.0 338.1,143.7 338.2,143.3 338.3,142.9 338.4,142.5 338.4,142.1 338.5,141.8 338.6,141.4 338.7,141.0 338.8,140.6 338.9,140.3 339.0,139.9 339.1,139.5 339.2,139.1 339.3,138.8 339.3,138.4 339.4,138.0 339.5,137.6 339.6,137.3 339.7,136.9 339.8,136.5 339.9,136.1 340.0,135.8 340.1,135.4 340.2,135.0 340.2,134.7 340.3,134.3 340.4,133.9 340.5,133.6 340.6,133.2 340.7,132.8 340.8,132.5 340.9,132.1 341.0,131.7 341.1,131.4 341.1,131.0 341.2,130.6 341.3,130.3 341.4,129.9 341.5,129.5 341.6,129.2 341.7,128.8 341.8,128.5 341.9,128.1 342.0,127.7 342.0,127.4 342.1,127.0 342.2,126.6 342.3,126.3 342.4,125.9 342.5,125.6 342.6,125.2 342.7,124.9 342.8,124.5 342.9,124.1 342.9,123.8 343.0,123.4 343.1,123.1 343.2,122.7 343.3,122.4 343.4,122.0 343.5,121.7 343.6,121.3 343.7,121.0 343.8,120.6 343.8,120.2 343.9,119.9 344.0,119.5 344.1,119.2 344.2,118.8 344.3,118.5 344.4,118.1 344.5,117.8 344.6,117.4 344.7,117.1 344.7,116.7 344.8,116.4 344.9,116.1 345.0,115.7 345.1,115.4 345.2,115.0 345.3,114.7 345.4,114.3 345.5,114.0 345.6,113.6 345.6,113.3 345.7,112.9 345.8,112.6 345.9,112.3 346.0,111.9 346.1,111.6 346.2,111.2 346.3,110.9 346.4,110.6 346.5,110.2 346.5,109.9 346.6,109.5 346.7,109.2 346.8,108.9 346.9,108.5 347.0,108.2 347.1,107.8 347.2,107.5 347.3,107.2 347.4,106.8 347.4,106.5 347.5,106.2 347.6,105.8 347.7,105.5 347.8,105.2 347.9,104.8 348.0,104.5 348.1,104.2 348.2,103.8 348.3,103.5 348.3,103.2 348.4,102.8 348.5,102.5 348.6,102.2 348.7,101.8 348.8,101.5 348.9,101.2 349.0,100.8 349.1,100.5 349.2,100.2 349.2,99.9 349.3,99.5 349.4,99.2 349.5,98.9 349.6,98.5 349.7,98.2 349.8,97.9 349.9,97.6 350.0,97.2 350.1,96.9 350.1,96.6 350.2,96.3 350.3,95.9 350.4,95.6 350.5,95.3 350.6,95.0 350.7,94.6 350.8,94.3 350.9,94.0 351.0,93.7 351.0,93.4 351.1,93.0 351.2,92.7 351.3,92.4 351.4,92.1 351.5,91.8 351.6,91.4 351.7,91.1 351.8,90.8 351.9,90.5 351.9,90.2 352.0,89.9 352.1,89.5 352.2,89.2 353.3,85.4 354.4,81.7 355.5,78.0 356.5,74.4 357.6,70.8 358.7,67.3 359.8,63.9 360.9,60.5 362.0,57.2 363.0,54.1 364.1,51.3 365.2,48.9 366.3,47.1 367.4,45.7 368.5,44.8 369.5,44.2 370.6,43.9 371.7,43.6 372.8,43.5 373.9,43.4 375.0,43.3 376.0,43.2 377.1,43.1 378.2,43.1 379.3,43.0 380.4,42.9 381.4,42.9 382.5,42.8 383.6,42.7 384.7,42.7 385.8,42.6 386.9,42.6 387.9,42.5 389.0,42.5 390.1,42.4 391.2,42.3 392.3,42.3 393.4,42.2 394.4,42.2 395.5,42.1 396.6,42.0 397.7,42.0 398.8,41.9 399.8,41.9 400.9,41.8 402.0,41.8 403.1,41.7 404.2,41.6 405.3,41.6 406.3,41.5 407.4,41.5 408.5,41.4 409.6,41.3 410.7,41.3 411.8,41.2 412.8,41.2 413.9,41.1 415.0,41.1 416.1,41.0 417.2,40.9 418.2,40.9 419.3,40.8 420.4,40.8 421.5,40.7 422.6,40.6 423.7,40.6 424.7,40.5 425.8,40.5 426.9,40.4 428.0,40.4 429.1,40.3 430.2,40.2 431.2,40.2 432.3,40.1 433.4,40.1 434.5,40.0 435.6,39.9 436.6,39.9 437.7,39.8 438.8,39.8 439.9,39.7 441.0,39.7 442.1,39.6 443.1,39.5 444.2,39.5 445.3,39.4 446.4,39.4 447.5,39.3 448.6,39.2 449.6,39.2 450.7,39.1 451.8,39.1 452.9,39.0 454.0,39.0 455.0,38.9 456.1,38.8 457.2,38.8 458.3,38.7 459.4,38.7 460.5,38.6 461.5,38.5 462.6,38.5 463.7,38.4 464.8,38.4 465.9,38.3 467.0,38.3 468.0,38.2 469.1,38.1 470.2,38.1 471.3,38.0 472.4,38.0 473.5,37.9 474.5,37.8 475.6,37.8 476.7,37.7 477.8,37.7 478.9,37.6 479.9,37.6 481.0,37.5 482.1,37.4 483.2,37.4 484.3,37.3 485.4,37.3 486.4,37.2 487.5,37.1 488.6,37.1 489.7,37.0 490.8,37.0 491.9,36.9 492.9,36.9 494.0,36.8 495.1,36.7 496.2,36.7 497.3,36.6 498.3,36.6 499.4,36.5 500.5,36.5 501.6,36.4 502.7,36.3 503.8,36.3 504.8,36.2 505.9,36.2 507.0,36.1 508.1,36.0 509.2,36.0 510.3,35.9 511.3,35.9 512.4,35.8 513.5,35.8" stroke="#111" stroke-width="0.95" fill="none" stroke-linejoin="round"/>
<path d="M334.3,151.2 334.4,151.2 334.5,151.2 334.6,151.2 334.7,151.2 334.8,151.2 334.8,151.2 334.9,151.2 335.0,151.2 335.1,151.2 335.2,151.2 335.3,151.2 335.4,151.2 335.5,151.2 335.6,151.2 335.7,151.2 335.7,151.2 335.8,151.2 335.9,151.2 336.0,151.2 336.1,151.2 336.2,151.2 336.3,151.2 336.4,151.2 336.5,151.2 336.6,151.2 336.6,151.2 336.7,151.2 336.8,151.2 336.9,150.9 337.0,150.6 337.1,150.2 337.2,149.8 337.3,149.4 337.4,149.0 337.5,148.6 337.5,148.2 337.6,147.8 337.7,147.4 337.8,147.0 337.9,146.6 338.0,146.2 338.1,145.9 338.2,145.5 338.3,145.1 338.4,144.7 338.4,144.3 338.5,143.9 338.6,143.5 338.7,143.1 338.8,142.8 338.9,142.4 339.0,142.0 339.1,141.6 339.2,141.2 339.3,140.8 339.3,140.5 339.4,140.1 339.5,139.7 339.6,139.3 339.7,138.9 339.8,138.6 339.9,138.2 340.0,137.8 340.1,137.4 340.2,137.0 340.2,136.7 340.3,136.3 340.4,135.9 340.5,135.5 340.6,135.2 340.7,134.8 340.8,134.4 340.9,134.0 341.0,133.7 341.1,133.3 341.1,132.9 341.2,132.6 341.3,132.2 341.4,131.8 341.5,131.4 341.6,131.1 341.7,130.7 341.8,130.3 341.9,130.0 342.0,129.6 342.0,129.2 342.1,128.9 342.2,128.5 342.3,128.1 342.4,127.8 342.5,127.4 342.6,127.0 342.7,126.7 342.8,126.3 342.9,125.9 342.9,125.6 343.0,125.2 343.1,124.8 343.2,124.5 343.3,124.1 343.4,123.8 343.5,123.4 343.6,123.0 343.7,122.7 343.8,122.3 343.8,122.0 343.9,121.6 344.0,121.2 344.1,120.9 344.2,120.5 344.3,120.2 344.4,119.8 344.5,119.5 344.6,119.1 344.7,118.7 344.7,118.4 344.8,118.0 344.9,117.7 345.0,117.3 345.1,117.0 345.2,116.6 345.3,116.3 345.4,115.9 345.5,115.6 345.6,115.2 345.6,114.9 345.7,114.5 345.8,114.2 345.9,113.8 346.0,113.5 346.1,113.1 346.2,112.8 346.3,112.4 346.4,112.1 346.5,111.7 346.5,111.4 346.6,111.0 346.7,110.7 346.8,110.3 346.9,110.0 347.0,109.6 347.1,109.3 347.2,109.0 347.3,108.6 347.4,108.3 347.4,107.9 347.5,107.6 347.6,107.2 347.7,106.9 347.8,106.6 347.9,106.2 348.0,105.9 348.1,105.5 348.2,105.2 348.3,104.9 348.3,104.5 348.4,104.2 348.5,103.8 348.6,103.5 348.7,103.2 348.8,102.8 348.9,102.5 349.0,102.2 349.1,101.8 349.2,101.5 349.2,101.2 349.3,100.8 349.4,100.5 349.5,100.2 349.6,99.8 349.7,99.5 349.8,99.2 349.9,98.8 350.0,98.5 350.1,98.2 350.1,97.8 350.2,97.5 350.3,97.2 350.4,96.8 350.5,96.5 350.6,96.2 350.7,95.9 350.8,95.5 350.9,95.2 351.0,94.9 351.0,94.5 351.1,94.2 351.2,93.9 351.3,93.6 351.4,93.2 351.5,92.9 351.6,92.6 351.7,92.3 351.8,91.9 351.9,91.6 351.9,91.3 352.0,91.0 352.1,90.6 352.2,90.3 353.3,86.5 354.4,82.7 355.5,78.9 356.5,75.2 357.6,71.6 358.7,68.0 359.8,64.5 360.9,61.0 362.0,57.7 363.0,54.6 364.1,51.8 365.2,49.6 366.3,48.0 367.4,47.0 368.5,46.4 369.5,46.0 370.6,45.8 371.7,45.7 372.8,45.6 373.9,45.5 375.0,45.4 376.0,45.3 377.1,45.3 378.2,45.2 379.3,45.2 380.4,45.1 381.4,45.0 382.5,45.0 383.6,44.9 384.7,44.8 385.8,44.8 386.9,44.7 387.9,44.7 389.0,44.6 390.1,44.5 391.2,44.5 392.3,44.4 393.4,44.4 394.4,44.3 395.5,44.2 396.6,44.2 397.7,44.1 398.8,44.1 399.8,44.0 400.9,43.9 402.0,43.9 403.1,43.8 404.2,43.7 405.3,43.7 406.3,43.6 407.4,43.6 408.5,43.5 409.6,43.4 410.7,43.4 411.8,43.3 412.8,43.3 413.9,43.2 415.0,43.1 416.1,43.1 417.2,43.0 418.2,43.0 419.3,42.9 420.4,42.8 421.5,42.8 422.6,42.7 423.7,42.6 424.7,42.6 425.8,42.5 426.9,42.5 428.0,42.4 429.1,42.3 430.2,42.3 431.2,42.2 432.3,42.2 433.4,42.1 434.5,42.0 435.6,42.0 436.6,41.9 437.7,41.9 438.8,41.8 439.9,41.7 441.0,41.7 442.1,41.6 443.1,41.5 444.2,41.5 445.3,41.4 446.4,41.4 447.5,41.3 448.6,41.2 449.6,41.2 450.7,41.1 451.8,41.1 452.9,41.0 454.0,40.9 455.0,40.9 456.1,40.8 457.2,40.8 458.3,40.7 459.4,40.6 460.5,40.6 461.5,40.5 462.6,40.4 463.7,40.4 464.8,40.3 465.9,40.3 467.0,40.2 468.0,40.1 469.1,40.1 470.2,40.0 471.3,40.0 472.4,39.9 473.5,39.8 474.5,39.8 475.6,39.7 476.7,39.7 477.8,39.6 478.9,39.5 479.9,39.5 481.0,39.4 482.1,39.3 483.2,39.3 484.3,39.2 485.4,39.2 486.4,39.1 487.5,39.0 488.6,39.0 489.7,38.9 490.8,38.9 491.9,38.8 492.9,38.7 494.0,38.7 495.1,38.6 496.2,38.6 497.3,38.5 498.3,38.4 499.4,38.4 500.5,38.3 501.6,38.2 502.7,38.2 503.8,38.1 504.8,38.1 505.9,38.0 507.0,37.9 508.1,37.9 509.2,37.8 510.3,37.8 511.3,37.7 512.4,37.6 513.5,37.6" stroke="#111" stroke-width="0.95" fill="none" stroke-linejoin="round"/>
<path d="M334.3,151.2 334.4,151.2 334.5,151.2 334.6,151.2 334.7,151.2 334.8,151.2 334.8,151.2 334.9,151.2 335.0,151.2 335.1,151.2 335.2,151.2 335.3,151.2 335.4,151.2 335.5,151.2 335.6,151.2 335.7,151.2 335.7,151.2 335.8,151.2 335.9,151.2 336.0,151.2 336.1,151.2 336.2,151.2 336.3,151.2 336.4,151.2 336.5,151.2 336.6,151.2 336.6,151.2 336.7,151.2 336.8,151.2 336.9,151.2 337.0,151.2 337.1,151.2 337.2,151.2 337.3,151.2 337.4,151.2 337.5,150.9 337.5,150.5 337.6,150.1 337.7,149.7 337.8,149.3 337.9,148.9 338.0,148.5 338.1,148.1 338.2,147.7 338.3,147.3 338.4,147.0 338.4,146.6 338.5,146.2 338.6,145.8 338.7,145.4 338.8,145.0 338.9,144.6 339.0,144.2 339.1,143.8 339.2,143.4 339.3,143.0 339.3,142.6 339.4,142.2 339.5,141.9 339.6,141.5 339.7,141.1 339.8,140.7 339.9,140.3 340.0,139.9 340.1,139.5 340.2,139.1 340.2,138.8 340.3,138.4 340.4,138.0 340.5,137.6 340.6,137.2 340.7,136.8 340.8,136.5 340.9,136.1 341.0,135.7 341.1,135.3 341.1,134.9 341.2,134.6 341.3,134.2 341.4,133.8 341.5,133.4 341.6,133.0 341.7,132.7 341.8,132.3 341.9,131.9 342.0,131.5 342.0,131.2 342.1,130.8 342.2,130.4 342.3,130.0 342.4,129.7 342.5,129.3 342.6,128.9 342.7,128.5 342.8,128.2 342.9,127.8 342.9,127.4 343.0,127.0 343.1,126.7 343.2,126.3 343.3,125.9 343.4,125.6 343.5,125.2 343.6,124.8 343.7,124.5 343.8,124.1 343.8,123.7 343.9,123.4 344.0,123.0 344.1,122.6 344.2,122.3 344.3,121.9 344.4,121.5 344.5,121.2 344.6,120.8 344.7,120.5 344.7,120.1 344.8,119.7 344.9,119.4 345.0,119.0 345.1,118.6 345.2,118.3 345.3,117.9 345.4,117.6 345.5,117.2 345.6,116.9 345.6,116.5 345.7,116.1 345.8,115.8 345.9,115.4 346.0,115.1 346.1,114.7 346.2,114.4 346.3,114.0 346.4,113.6 346.5,113.3 346.5,112.9 346.6,112.6 346.7,112.2 346.8,111.9 346.9,111.5 347.0,111.2 347.1,110.8 347.2,110.5 347.3,110.1 347.4,109.8 347.4,109.4 347.5,109.1 347.6,108.7 347.7,108.4 347.8,108.0 347.9,107.7 348.0,107.3 348.1,107.0 348.2,106.6 348.3,106.3 348.3,106.0 348.4,105.6 348.5,105.3 348.6,104.9 348.7,104.6 348.8,104.2 348.9,103.9 349.0,103.5 349.1,103.2 349.2,102.9 349.2,102.5 349.3,102.2 349.4,101.8 349.5,101.5 349.6,101.2 349.7,100.8 349.8,100.5 349.9,100.1 350.0,99.8 350.1,99.5 350.1,99.1 350.2,98.8 350.3,98.5 350.4,98.1 350.5,97.8 350.6,97.5 350.7,97.1 350.8,96.8 350.9,96.5 351.0,96.1 351.0,95.8 351.1,95.5 351.2,95.1 351.3,94.8 351.4,94.5 351.5,94.1 351.6,93.8 351.7,93.5 351.8,93.1 351.9,92.8 351.9,92.5 352.0,92.1 352.1,91.8 352.2,91.5 353.3,87.6 354.4,83.7 355.5,79.9 356.5,76.1 357.6,72.4 358.7,68.8 359.8,65.2 360.9,61.7 362.0,58.3 363.0,55.1 364.1,52.5 365.2,50.6 366.3,49.4 367.4,48.9 368.5,48.6 369.5,48.4 370.6,48.3 371.7,48.2 372.8,48.1 373.9,48.0 375.0,48.0 376.0,47.9 377.1,47.8 378.2,47.8 379.3,47.7 380.4,47.6 381.4,47.6 382.5,47.5 383.6,47.4 384.7,47.4 385.8,47.3 386.9,47.2 387.9,47.1 389.0,47.1 390.1,47.0 391.2,46.9 392.3,46.9 393.4,46.8 394.4,46.7 395.5,46.7 396.6,46.6 397.7,46.5 398.8,46.5 399.8,46.4 400.9,46.3 402.0,46.3 403.1,46.2 404.2,46.1 405.3,46.1 406.3,46.0 407.4,45.9 408.5,45.9 409.6,45.8 410.7,45.7 411.8,45.6 412.8,45.6 413.9,45.5 415.0,45.4 416.1,45.4 417.2,45.3 418.2,45.2 419.3,45.2 420.4,45.1 421.5,45.0 422.6,45.0 423.7,44.9 424.7,44.8 425.8,44.8 426.9,44.7 428.0,44.6 429.1,44.6 430.2,44.5 431.2,44.4 432.3,44.4 433.4,44.3 434.5,44.2 435.6,44.1 436.6,44.1 437.7,44.0 438.8,43.9 439.9,43.9 441.0,43.8 442.1,43.7 443.1,43.7 444.2,43.6 445.3,43.5 446.4,43.5 447.5,43.4 448.6,43.3 449.6,43.3 450.7,43.2 451.8,43.1 452.9,43.1 454.0,43.0 455.0,42.9 456.1,42.8 457.2,42.8 458.3,42.7 459.4,42.6 460.5,42.6 461.5,42.5 462.6,42.4 463.7,42.4 464.8,42.3 465.9,42.2 467.0,42.2 468.0,42.1 469.1,42.0 470.2,42.0 471.3,41.9 472.4,41.8 473.5,41.8 474.5,41.7 475.6,41.6 476.7,41.6 477.8,41.5 478.9,41.4 479.9,41.3 481.0,41.3 482.1,41.2 483.2,41.1 484.3,41.1 485.4,41.0 486.4,40.9 487.5,40.9 488.6,40.8 489.7,40.7 490.8,40.7 491.9,40.6 492.9,40.5 494.0,40.5 495.1,40.4 496.2,40.3 497.3,40.3 498.3,40.2 499.4,40.1 500.5,40.1 501.6,40.0 502.7,39.9 503.8,39.8 504.8,39.8 505.9,39.7 507.0,39.6 508.1,39.6 509.2,39.5 510.3,39.4 511.3,39.4 512.4,39.3 513.5,39.2" stroke="#111" stroke-width="0.95" fill="none" stroke-linejoin="round"/>
<path d="M334.3,293.6 334.6,293.0 335.0,292.5 335.3,291.9 335.7,291.3 336.0,290.7 336.4,290.2 336.7,289.6 337.1,289.0 337.4,288.5 337.7,287.9 338.1,287.3 338.4,286.7 338.8,286.2 339.1,285.6 339.5,285.0 339.8,284.4 340.2,283.9 340.5,283.3 340.8,282.7 341.2,282.2 341.5,281.6 341.9,281.0 342.2,280.4 342.6,279.9 342.9,279.3 343.3,278.7 343.6,278.1 343.9,277.6 344.3,277.0 344.6,276.4 345.0,275.8 345.3,275.3 345.7,274.7 346.0,274.1 346.4,273.5 346.7,273.0 347.1,272.4 347.4,271.8 347.7,271.2 347.7,271.2 349.1,268.9 350.5,266.6 351.9,264.3 353.3,261.9 354.7,259.6 356.1,257.3 357.5,255.0 358.9,252.6 360.3,250.2 361.7,247.9 363.1,245.5 364.5,243.1 365.8,240.8 367.2,238.4 368.6,236.0 370.0,233.6 371.4,231.3 372.8,228.9 374.2,226.6 375.6,224.3 377.0,222.0 378.4,219.7 379.8,217.4 381.2,215.2 382.6,213.0 384.0,210.9 385.3,208.7 386.7,206.6 388.1,204.4 389.5,202.3 390.9,200.2 392.3,198.0 393.7,195.8 395.1,193.6 396.5,191.5 397.9,189.5 399.3,187.8 400.7,186.1 402.1,184.5 403.5,183.1 404.9,181.8 406.2,180.6 407.6,179.5 409.0,178.5 410.4,177.4 411.8,176.5 413.2,175.6 414.6,174.8 416.0,174.1 417.4,173.4 418.8,172.9 420.2,172.5 421.6,172.0 423.0,171.6 424.4,171.3 425.7,170.9 427.1,170.6 428.5,170.3 429.9,170.1 431.3,169.8 432.7,169.6 434.1,169.4 435.5,169.3 436.9,169.1 438.3,168.9 439.7,168.7 441.1,168.6 442.5,168.4 443.9,168.3 445.2,168.2 446.6,168.0 448.0,167.9 449.4,167.8 450.8,167.7 452.2,167.6 453.6,167.5 455.0,167.4 456.4,167.3 457.8,167.2 459.2,167.1 460.6,167.0 462.0,166.9 463.4,166.9 464.7,166.8 466.1,166.7 467.5,166.6 468.9,166.6 470.3,166.5 471.7,166.4 473.1,166.3 474.5,166.3 475.9,166.2 477.3,166.1 478.7,166.0 480.1,166.0 481.5,165.9 482.9,165.8 484.2,165.8 485.6,165.7 487.0,165.7 488.4,165.6 489.8,165.5 491.2,165.5 492.6,165.4 494.0,165.4 495.4,165.4 496.8,165.3 498.2,165.3 499.6,165.2 501.0,165.2 502.4,165.2 503.7,165.1 505.1,165.1 506.5,165.1 507.9,165.1 509.3,165.1 510.7,165.1 512.1,165.0 513.5,165.0" stroke="#3232c8" stroke-width="1.0" fill="none" stroke-linejoin="round"/>
<path d="M334.3,293.6 334.6,293.0 335.0,292.4 335.3,291.9 335.7,291.3 336.0,290.7 336.4,290.1 336.7,289.5 337.1,289.0 337.4,288.4 337.7,287.8 338.1,287.2 338.4,286.6 338.8,286.1 339.1,285.5 339.5,284.9 339.8,284.3 340.2,283.7 340.5,283.2 340.8,282.6 341.2,282.0 341.5,281.4 341.9,280.8 342.2,280.3 342.6,279.7 342.9,279.1 343.3,278.5 343.6,277.9 343.9,277.4 344.3,276.8 344.6,276.2 345.0,275.6 345.3,275.0 345.7,274.4 346.0,273.9 346.4,273.3 346.7,272.7 347.1,272.1 347.4,271.5 347.7,271.0 347.7,271.0 349.1,268.6 350.5,266.2 351.9,263.9 353.3,261.5 354.7,259.2 356.1,256.8 357.5,254.4 358.9,252.1 360.3,249.7 361.7,247.2 363.1,244.8 364.5,242.4 365.8,240.0 367.2,237.5 368.6,235.1 370.0,232.7 371.4,230.3 372.8,227.9 374.2,225.6 375.6,223.2 377.0,220.9 378.4,218.6 379.8,216.4 381.2,214.2 382.6,212.0 384.0,209.8 385.3,207.7 386.7,205.6 388.1,203.5 389.5,201.4 390.9,199.4 392.3,197.3 393.7,195.2 395.1,193.2 396.5,191.2 397.9,189.4 399.3,187.9 400.7,186.4 402.1,185.0 403.5,183.7 404.9,182.6 406.2,181.5 407.6,180.6 409.0,179.7 410.4,178.8 411.8,178.0 413.2,177.2 414.6,176.5 416.0,175.9 417.4,175.3 418.8,174.8 420.2,174.4 421.6,174.0 423.0,173.6 424.4,173.2 425.7,172.9 427.1,172.6 428.5,172.3 429.9,172.1 431.3,171.8 432.7,171.6 434.1,171.4 435.5,171.2 436.9,171.1 438.3,170.9 439.7,170.7 441.1,170.6 442.5,170.4 443.9,170.3 445.2,170.1 446.6,170.0 448.0,169.8 449.4,169.7 450.8,169.6 452.2,169.5 453.6,169.4 455.0,169.3 456.4,169.2 457.8,169.1 459.2,169.0 460.6,169.0 462.0,168.9 463.4,168.8 464.7,168.8 466.1,168.7 467.5,168.6 468.9,168.6 470.3,168.5 471.7,168.4 473.1,168.4 474.5,168.3 475.9,168.3 477.3,168.2 478.7,168.1 480.1,168.1 481.5,168.0 482.9,168.0 484.2,167.9 485.6,167.9 487.0,167.8 488.4,167.8 489.8,167.7 491.2,167.7 492.6,167.6 494.0,167.6 495.4,167.6 496.8,167.5 498.2,167.5 499.6,167.5 501.0,167.4 502.4,167.4 503.7,167.4 505.1,167.4 506.5,167.4 507.9,167.3 509.3,167.3 510.7,167.3 512.1,167.3 513.5,167.3" stroke="#3232c8" stroke-width="1.0" fill="none" stroke-linejoin="round"/>
<path d="M334.3,293.6 334.6,293.0 335.0,292.4 335.3,291.8 335.7,291.3 336.0,290.7 336.4,290.1 336.7,289.5 337.1,288.9 337.4,288.3 337.7,287.7 338.1,287.1 338.4,286.6 338.8,286.0 339.1,285.4 339.5,284.8 339.8,284.2 340.2,283.6 340.5,283.0 340.8,282.4 341.2,281.9 341.5,281.3 341.9,280.7 342.2,280.1 342.6,279.5 342.9,278.9 343.3,278.3 343.6,277.7 343.9,277.1 344.3,276.6 344.6,276.0 345.0,275.4 345.3,274.8 345.7,274.2 346.0,273.6 346.4,273.0 346.7,272.4 347.1,271.8 347.4,271.3 347.7,270.7 347.7,270.7 349.1,268.3 350.5,265.9 351.9,263.5 353.3,261.1 354.7,258.7 356.1,256.3 357.5,253.9 358.9,251.5 360.3,249.1 361.7,246.6 363.1,244.1 364.5,241.7 365.8,239.2 367.2,236.7 368.6,234.2 370.0,231.8 371.4,229.3 372.8,226.9 374.2,224.5 375.6,222.2 377.0,219.8 378.4,217.5 379.8,215.3 381.2,213.1 382.6,210.9 384.0,208.8 385.3,206.6 386.7,204.6 388.1,202.5 389.5,200.5 390.9,198.6 392.3,196.6 393.7,194.7 395.1,192.7 396.5,191.0 397.9,189.3 399.3,187.9 400.7,186.6 402.1,185.4 403.5,184.3 404.9,183.3 406.2,182.5 407.6,181.7 409.0,180.9 410.4,180.2 411.8,179.5 413.2,178.8 414.6,178.2 416.0,177.7 417.4,177.2 418.8,176.7 420.2,176.3 421.6,175.9 423.0,175.6 424.4,175.2 425.7,174.9 427.1,174.6 428.5,174.3 429.9,174.1 431.3,173.8 432.7,173.6 434.1,173.4 435.5,173.2 436.9,173.0 438.3,172.9 439.7,172.7 441.1,172.5 442.5,172.4 443.9,172.2 445.2,172.1 446.6,171.9 448.0,171.8 449.4,171.7 450.8,171.5 452.2,171.4 453.6,171.3 455.0,171.2 456.4,171.1 457.8,171.1 459.2,171.0 460.6,170.9 462.0,170.9 463.4,170.8 464.7,170.8 466.1,170.7 467.5,170.6 468.9,170.6 470.3,170.5 471.7,170.5 473.1,170.4 474.5,170.4 475.9,170.3 477.3,170.3 478.7,170.2 480.1,170.2 481.5,170.1 482.9,170.1 484.2,170.1 485.6,170.0 487.0,170.0 488.4,169.9 489.8,169.9 491.2,169.9 492.6,169.8 494.0,169.8 495.4,169.8 496.8,169.8 498.2,169.7 499.6,169.7 501.0,169.7 502.4,169.7 503.7,169.6 505.1,169.6 506.5,169.6 507.9,169.6 509.3,169.6 510.7,169.6 512.1,169.6 513.5,169.6" stroke="#3232c8" stroke-width="1.0" fill="none" stroke-linejoin="round"/>
<path d="M334.3,293.6 334.6,293.0 335.0,292.4 335.3,291.8 335.7,291.2 336.0,290.6 336.4,290.0 336.7,289.4 337.1,288.8 337.4,288.3 337.7,287.7 338.1,287.1 338.4,286.5 338.8,285.9 339.1,285.3 339.5,284.7 339.8,284.1 340.2,283.5 340.5,282.9 340.8,282.3 341.2,281.7 341.5,281.1 341.9,280.5 342.2,279.9 342.6,279.3 342.9,278.7 343.3,278.1 343.6,277.5 343.9,276.9 344.3,276.3 344.6,275.7 345.0,275.2 345.3,274.6 345.7,274.0 346.0,273.4 346.4,272.8 346.7,272.2 347.1,271.6 347.4,271.0 347.7,270.4 347.7,270.4 349.1,268.0 350.5,265.5 351.9,263.1 353.3,260.7 354.7,258.3 356.1,255.8 357.5,253.4 358.9,250.9 360.3,248.5 361.7,246.0 363.1,243.4 364.5,240.9 365.8,238.4 367.2,235.9 368.6,233.4 370.0,230.9 371.4,228.4 372.8,225.9 374.2,223.5 375.6,221.1 377.0,218.8 378.4,216.5 379.8,214.2 381.2,212.0 382.6,209.8 384.0,207.7 385.3,205.6 386.7,203.6 388.1,201.6 389.5,199.7 390.9,197.8 392.3,195.9 393.7,194.1 395.1,192.3 396.5,190.7 397.9,189.2 399.3,188.0 400.7,186.9 402.1,185.9 403.5,185.0 404.9,184.1 406.2,183.4 407.6,182.7 409.0,182.1 410.4,181.5 411.8,180.9 413.2,180.4 414.6,179.9 416.0,179.5 417.4,179.0 418.8,178.6 420.2,178.3 421.6,177.9 423.0,177.5 424.4,177.2 425.7,176.9 427.1,176.6 428.5,176.3 429.9,176.0 431.3,175.8 432.7,175.6 434.1,175.4 435.5,175.2 436.9,175.0 438.3,174.8 439.7,174.7 441.1,174.5 442.5,174.3 443.9,174.2 445.2,174.0 446.6,173.9 448.0,173.7 449.4,173.6 450.8,173.5 452.2,173.4 453.6,173.3 455.0,173.2 456.4,173.1 457.8,173.0 459.2,172.9 460.6,172.9 462.0,172.8 463.4,172.8 464.7,172.8 466.1,172.7 467.5,172.7 468.9,172.6 470.3,172.6 471.7,172.5 473.1,172.5 474.5,172.5 475.9,172.4 477.3,172.4 478.7,172.3 480.1,172.3 481.5,172.3 482.9,172.2 484.2,172.2 485.6,172.2 487.0,172.1 488.4,172.1 489.8,172.1 491.2,172.1 492.6,172.0 494.0,172.0 495.4,172.0 496.8,172.0 498.2,172.0 499.6,171.9 501.0,171.9 502.4,171.9 503.7,171.9 505.1,171.9 506.5,171.9 507.9,171.9 509.3,171.9 510.7,171.9 512.1,171.9 513.5,171.9" stroke="#3232c8" stroke-width="1.0" fill="none" stroke-linejoin="round"/>
<path d="M334.3,293.6 334.6,293.0 335.0,292.4 335.3,291.8 335.7,291.2 336.0,290.6 336.4,290.0 336.7,289.4 337.1,288.8 337.4,288.2 337.7,287.6 338.1,287.0 338.4,286.4 338.8,285.8 339.1,285.2 339.5,284.6 339.8,284.0 340.2,283.4 340.5,282.8 340.8,282.2 341.2,281.6 341.5,281.0 341.9,280.4 342.2,279.8 342.6,279.1 342.9,278.5 343.3,277.9 343.6,277.3 343.9,276.7 344.3,276.1 344.6,275.5 345.0,274.9 345.3,274.3 345.7,273.7 346.0,273.1 346.4,272.5 346.7,271.9 347.1,271.3 347.4,270.7 347.7,270.1 347.7,270.1 349.1,267.6 350.5,265.2 351.9,262.7 353.3,260.3 354.7,257.8 356.1,255.4 357.5,252.9 358.9,250.4 360.3,247.9 361.7,245.3 363.1,242.7 364.5,240.2 365.8,237.6 367.2,235.0 368.6,232.5 370.0,229.9 371.4,227.4 372.8,224.9 374.2,222.5 375.6,220.1 377.0,217.7 378.4,215.4 379.8,213.1 381.2,210.9 382.6,208.8 384.0,206.6 385.3,204.6 386.7,202.6 388.1,200.6 389.5,198.8 390.9,197.0 392.3,195.3 393.7,193.6 395.1,191.9 396.5,190.4 397.9,189.1 399.3,188.1 400.7,187.2 402.1,186.3 403.5,185.6 404.9,184.9 406.2,184.3 407.6,183.8 409.0,183.3 410.4,182.9 411.8,182.4 413.2,182.0 414.6,181.6 416.0,181.3 417.4,180.9 418.8,180.5 420.2,180.2 421.6,179.9 423.0,179.5 424.4,179.2 425.7,178.9 427.1,178.6 428.5,178.3 429.9,178.0 431.3,177.8 432.7,177.6 434.1,177.4 435.5,177.2 436.9,177.0 438.3,176.8 439.7,176.6 441.1,176.5 442.5,176.3 443.9,176.1 445.2,176.0 446.6,175.8 448.0,175.7 449.4,175.5 450.8,175.4 452.2,175.3 453.6,175.2 455.0,175.1 456.4,175.0 457.8,175.0 459.2,174.9 460.6,174.9 462.0,174.8 463.4,174.8 464.7,174.8 466.1,174.7 467.5,174.7 468.9,174.7 470.3,174.6 471.7,174.6 473.1,174.6 474.5,174.5 475.9,174.5 477.3,174.5 478.7,174.5 480.1,174.4 481.5,174.4 482.9,174.4 484.2,174.4 485.6,174.3 487.0,174.3 488.4,174.3 489.8,174.3 491.2,174.3 492.6,174.3 494.0,174.2 495.4,174.2 496.8,174.2 498.2,174.2 499.6,174.2 501.0,174.2 502.4,174.2 503.7,174.2 505.1,174.2 506.5,174.2 507.9,174.1 509.3,174.1 510.7,174.1 512.1,174.1 513.5,174.1" stroke="#3232c8" stroke-width="1.0" fill="none" stroke-linejoin="round"/>
<path d="M334.3,293.6 334.6,293.0 335.0,292.4 335.3,291.8 335.7,291.2 336.0,290.6 336.4,290.0 336.7,289.3 337.1,288.7 337.4,288.1 337.7,287.5 338.1,286.9 338.4,286.3 338.8,285.7 339.1,285.1 339.5,284.5 339.8,283.9 340.2,283.2 340.5,282.6 340.8,282.0 341.2,281.4 341.5,280.8 341.9,280.2 342.2,279.6 342.6,279.0 342.9,278.4 343.3,277.7 343.6,277.1 343.9,276.5 344.3,275.9 344.6,275.3 345.0,274.7 345.3,274.1 345.7,273.5 346.0,272.9 346.4,272.2 346.7,271.6 347.1,271.0 347.4,270.4 347.7,269.8 347.7,269.8 349.1,267.3 350.5,264.8 351.9,262.3 353.3,259.9 354.7,257.4 356.1,254.9 357.5,252.4 358.9,249.8 360.3,247.3 361.7,244.7 363.1,242.1 364.5,239.4 365.8,236.8 367.2,234.2 368.6,231.6 370.0,229.0 371.4,226.4 372.8,223.9 374.2,221.4 375.6,219.0 377.0,216.6 378.4,214.3 379.8,212.0 381.2,209.9 382.6,207.7 384.0,205.6 385.3,203.5 386.7,201.6 388.1,199.7 389.5,197.9 390.9,196.2 392.3,194.6 393.7,193.0 395.1,191.5 396.5,190.2 397.9,189.0 399.3,188.2 400.7,187.4 402.1,186.8 403.5,186.2 404.9,185.7 406.2,185.3 407.6,184.9 409.0,184.5 410.4,184.2 411.8,183.9 413.2,183.6 414.6,183.3 416.0,183.0 417.4,182.8 418.8,182.5 420.2,182.2 421.6,181.8 423.0,181.5 424.4,181.2 425.7,180.9 427.1,180.6 428.5,180.3 429.9,180.0 431.3,179.8 432.7,179.6 434.1,179.4 435.5,179.2 436.9,179.0 438.3,178.8 439.7,178.6 441.1,178.4 442.5,178.3 443.9,178.1 445.2,177.9 446.6,177.8 448.0,177.6 449.4,177.5 450.8,177.3 452.2,177.2 453.6,177.1 455.0,177.0 456.4,176.9 457.8,176.9 459.2,176.8 460.6,176.8 462.0,176.8 463.4,176.8 464.7,176.8 466.1,176.7 467.5,176.7 468.9,176.7 470.3,176.7 471.7,176.7 473.1,176.6 474.5,176.6 475.9,176.6 477.3,176.6 478.7,176.6 480.1,176.6 481.5,176.6 482.9,176.5 484.2,176.5 485.6,176.5 487.0,176.5 488.4,176.5 489.8,176.5 491.2,176.5 492.6,176.5 494.0,176.5 495.4,176.5 496.8,176.4 498.2,176.4 499.6,176.4 501.0,176.4 502.4,176.4 503.7,176.4 505.1,176.4 506.5,176.4 507.9,176.4 509.3,176.4 510.7,176.4 512.1,176.4 513.5,176.4" stroke="#3232c8" stroke-width="1.0" fill="none" stroke-linejoin="round"/>
<path d="M361.9 61.5L360.2 56.3L362.4 58.8M366.9 51.5L365.5 47.3L367.6 49.6M356.8 75L355.4 70.8L357.3 72.8M353.5 85L352.6 81.5L354 83" stroke="#222" stroke-width="0.8" fill="none"/>
<path d="M334.8 293.6V285.5M358.5 257.5L359.5 261.5L360.3 259" stroke="#3232c8" stroke-width="0.9" fill="none"/>
<path d="M334.3,436.0 334.4,436.0 334.5,434.6 334.6,432.0 334.7,429.3 334.8,426.7 334.8,424.0 334.9,421.3 335.0,418.7 335.1,416.0 335.2,413.3 335.3,410.7 335.4,408.0 335.5,405.3 335.6,402.7 335.7,400.0 335.7,397.3 335.8,394.7 335.9,392.0 336.0,389.3 336.1,386.7 336.2,384.0 336.3,381.4 336.4,378.7 336.5,376.0 336.6,373.4 336.6,370.8 336.7,368.1 336.8,365.5 336.9,362.9 337.0,360.3 337.1,357.7 337.2,355.1 337.3,352.6 337.4,350.1 337.5,347.6 337.5,345.2 337.6,342.8 337.7,340.4 337.8,338.2 337.9,335.9 338.0,333.8 338.1,331.8 338.2,329.8 338.3,327.9 338.4,326.1 338.4,324.4 338.5,322.9 338.6,321.4 338.7,320.0 338.8,318.8 338.9,317.6 339.0,316.5 339.1,315.5 339.2,314.6 339.3,313.8 339.3,313.1 339.4,312.4 339.5,311.8 339.6,311.3 339.7,310.8 339.8,310.4 339.9,310.0 340.0,309.6 340.1,309.3 340.2,309.0 340.2,308.8 340.3,308.5 340.4,308.3 340.5,308.1 340.6,308.0 340.7,307.8 340.8,307.7 340.9,307.6 341.0,307.5 341.1,307.4 341.1,307.3 341.2,307.2 341.3,307.1 341.4,307.1 341.5,307.0 341.6,307.0 341.7,306.9 341.8,306.9 341.9,306.8 342.0,306.8 342.0,306.8 342.1,306.7 342.2,306.7 342.3,306.7 342.4,306.7 342.5,306.6 342.6,306.6 342.7,306.6 342.8,306.6 342.9,306.6 342.9,306.6 343.0,306.5 343.1,306.5 343.2,306.5 343.3,306.5 343.4,306.5 343.5,306.5 343.6,306.5 343.7,306.5 343.8,306.5 343.8,306.5 343.9,306.5 344.0,306.5 344.1,306.5 344.2,306.5 344.3,306.4 344.4,306.4 344.5,306.4 344.6,306.4 344.7,306.4 344.7,306.4 344.8,306.4 344.9,306.4 345.0,306.4 345.1,306.4 345.2,306.4 345.3,306.4 345.4,306.4 345.5,306.4 345.6,306.4 345.6,306.4 345.7,306.4 345.8,306.4 345.9,306.4 346.0,306.4 346.1,306.4 346.2,306.4 346.3,306.4 346.4,306.4 346.5,306.4 346.5,306.4 346.6,306.4 346.7,306.4 346.8,306.4 346.9,306.4 347.0,306.4 347.1,306.4 347.2,306.4 347.3,306.4 347.4,306.4 347.4,306.4 347.5,306.4 347.6,306.4 347.7,306.4 347.8,306.4 347.9,306.4 348.0,306.4 348.1,306.4 348.2,306.4 348.3,306.4 348.3,306.4 348.4,306.4 348.5,306.4 348.6,306.4 348.7,306.4 348.8,306.4 348.9,306.4 349.0,306.4 349.1,306.4 349.2,306.4 349.2,306.4 349.3,306.4 349.4,306.4 349.5,306.4 349.6,306.4 349.7,306.4 349.8,306.4 349.9,306.4 350.0,306.4 350.1,306.4 350.1,306.4 350.2,306.4 350.3,306.4 350.4,306.4 350.5,306.4 350.6,306.4 350.7,306.4 350.8,306.4 350.9,306.4 351.0,306.4 351.0,306.4 351.1,306.4 351.2,306.4 351.3,306.4 351.4,306.4 351.5,306.4 351.6,306.4 351.7,306.4 351.8,306.4 351.9,306.4 351.9,306.4 352.0,306.4 352.1,306.4 352.2,306.4 353.3,306.4 354.4,306.4 355.5,306.4 356.5,306.4 357.6,306.4 358.7,306.4 359.8,306.4 360.9,306.4 362.0,306.4 363.0,306.4 364.1,306.4 365.2,306.4 366.3,306.4 367.4,306.4 368.5,306.4 369.5,306.4 370.6,306.4 371.7,306.4 372.8,306.4 373.9,306.4 375.0,306.4 376.0,306.4 377.1,306.4 378.2,306.4 379.3,306.4 380.4,306.4 381.4,306.4 382.5,306.4 383.6,306.4 384.7,306.4 385.8,306.4 386.9,306.4 387.9,306.4 389.0,306.4 390.1,306.4 391.2,306.4 392.3,306.4 393.4,306.4 394.4,306.4 395.5,306.4 396.6,306.4 397.7,306.4 398.8,306.4 399.8,306.4 400.9,306.4 402.0,306.4 403.1,306.4 404.2,306.4 405.3,306.4 406.3,306.4 407.4,306.4 408.5,306.4 409.6,306.4 410.7,306.4 411.8,306.4 412.8,306.4 413.9,306.4 415.0,306.4 416.1,306.4 417.2,306.4 418.2,306.4 419.3,306.4 420.4,306.4 421.5,306.4 422.6,306.4 423.7,306.4 424.7,306.4 425.8,306.4 426.9,306.4 428.0,306.4 429.1,306.4 430.2,306.4 431.2,306.4 432.3,306.4 433.4,306.4 434.5,306.4 435.6,306.4 436.6,306.4 437.7,306.4 438.8,306.4 439.9,306.4 441.0,306.4 442.1,306.4 443.1,306.4 444.2,306.4 445.3,306.4 446.4,306.4 447.5,306.4 448.6,306.4 449.6,306.4 450.7,306.4 451.8,306.4 452.9,306.4 454.0,306.4 455.0,306.4 456.1,306.4 457.2,306.4 458.3,306.4 459.4,306.4 460.5,306.4 461.5,306.4 462.6,306.4 463.7,306.4 464.8,306.4 465.9,306.4 467.0,306.4 468.0,306.4 469.1,306.4 470.2,306.4 471.3,306.4 472.4,306.4 473.5,306.4 474.5,306.4 475.6,306.4 476.7,306.4 477.8,306.4 478.9,306.4 479.9,306.4 481.0,306.4 482.1,306.4 483.2,306.4 484.3,306.4 485.4,306.4 486.4,306.4 487.5,306.4 488.6,306.4 489.7,306.4 490.8,306.4 491.9,306.4 492.9,306.4 494.0,306.4 495.1,306.4 496.2,306.4 497.3,306.4 498.3,306.4 499.4,306.4 500.5,306.4 501.6,306.4 502.7,306.4 503.8,306.4 504.8,306.4 505.9,306.4 507.0,306.4 508.1,306.4 509.2,306.4 510.3,306.4 511.3,306.4 512.4,306.4 513.5,306.4" stroke="#dc2030" stroke-width="0.95" fill="none" stroke-linejoin="round"/>
<path d="M334.3,436.0 334.4,436.0 334.5,436.0 334.6,434.7 334.7,432.1 334.8,429.5 334.8,426.9 334.9,424.3 335.0,421.7 335.1,419.1 335.2,416.5 335.3,413.9 335.4,411.3 335.5,408.7 335.6,406.1 335.7,403.5 335.7,400.9 335.8,398.3 335.9,395.7 336.0,393.1 336.1,390.5 336.2,387.9 336.3,385.3 336.4,382.7 336.5,380.1 336.6,377.5 336.6,374.9 336.7,372.4 336.8,369.8 336.9,367.2 337.0,364.7 337.1,362.1 337.2,359.6 337.3,357.1 337.4,354.6 337.5,352.1 337.5,349.7 337.6,347.3 337.7,344.9 337.8,342.6 337.9,340.4 338.0,338.2 338.1,336.0 338.2,334.0 338.3,332.0 338.4,330.1 338.4,328.3 338.5,326.6 338.6,325.0 338.7,323.4 338.8,322.0 338.9,320.7 339.0,319.5 339.1,318.4 339.2,317.3 339.3,316.4 339.3,315.5 339.4,314.7 339.5,314.0 339.6,313.4 339.7,312.8 339.8,312.2 339.9,311.8 340.0,311.3 340.1,311.0 340.2,310.6 340.2,310.3 340.3,310.0 340.4,309.8 340.5,309.5 340.6,309.3 340.7,309.2 340.8,309.0 340.9,308.9 341.0,308.7 341.1,308.6 341.1,308.5 341.2,308.4 341.3,308.3 341.4,308.2 341.5,308.2 341.6,308.1 341.7,308.0 341.8,308.0 341.9,307.9 342.0,307.9 342.0,307.8 342.1,307.8 342.2,307.8 342.3,307.7 342.4,307.7 342.5,307.7 342.6,307.7 342.7,307.6 342.8,307.6 342.9,307.6 342.9,307.6 343.0,307.6 343.1,307.6 343.2,307.5 343.3,307.5 343.4,307.5 343.5,307.5 343.6,307.5 343.7,307.5 343.8,307.5 343.8,307.5 343.9,307.5 344.0,307.5 344.1,307.5 344.2,307.5 344.3,307.5 344.4,307.4 344.5,307.4 344.6,307.4 344.7,307.4 344.7,307.4 344.8,307.4 344.9,307.4 345.0,307.4 345.1,307.4 345.2,307.4 345.3,307.4 345.4,307.4 345.5,307.4 345.6,307.4 345.6,307.4 345.7,307.4 345.8,307.4 345.9,307.4 346.0,307.4 346.1,307.4 346.2,307.4 346.3,307.4 346.4,307.4 346.5,307.4 346.5,307.4 346.6,307.4 346.7,307.4 346.8,307.4 346.9,307.4 347.0,307.4 347.1,307.4 347.2,307.4 347.3,307.4 347.4,307.4 347.4,307.4 347.5,307.4 347.6,307.4 347.7,307.4 347.8,307.4 347.9,307.4 348.0,307.4 348.1,307.4 348.2,307.4 348.3,307.4 348.3,307.4 348.4,307.4 348.5,307.4 348.6,307.4 348.7,307.4 348.8,307.4 348.9,307.4 349.0,307.4 349.1,307.4 349.2,307.4 349.2,307.4 349.3,307.4 349.4,307.4 349.5,307.4 349.6,307.4 349.7,307.4 349.8,307.4 349.9,307.4 350.0,307.4 350.1,307.4 350.1,307.4 350.2,307.4 350.3,307.4 350.4,307.4 350.5,307.4 350.6,307.4 350.7,307.4 350.8,307.4 350.9,307.4 351.0,307.4 351.0,307.4 351.1,307.4 351.2,307.4 351.3,307.4 351.4,307.4 351.5,307.4 351.6,307.4 351.7,307.4 351.8,307.4 351.9,307.4 351.9,307.4 352.0,307.4 352.1,307.4 352.2,307.4 353.3,307.4 354.4,307.4 355.5,307.4 356.5,307.4 357.6,307.4 358.7,307.4 359.8,307.4 360.9,307.4 362.0,307.4 363.0,307.4 364.1,307.4 365.2,307.4 366.3,307.4 367.4,307.4 368.5,307.4 369.5,307.4 370.6,307.4 371.7,307.4 372.8,307.4 373.9,307.4 375.0,307.4 376.0,307.4 377.1,307.4 378.2,307.4 379.3,307.4 380.4,307.4 381.4,307.4 382.5,307.4 383.6,307.4 384.7,307.4 385.8,307.4 386.9,307.4 387.9,307.4 389.0,307.4 390.1,307.4 391.2,307.4 392.3,307.4 393.4,307.4 394.4,307.4 395.5,307.4 396.6,307.4 397.7,307.4 398.8,307.4 399.8,307.4 400.9,307.4 402.0,307.4 403.1,307.4 404.2,307.4 405.3,307.4 406.3,307.4 407.4,307.4 408.5,307.4 409.6,307.4 410.7,307.4 411.8,307.4 412.8,307.4 413.9,307.4 415.0,307.4 416.1,307.4 417.2,307.4 418.2,307.4 419.3,307.4 420.4,307.4 421.5,307.4 422.6,307.4 423.7,307.4 424.7,307.4 425.8,307.4 426.9,307.4 428.0,307.4 429.1,307.4 430.2,307.4 431.2,307.4 432.3,307.4 433.4,307.4 434.5,307.4 435.6,307.4 436.6,307.4 437.7,307.4 438.8,307.4 439.9,307.4 441.0,307.4 442.1,307.4 443.1,307.4 444.2,307.4 445.3,307.4 446.4,307.4 447.5,307.4 448.6,307.4 449.6,307.4 450.7,307.4 451.8,307.4 452.9,307.4 454.0,307.4 455.0,307.4 456.1,307.4 457.2,307.4 458.3,307.4 459.4,307.4 460.5,307.4 461.5,307.4 462.6,307.4 463.7,307.4 464.8,307.4 465.9,307.4 467.0,307.4 468.0,307.4 469.1,307.4 470.2,307.4 471.3,307.4 472.4,307.4 473.5,307.4 474.5,307.4 475.6,307.4 476.7,307.4 477.8,307.4 478.9,307.4 479.9,307.4 481.0,307.4 482.1,307.4 483.2,307.4 484.3,307.4 485.4,307.4 486.4,307.4 487.5,307.4 488.6,307.4 489.7,307.4 490.8,307.4 491.9,307.4 492.9,307.4 494.0,307.4 495.1,307.4 496.2,307.4 497.3,307.4 498.3,307.4 499.4,307.4 500.5,307.4 501.6,307.4 502.7,307.4 503.8,307.4 504.8,307.4 505.9,307.4 507.0,307.4 508.1,307.4 509.2,307.4 510.3,307.4 511.3,307.4 512.4,307.4 513.5,307.4" stroke="#dc2030" stroke-width="0.95" fill="none" stroke-linejoin="round"/>
<path d="M334.3,436.0 334.4,436.0 334.5,436.0 334.6,436.0 334.7,434.7 334.8,432.2 334.8,429.6 334.9,427.1 335.0,424.6 335.1,422.0 335.2,419.5 335.3,417.0 335.4,414.4 335.5,411.9 335.6,409.4 335.7,406.8 335.7,404.3 335.8,401.8 335.9,399.2 336.0,396.7 336.1,394.2 336.2,391.6 336.3,389.1 336.4,386.6 336.5,384.1 336.6,381.5 336.6,379.0 336.7,376.5 336.8,374.0 336.9,371.5 337.0,369.0 337.1,366.5 337.2,364.0 337.3,361.5 337.4,359.1 337.5,356.6 337.5,354.2 337.6,351.8 337.7,349.5 337.8,347.2 337.9,344.9 338.0,342.6 338.1,340.5 338.2,338.4 338.3,336.3 338.4,334.3 338.4,332.4 338.5,330.6 338.6,328.9 338.7,327.3 338.8,325.7 338.9,324.3 339.0,322.9 339.1,321.7 339.2,320.5 339.3,319.4 339.3,318.4 339.4,317.5 339.5,316.7 339.6,316.0 339.7,315.3 339.8,314.7 339.9,314.1 340.0,313.6 340.1,313.1 340.2,312.7 340.2,312.4 340.3,312.0 340.4,311.7 340.5,311.5 340.6,311.2 340.7,311.0 340.8,310.8 340.9,310.6 341.0,310.5 341.1,310.3 341.1,310.2 341.2,310.1 341.3,310.0 341.4,309.9 341.5,309.8 341.6,309.7 341.7,309.6 341.8,309.6 341.9,309.5 342.0,309.5 342.0,309.4 342.1,309.4 342.2,309.3 342.3,309.3 342.4,309.3 342.5,309.2 342.6,309.2 342.7,309.2 342.8,309.2 342.9,309.1 342.9,309.1 343.0,309.1 343.1,309.1 343.2,309.1 343.3,309.1 343.4,309.0 343.5,309.0 343.6,309.0 343.7,309.0 343.8,309.0 343.8,309.0 343.9,309.0 344.0,309.0 344.1,309.0 344.2,309.0 344.3,309.0 344.4,309.0 344.5,308.9 344.6,308.9 344.7,308.9 344.7,308.9 344.8,308.9 344.9,308.9 345.0,308.9 345.1,308.9 345.2,308.9 345.3,308.9 345.4,308.9 345.5,308.9 345.6,308.9 345.6,308.9 345.7,308.9 345.8,308.9 345.9,308.9 346.0,308.9 346.1,308.9 346.2,308.9 346.3,308.9 346.4,308.9 346.5,308.9 346.5,308.9 346.6,308.9 346.7,308.9 346.8,308.9 346.9,308.9 347.0,308.9 347.1,308.9 347.2,308.9 347.3,308.9 347.4,308.9 347.4,308.9 347.5,308.9 347.6,308.9 347.7,308.9 347.8,308.9 347.9,308.9 348.0,308.9 348.1,308.9 348.2,308.9 348.3,308.9 348.3,308.9 348.4,308.9 348.5,308.9 348.6,308.9 348.7,308.9 348.8,308.9 348.9,308.9 349.0,308.9 349.1,308.9 349.2,308.9 349.2,308.9 349.3,308.9 349.4,308.9 349.5,308.9 349.6,308.9 349.7,308.9 349.8,308.9 349.9,308.9 350.0,308.9 350.1,308.9 350.1,308.9 350.2,308.9 350.3,308.9 350.4,308.9 350.5,308.9 350.6,308.9 350.7,308.9 350.8,308.9 350.9,308.9 351.0,308.9 351.0,308.9 351.1,308.9 351.2,308.9 351.3,308.9 351.4,308.9 351.5,308.9 351.6,308.9 351.7,308.9 351.8,308.9 351.9,308.9 351.9,308.9 352.0,308.9 352.1,308.9 352.2,308.9 353.3,308.9 354.4,308.9 355.5,308.9 356.5,308.9 357.6,308.9 358.7,308.9 359.8,308.9 360.9,308.9 362.0,308.9 363.0,308.9 364.1,308.9 365.2,308.9 366.3,308.9 367.4,308.9 368.5,308.9 369.5,308.9 370.6,308.9 371.7,308.9 372.8,308.9 373.9,308.9 375.0,308.9 376.0,308.9 377.1,308.9 378.2,308.9 379.3,308.9 380.4,308.9 381.4,308.9 382.5,308.9 383.6,308.9 384.7,308.9 385.8,308.9 386.9,308.9 387.9,308.9 389.0,308.9 390.1,308.9 391.2,308.9 392.3,308.9 393.4,308.9 394.4,308.9 395.5,308.9 396.6,308.9 397.7,308.9 398.8,308.9 399.8,308.9 400.9,308.9 402.0,308.9 403.1,308.9 404.2,308.9 405.3,308.9 406.3,308.9 407.4,308.9 408.5,308.9 409.6,308.9 410.7,308.9 411.8,308.9 412.8,308.9 413.9,308.9 415.0,308.9 416.1,308.9 417.2,308.9 418.2,308.9 419.3,308.9 420.4,308.9 421.5,308.9 422.6,308.9 423.7,308.9 424.7,308.9 425.8,308.9 426.9,308.9 428.0,308.9 429.1,308.9 430.2,308.9 431.2,308.9 432.3,308.9 433.4,308.9 434.5,308.9 435.6,308.9 436.6,308.9 437.7,308.9 438.8,308.9 439.9,308.9 441.0,308.9 442.1,308.9 443.1,308.9 444.2,308.9 445.3,308.9 446.4,308.9 447.5,308.9 448.6,308.9 449.6,308.9 450.7,308.9 451.8,308.9 452.9,308.9 454.0,308.9 455.0,308.9 456.1,308.9 457.2,308.9 458.3,308.9 459.4,308.9 460.5,308.9 461.5,308.9 462.6,308.9 463.7,308.9 464.8,308.9 465.9,308.9 467.0,308.9 468.0,308.9 469.1,308.9 470.2,308.9 471.3,308.9 472.4,308.9 473.5,308.9 474.5,308.9 475.6,308.9 476.7,308.9 477.8,308.9 478.9,308.9 479.9,308.9 481.0,308.9 482.1,308.9 483.2,308.9 484.3,308.9 485.4,308.9 486.4,308.9 487.5,308.9 488.6,308.9 489.7,308.9 490.8,308.9 491.9,308.9 492.9,308.9 494.0,308.9 495.1,308.9 496.2,308.9 497.3,308.9 498.3,308.9 499.4,308.9 500.5,308.9 501.6,308.9 502.7,308.9 503.8,308.9 504.8,308.9 505.9,308.9 507.0,308.9 508.1,308.9 509.2,308.9 510.3,308.9 511.3,308.9 512.4,308.9 513.5,308.9" stroke="#dc2030" stroke-width="0.95" fill="none" stroke-linejoin="round"/>
<path d="M334.3,436.0 334.4,436.0 334.5,436.0 334.6,436.0 334.7,436.0 334.8,434.7 334.8,432.2 334.9,429.8 335.0,427.3 335.1,424.9 335.2,422.4 335.3,419.9 335.4,417.5 335.5,415.0 335.6,412.5 335.7,410.1 335.7,407.6 335.8,405.1 335.9,402.7 336.0,400.2 336.1,397.7 336.2,395.3 336.3,392.8 336.4,390.3 336.5,387.9 336.6,385.4 336.6,383.0 336.7,380.5 336.8,378.0 336.9,375.6 337.0,373.1 337.1,370.7 337.2,368.3 337.3,365.9 337.4,363.4 337.5,361.0 337.5,358.7 337.6,356.3 337.7,354.0 337.8,351.7 337.9,349.4 338.0,347.1 338.1,345.0 338.2,342.8 338.3,340.7 338.4,338.7 338.4,336.7 338.5,334.8 338.6,333.0 338.7,331.3 338.8,329.6 338.9,328.1 339.0,326.6 339.1,325.2 339.2,323.9 339.3,322.7 339.3,321.6 339.4,320.6 339.5,319.7 339.6,318.8 339.7,318.0 339.8,317.3 339.9,316.7 340.0,316.1 340.1,315.5 340.2,315.0 340.2,314.6 340.3,314.2 340.4,313.9 340.5,313.5 340.6,313.2 340.7,313.0 340.8,312.8 340.9,312.5 341.0,312.4 341.1,312.2 341.1,312.0 341.2,311.9 341.3,311.8 341.4,311.6 341.5,311.5 341.6,311.4 341.7,311.4 341.8,311.3 341.9,311.2 342.0,311.2 342.0,311.1 342.1,311.0 342.2,311.0 342.3,311.0 342.4,310.9 342.5,310.9 342.6,310.8 342.7,310.8 342.8,310.8 342.9,310.8 342.9,310.7 343.0,310.7 343.1,310.7 343.2,310.7 343.3,310.7 343.4,310.6 343.5,310.6 343.6,310.6 343.7,310.6 343.8,310.6 343.8,310.6 343.9,310.6 344.0,310.6 344.1,310.6 344.2,310.6 344.3,310.5 344.4,310.5 344.5,310.5 344.6,310.5 344.7,310.5 344.7,310.5 344.8,310.5 344.9,310.5 345.0,310.5 345.1,310.5 345.2,310.5 345.3,310.5 345.4,310.5 345.5,310.5 345.6,310.5 345.6,310.5 345.7,310.5 345.8,310.5 345.9,310.5 346.0,310.5 346.1,310.5 346.2,310.5 346.3,310.5 346.4,310.5 346.5,310.5 346.5,310.5 346.6,310.5 346.7,310.5 346.8,310.5 346.9,310.5 347.0,310.5 347.1,310.5 347.2,310.5 347.3,310.5 347.4,310.5 347.4,310.5 347.5,310.5 347.6,310.5 347.7,310.5 347.8,310.5 347.9,310.5 348.0,310.5 348.1,310.5 348.2,310.5 348.3,310.5 348.3,310.5 348.4,310.5 348.5,310.5 348.6,310.5 348.7,310.5 348.8,310.5 348.9,310.5 349.0,310.5 349.1,310.5 349.2,310.5 349.2,310.4 349.3,310.4 349.4,310.4 349.5,310.4 349.6,310.4 349.7,310.4 349.8,310.4 349.9,310.4 350.0,310.4 350.1,310.4 350.1,310.4 350.2,310.4 350.3,310.4 350.4,310.4 350.5,310.4 350.6,310.4 350.7,310.4 350.8,310.4 350.9,310.4 351.0,310.4 351.0,310.4 351.1,310.4 351.2,310.4 351.3,310.4 351.4,310.4 351.5,310.4 351.6,310.4 351.7,310.4 351.8,310.4 351.9,310.4 351.9,310.4 352.0,310.4 352.1,310.4 352.2,310.4 353.3,310.4 354.4,310.4 355.5,310.4 356.5,310.4 357.6,310.4 358.7,310.4 359.8,310.4 360.9,310.4 362.0,310.4 363.0,310.4 364.1,310.4 365.2,310.4 366.3,310.4 367.4,310.4 368.5,310.4 369.5,310.4 370.6,310.4 371.7,310.4 372.8,310.4 373.9,310.4 375.0,310.4 376.0,310.4 377.1,310.4 378.2,310.4 379.3,310.4 380.4,310.4 381.4,310.4 382.5,310.4 383.6,310.4 384.7,310.4 385.8,310.4 386.9,310.4 387.9,310.4 389.0,310.4 390.1,310.4 391.2,310.4 392.3,310.4 393.4,310.4 394.4,310.4 395.5,310.4 396.6,310.4 397.7,310.4 398.8,310.4 399.8,310.4 400.9,310.4 402.0,310.4 403.1,310.4 404.2,310.4 405.3,310.4 406.3,310.4 407.4,310.4 408.5,310.4 409.6,310.4 410.7,310.4 411.8,310.4 412.8,310.4 413.9,310.4 415.0,310.4 416.1,310.4 417.2,310.4 418.2,310.4 419.3,310.4 420.4,310.4 421.5,310.4 422.6,310.4 423.7,310.4 424.7,310.4 425.8,310.4 426.9,310.4 428.0,310.4 429.1,310.4 430.2,310.4 431.2,310.4 432.3,310.4 433.4,310.4 434.5,310.4 435.6,310.4 436.6,310.4 437.7,310.4 438.8,310.4 439.9,310.4 441.0,310.4 442.1,310.4 443.1,310.4 444.2,310.4 445.3,310.4 446.4,310.4 447.5,310.4 448.6,310.4 449.6,310.4 450.7,310.4 451.8,310.4 452.9,310.4 454.0,310.4 455.0,310.4 456.1,310.4 457.2,310.4 458.3,310.4 459.4,310.4 460.5,310.4 461.5,310.4 462.6,310.4 463.7,310.4 464.8,310.4 465.9,310.4 467.0,310.4 468.0,310.4 469.1,310.4 470.2,310.4 471.3,310.4 472.4,310.4 473.5,310.4 474.5,310.4 475.6,310.4 476.7,310.4 477.8,310.4 478.9,310.4 479.9,310.4 481.0,310.4 482.1,310.4 483.2,310.4 484.3,310.4 485.4,310.4 486.4,310.4 487.5,310.4 488.6,310.4 489.7,310.4 490.8,310.4 491.9,310.4 492.9,310.4 494.0,310.4 495.1,310.4 496.2,310.4 497.3,310.4 498.3,310.4 499.4,310.4 500.5,310.4 501.6,310.4 502.7,310.4 503.8,310.4 504.8,310.4 505.9,310.4 507.0,310.4 508.1,310.4 509.2,310.4 510.3,310.4 511.3,310.4 512.4,310.4 513.5,310.4" stroke="#dc2030" stroke-width="0.95" fill="none" stroke-linejoin="round"/>
<path d="M334.3,436.0 334.4,436.0 334.5,436.0 334.6,436.0 334.7,436.0 334.8,436.0 334.8,434.7 334.9,432.3 335.0,429.9 335.1,427.5 335.2,425.1 335.3,422.7 335.4,420.3 335.5,417.9 335.6,415.5 335.7,413.1 335.7,410.7 335.8,408.3 335.9,405.9 336.0,403.6 336.1,401.2 336.2,398.8 336.3,396.4 336.4,394.0 336.5,391.6 336.6,389.2 336.6,386.8 336.7,384.4 336.8,382.0 336.9,379.6 337.0,377.2 337.1,374.8 337.2,372.5 337.3,370.1 337.4,367.7 337.5,365.4 337.5,363.0 337.6,360.7 337.7,358.4 337.8,356.1 337.9,353.9 338.0,351.6 338.1,349.5 338.2,347.3 338.3,345.2 338.4,343.1 338.4,341.1 338.5,339.2 338.6,337.3 338.7,335.5 338.8,333.8 338.9,332.2 339.0,330.6 339.1,329.1 339.2,327.7 339.3,326.4 339.3,325.2 339.4,324.1 339.5,323.1 339.6,322.1 339.7,321.2 339.8,320.4 339.9,319.7 340.0,319.0 340.1,318.4 340.2,317.8 340.2,317.3 340.3,316.9 340.4,316.5 340.5,316.1 340.6,315.8 340.7,315.5 340.8,315.2 340.9,315.0 341.0,314.7 341.1,314.5 341.1,314.3 341.2,314.2 341.3,314.0 341.4,313.9 341.5,313.8 341.6,313.7 341.7,313.6 341.8,313.5 341.9,313.4 342.0,313.3 342.0,313.3 342.1,313.2 342.2,313.2 342.3,313.1 342.4,313.1 342.5,313.0 342.6,313.0 342.7,312.9 342.8,312.9 342.9,312.9 342.9,312.9 343.0,312.8 343.1,312.8 343.2,312.8 343.3,312.8 343.4,312.7 343.5,312.7 343.6,312.7 343.7,312.7 343.8,312.7 343.8,312.7 343.9,312.7 344.0,312.7 344.1,312.6 344.2,312.6 344.3,312.6 344.4,312.6 344.5,312.6 344.6,312.6 344.7,312.6 344.7,312.6 344.8,312.6 344.9,312.6 345.0,312.6 345.1,312.6 345.2,312.6 345.3,312.6 345.4,312.6 345.5,312.6 345.6,312.6 345.6,312.6 345.7,312.6 345.8,312.6 345.9,312.6 346.0,312.6 346.1,312.6 346.2,312.5 346.3,312.5 346.4,312.5 346.5,312.5 346.5,312.5 346.6,312.5 346.7,312.5 346.8,312.5 346.9,312.5 347.0,312.5 347.1,312.5 347.2,312.5 347.3,312.5 347.4,312.5 347.4,312.5 347.5,312.5 347.6,312.5 347.7,312.5 347.8,312.5 347.9,312.5 348.0,312.5 348.1,312.5 348.2,312.5 348.3,312.5 348.3,312.5 348.4,312.5 348.5,312.5 348.6,312.5 348.7,312.5 348.8,312.5 348.9,312.5 349.0,312.5 349.1,312.5 349.2,312.5 349.2,312.5 349.3,312.5 349.4,312.5 349.5,312.5 349.6,312.5 349.7,312.5 349.8,312.5 349.9,312.5 350.0,312.5 350.1,312.5 350.1,312.5 350.2,312.5 350.3,312.5 350.4,312.5 350.5,312.5 350.6,312.5 350.7,312.5 350.8,312.5 350.9,312.5 351.0,312.5 351.0,312.5 351.1,312.5 351.2,312.5 351.3,312.5 351.4,312.5 351.5,312.5 351.6,312.5 351.7,312.5 351.8,312.5 351.9,312.5 351.9,312.5 352.0,312.5 352.1,312.5 352.2,312.5 353.3,312.5 354.4,312.5 355.5,312.5 356.5,312.5 357.6,312.5 358.7,312.5 359.8,312.5 360.9,312.5 362.0,312.5 363.0,312.5 364.1,312.5 365.2,312.5 366.3,312.5 367.4,312.5 368.5,312.5 369.5,312.5 370.6,312.5 371.7,312.5 372.8,312.5 373.9,312.5 375.0,312.5 376.0,312.5 377.1,312.5 378.2,312.5 379.3,312.5 380.4,312.5 381.4,312.5 382.5,312.5 383.6,312.5 384.7,312.5 385.8,312.5 386.9,312.5 387.9,312.5 389.0,312.5 390.1,312.5 391.2,312.5 392.3,312.5 393.4,312.5 394.4,312.5 395.5,312.5 396.6,312.5 397.7,312.5 398.8,312.5 399.8,312.5 400.9,312.5 402.0,312.5 403.1,312.5 404.2,312.5 405.3,312.5 406.3,312.5 407.4,312.5 408.5,312.5 409.6,312.5 410.7,312.5 411.8,312.5 412.8,312.5 413.9,312.5 415.0,312.5 416.1,312.5 417.2,312.5 418.2,312.5 419.3,312.5 420.4,312.5 421.5,312.5 422.6,312.5 423.7,312.5 424.7,312.5 425.8,312.5 426.9,312.5 428.0,312.5 429.1,312.5 430.2,312.5 431.2,312.5 432.3,312.5 433.4,312.5 434.5,312.5 435.6,312.5 436.6,312.5 437.7,312.5 438.8,312.5 439.9,312.5 441.0,312.5 442.1,312.5 443.1,312.5 444.2,312.5 445.3,312.5 446.4,312.5 447.5,312.5 448.6,312.5 449.6,312.5 450.7,312.5 451.8,312.5 452.9,312.5 454.0,312.5 455.0,312.5 456.1,312.5 457.2,312.5 458.3,312.5 459.4,312.5 460.5,312.5 461.5,312.5 462.6,312.5 463.7,312.5 464.8,312.5 465.9,312.5 467.0,312.5 468.0,312.5 469.1,312.5 470.2,312.5 471.3,312.5 472.4,312.5 473.5,312.5 474.5,312.5 475.6,312.5 476.7,312.5 477.8,312.5 478.9,312.5 479.9,312.5 481.0,312.5 482.1,312.5 483.2,312.5 484.3,312.5 485.4,312.5 486.4,312.5 487.5,312.5 488.6,312.5 489.7,312.5 490.8,312.5 491.9,312.5 492.9,312.5 494.0,312.5 495.1,312.5 496.2,312.5 497.3,312.5 498.3,312.5 499.4,312.5 500.5,312.5 501.6,312.5 502.7,312.5 503.8,312.5 504.8,312.5 505.9,312.5 507.0,312.5 508.1,312.5 509.2,312.5 510.3,312.5 511.3,312.5 512.4,312.5 513.5,312.5" stroke="#dc2030" stroke-width="0.95" fill="none" stroke-linejoin="round"/>
<path d="M334.3,436.0 334.4,436.0 334.5,436.0 334.6,436.0 334.7,436.0 334.8,436.0 334.8,436.0 334.9,434.8 335.0,432.4 335.1,430.1 335.2,427.8 335.3,425.4 335.4,423.1 335.5,420.8 335.6,418.4 335.7,416.1 335.7,413.8 335.8,411.4 335.9,409.1 336.0,406.8 336.1,404.4 336.2,402.1 336.3,399.8 336.4,397.4 336.5,395.1 336.6,392.8 336.6,390.5 336.7,388.1 336.8,385.8 336.9,383.5 337.0,381.1 337.1,378.8 337.2,376.5 337.3,374.2 337.4,371.9 337.5,369.6 337.5,367.3 337.6,365.0 337.7,362.8 337.8,360.5 337.9,358.3 338.0,356.1 338.1,354.0 338.2,351.8 338.3,349.7 338.4,347.7 338.4,345.6 338.5,343.7 338.6,341.8 338.7,340.0 338.8,338.2 338.9,336.5 339.0,334.9 339.1,333.3 339.2,331.9 339.3,330.5 339.3,329.2 339.4,328.0 339.5,326.9 339.6,325.9 339.7,324.9 339.8,324.1 339.9,323.3 340.0,322.5 340.1,321.9 340.2,321.2 340.2,320.7 340.3,320.2 340.4,319.7 340.5,319.3 340.6,319.0 340.7,318.6 340.8,318.3 340.9,318.0 341.0,317.8 341.1,317.6 341.1,317.4 341.2,317.2 341.3,317.0 341.4,316.9 341.5,316.7 341.6,316.6 341.7,316.5 341.8,316.4 341.9,316.3 342.0,316.2 342.0,316.2 342.1,316.1 342.2,316.0 342.3,316.0 342.4,315.9 342.5,315.9 342.6,315.8 342.7,315.8 342.8,315.8 342.9,315.7 342.9,315.7 343.0,315.7 343.1,315.6 343.2,315.6 343.3,315.6 343.4,315.6 343.5,315.6 343.6,315.6 343.7,315.5 343.8,315.5 343.8,315.5 343.9,315.5 344.0,315.5 344.1,315.5 344.2,315.5 344.3,315.5 344.4,315.5 344.5,315.4 344.6,315.4 344.7,315.4 344.7,315.4 344.8,315.4 344.9,315.4 345.0,315.4 345.1,315.4 345.2,315.4 345.3,315.4 345.4,315.4 345.5,315.4 345.6,315.4 345.6,315.4 345.7,315.4 345.8,315.4 345.9,315.4 346.0,315.4 346.1,315.4 346.2,315.4 346.3,315.4 346.4,315.4 346.5,315.4 346.5,315.4 346.6,315.4 346.7,315.4 346.8,315.4 346.9,315.4 347.0,315.4 347.1,315.4 347.2,315.4 347.3,315.4 347.4,315.4 347.4,315.4 347.5,315.3 347.6,315.3 347.7,315.3 347.8,315.3 347.9,315.3 348.0,315.3 348.1,315.3 348.2,315.3 348.3,315.3 348.3,315.3 348.4,315.3 348.5,315.3 348.6,315.3 348.7,315.3 348.8,315.3 348.9,315.3 349.0,315.3 349.1,315.3 349.2,315.3 349.2,315.3 349.3,315.3 349.4,315.3 349.5,315.3 349.6,315.3 349.7,315.3 349.8,315.3 349.9,315.3 350.0,315.3 350.1,315.3 350.1,315.3 350.2,315.3 350.3,315.3 350.4,315.3 350.5,315.3 350.6,315.3 350.7,315.3 350.8,315.3 350.9,315.3 351.0,315.3 351.0,315.3 351.1,315.3 351.2,315.3 351.3,315.3 351.4,315.3 351.5,315.3 351.6,315.3 351.7,315.3 351.8,315.3 351.9,315.3 351.9,315.3 352.0,315.3 352.1,315.3 352.2,315.3 353.3,315.3 354.4,315.3 355.5,315.3 356.5,315.3 357.6,315.3 358.7,315.3 359.8,315.3 360.9,315.3 362.0,315.3 363.0,315.3 364.1,315.3 365.2,315.3 366.3,315.3 367.4,315.3 368.5,315.3 369.5,315.3 370.6,315.3 371.7,315.3 372.8,315.3 373.9,315.3 375.0,315.3 376.0,315.3 377.1,315.3 378.2,315.3 379.3,315.3 380.4,315.3 381.4,315.3 382.5,315.3 383.6,315.3 384.7,315.3 385.8,315.3 386.9,315.3 387.9,315.3 389.0,315.3 390.1,315.3 391.2,315.3 392.3,315.3 393.4,315.3 394.4,315.3 395.5,315.3 396.6,315.3 397.7,315.3 398.8,315.3 399.8,315.3 400.9,315.3 402.0,315.3 403.1,315.3 404.2,315.3 405.3,315.3 406.3,315.3 407.4,315.3 408.5,315.3 409.6,315.3 410.7,315.3 411.8,315.3 412.8,315.3 413.9,315.3 415.0,315.3 416.1,315.3 417.2,315.3 418.2,315.3 419.3,315.3 420.4,315.3 421.5,315.3 422.6,315.3 423.7,315.3 424.7,315.3 425.8,315.3 426.9,315.3 428.0,315.3 429.1,315.3 430.2,315.3 431.2,315.3 432.3,315.3 433.4,315.3 434.5,315.3 435.6,315.3 436.6,315.3 437.7,315.3 438.8,315.3 439.9,315.3 441.0,315.3 442.1,315.3 443.1,315.3 444.2,315.3 445.3,315.3 446.4,315.3 447.5,315.3 448.6,315.3 449.6,315.3 450.7,315.3 451.8,315.3 452.9,315.3 454.0,315.3 455.0,315.3 456.1,315.3 457.2,315.3 458.3,315.3 459.4,315.3 460.5,315.3 461.5,315.3 462.6,315.3 463.7,315.3 464.8,315.3 465.9,315.3 467.0,315.3 468.0,315.3 469.1,315.3 470.2,315.3 471.3,315.3 472.4,315.3 473.5,315.3 474.5,315.3 475.6,315.3 476.7,315.3 477.8,315.3 478.9,315.3 479.9,315.3 481.0,315.3 482.1,315.3 483.2,315.3 484.3,315.3 485.4,315.3 486.4,315.3 487.5,315.3 488.6,315.3 489.7,315.3 490.8,315.3 491.9,315.3 492.9,315.3 494.0,315.3 495.1,315.3 496.2,315.3 497.3,315.3 498.3,315.3 499.4,315.3 500.5,315.3 501.6,315.3 502.7,315.3 503.8,315.3 504.8,315.3 505.9,315.3 507.0,315.3 508.1,315.3 509.2,315.3 510.3,315.3 511.3,315.3 512.4,315.3 513.5,315.3" stroke="#dc2030" stroke-width="0.95" fill="none" stroke-linejoin="round"/>
<path d="M334.3,436.0 334.4,436.0 334.5,436.0 334.6,436.0 334.7,436.0 334.8,436.0 334.8,436.0 334.9,436.0 335.0,434.8 335.1,432.5 335.2,430.3 335.3,428.0 335.4,425.7 335.5,423.5 335.6,421.2 335.7,418.9 335.7,416.7 335.8,414.4 335.9,412.1 336.0,409.9 336.1,407.6 336.2,405.3 336.3,403.1 336.4,400.8 336.5,398.5 336.6,396.3 336.6,394.0 336.7,391.7 336.8,389.5 336.9,387.2 337.0,385.0 337.1,382.7 337.2,380.5 337.3,378.2 337.4,376.0 337.5,373.7 337.5,371.5 337.6,369.3 337.7,367.1 337.8,364.9 337.9,362.7 338.0,360.5 338.1,358.4 338.2,356.3 338.3,354.2 338.4,352.2 338.4,350.2 338.5,348.3 338.6,346.4 338.7,344.6 338.8,342.8 338.9,341.1 339.0,339.5 339.1,337.9 339.2,336.4 339.3,335.0 339.3,333.7 339.4,332.5 339.5,331.3 339.6,330.3 339.7,329.3 339.8,328.4 339.9,327.6 340.0,326.8 340.1,326.1 340.2,325.5 340.2,324.9 340.3,324.4 340.4,323.9 340.5,323.5 340.6,323.1 340.7,322.7 340.8,322.4 340.9,322.1 341.0,321.9 341.1,321.6 341.1,321.4 341.2,321.2 341.3,321.0 341.4,320.9 341.5,320.8 341.6,320.6 341.7,320.5 341.8,320.4 341.9,320.3 342.0,320.2 342.0,320.2 342.1,320.1 342.2,320.0 342.3,320.0 342.4,319.9 342.5,319.9 342.6,319.8 342.7,319.8 342.8,319.7 342.9,319.7 342.9,319.7 343.0,319.7 343.1,319.6 343.2,319.6 343.3,319.6 343.4,319.6 343.5,319.5 343.6,319.5 343.7,319.5 343.8,319.5 343.8,319.5 343.9,319.5 344.0,319.5 344.1,319.5 344.2,319.4 344.3,319.4 344.4,319.4 344.5,319.4 344.6,319.4 344.7,319.4 344.7,319.4 344.8,319.4 344.9,319.4 345.0,319.4 345.1,319.4 345.2,319.4 345.3,319.4 345.4,319.4 345.5,319.4 345.6,319.4 345.6,319.4 345.7,319.4 345.8,319.4 345.9,319.4 346.0,319.4 346.1,319.3 346.2,319.3 346.3,319.3 346.4,319.3 346.5,319.3 346.5,319.3 346.6,319.3 346.7,319.3 346.8,319.3 346.9,319.3 347.0,319.3 347.1,319.3 347.2,319.3 347.3,319.3 347.4,319.3 347.4,319.3 347.5,319.3 347.6,319.3 347.7,319.3 347.8,319.3 347.9,319.3 348.0,319.3 348.1,319.3 348.2,319.3 348.3,319.3 348.3,319.3 348.4,319.3 348.5,319.3 348.6,319.3 348.7,319.3 348.8,319.3 348.9,319.3 349.0,319.3 349.1,319.3 349.2,319.3 349.2,319.3 349.3,319.3 349.4,319.3 349.5,319.3 349.6,319.3 349.7,319.3 349.8,319.3 349.9,319.3 350.0,319.3 350.1,319.3 350.1,319.3 350.2,319.3 350.3,319.3 350.4,319.3 350.5,319.3 350.6,319.3 350.7,319.3 350.8,319.3 350.9,319.3 351.0,319.3 351.0,319.3 351.1,319.3 351.2,319.3 351.3,319.3 351.4,319.3 351.5,319.3 351.6,319.3 351.7,319.3 351.8,319.3 351.9,319.3 351.9,319.3 352.0,319.3 352.1,319.3 352.2,319.3 353.3,319.3 354.4,319.3 355.5,319.3 356.5,319.3 357.6,319.3 358.7,319.3 359.8,319.3 360.9,319.3 362.0,319.3 363.0,319.3 364.1,319.3 365.2,319.3 366.3,319.3 367.4,319.3 368.5,319.3 369.5,319.3 370.6,319.3 371.7,319.3 372.8,319.3 373.9,319.3 375.0,319.3 376.0,319.3 377.1,319.3 378.2,319.3 379.3,319.3 380.4,319.3 381.4,319.3 382.5,319.3 383.6,319.3 384.7,319.3 385.8,319.3 386.9,319.3 387.9,319.3 389.0,319.3 390.1,319.3 391.2,319.3 392.3,319.3 393.4,319.3 394.4,319.3 395.5,319.3 396.6,319.3 397.7,319.3 398.8,319.3 399.8,319.3 400.9,319.3 402.0,319.3 403.1,319.3 404.2,319.3 405.3,319.3 406.3,319.3 407.4,319.3 408.5,319.3 409.6,319.3 410.7,319.3 411.8,319.3 412.8,319.3 413.9,319.3 415.0,319.3 416.1,319.3 417.2,319.3 418.2,319.3 419.3,319.3 420.4,319.3 421.5,319.3 422.6,319.3 423.7,319.3 424.7,319.3 425.8,319.3 426.9,319.3 428.0,319.3 429.1,319.3 430.2,319.3 431.2,319.3 432.3,319.3 433.4,319.3 434.5,319.3 435.6,319.3 436.6,319.3 437.7,319.3 438.8,319.3 439.9,319.3 441.0,319.3 442.1,319.3 443.1,319.3 444.2,319.3 445.3,319.3 446.4,319.3 447.5,319.3 448.6,319.3 449.6,319.3 450.7,319.3 451.8,319.3 452.9,319.3 454.0,319.3 455.0,319.3 456.1,319.3 457.2,319.3 458.3,319.3 459.4,319.3 460.5,319.3 461.5,319.3 462.6,319.3 463.7,319.3 464.8,319.3 465.9,319.3 467.0,319.3 468.0,319.3 469.1,319.3 470.2,319.3 471.3,319.3 472.4,319.3 473.5,319.3 474.5,319.3 475.6,319.3 476.7,319.3 477.8,319.3 478.9,319.3 479.9,319.3 481.0,319.3 482.1,319.3 483.2,319.3 484.3,319.3 485.4,319.3 486.4,319.3 487.5,319.3 488.6,319.3 489.7,319.3 490.8,319.3 491.9,319.3 492.9,319.3 494.0,319.3 495.1,319.3 496.2,319.3 497.3,319.3 498.3,319.3 499.4,319.3 500.5,319.3 501.6,319.3 502.7,319.3 503.8,319.3 504.8,319.3 505.9,319.3 507.0,319.3 508.1,319.3 509.2,319.3 510.3,319.3 511.3,319.3 512.4,319.3 513.5,319.3" stroke="#dc2030" stroke-width="0.95" fill="none" stroke-linejoin="round"/>
<path d="M334.3,436.0 334.4,436.0 334.5,436.0 334.6,436.0 334.7,436.0 334.8,436.0 334.8,436.0 334.9,436.0 335.0,436.0 335.1,434.8 335.2,432.6 335.3,430.4 335.4,428.2 335.5,426.0 335.6,423.8 335.7,421.6 335.7,419.4 335.8,417.2 335.9,415.0 336.0,412.8 336.1,410.6 336.2,408.4 336.3,406.2 336.4,404.0 336.5,401.8 336.6,399.6 336.6,397.4 336.7,395.2 336.8,393.0 336.9,390.8 337.0,388.6 337.1,386.5 337.2,384.3 337.3,382.1 337.4,379.9 337.5,377.7 337.5,375.6 337.6,373.4 337.7,371.2 337.8,369.1 337.9,367.0 338.0,364.9 338.1,362.8 338.2,360.7 338.3,358.7 338.4,356.7 338.4,354.8 338.5,352.9 338.6,351.0 338.7,349.2 338.8,347.4 338.9,345.8 339.0,344.2 339.1,342.6 339.2,341.2 339.3,339.8 339.3,338.5 339.4,337.2 339.5,336.1 339.6,335.0 339.7,334.1 339.8,333.2 339.9,332.3 340.0,331.6 340.1,330.9 340.2,330.2 340.2,329.7 340.3,329.1 340.4,328.7 340.5,328.2 340.6,327.9 340.7,327.5 340.8,327.2 340.9,326.9 341.0,326.7 341.1,326.4 341.1,326.2 341.2,326.0 341.3,325.9 341.4,325.7 341.5,325.6 341.6,325.5 341.7,325.4 341.8,325.3 341.9,325.2 342.0,325.1 342.0,325.0 342.1,324.9 342.2,324.9 342.3,324.8 342.4,324.8 342.5,324.7 342.6,324.7 342.7,324.6 342.8,324.6 342.9,324.6 342.9,324.6 343.0,324.5 343.1,324.5 343.2,324.5 343.3,324.5 343.4,324.4 343.5,324.4 343.6,324.4 343.7,324.4 343.8,324.4 343.8,324.4 343.9,324.4 344.0,324.3 344.1,324.3 344.2,324.3 344.3,324.3 344.4,324.3 344.5,324.3 344.6,324.3 344.7,324.3 344.7,324.3 344.8,324.3 344.9,324.3 345.0,324.3 345.1,324.3 345.2,324.3 345.3,324.3 345.4,324.3 345.5,324.3 345.6,324.2 345.6,324.2 345.7,324.2 345.8,324.2 345.9,324.2 346.0,324.2 346.1,324.2 346.2,324.2 346.3,324.2 346.4,324.2 346.5,324.2 346.5,324.2 346.6,324.2 346.7,324.2 346.8,324.2 346.9,324.2 347.0,324.2 347.1,324.2 347.2,324.2 347.3,324.2 347.4,324.2 347.4,324.2 347.5,324.2 347.6,324.2 347.7,324.2 347.8,324.2 347.9,324.2 348.0,324.2 348.1,324.2 348.2,324.2 348.3,324.2 348.3,324.2 348.4,324.2 348.5,324.2 348.6,324.2 348.7,324.2 348.8,324.2 348.9,324.2 349.0,324.2 349.1,324.2 349.2,324.2 349.2,324.2 349.3,324.2 349.4,324.2 349.5,324.2 349.6,324.2 349.7,324.2 349.8,324.2 349.9,324.2 350.0,324.2 350.1,324.2 350.1,324.2 350.2,324.2 350.3,324.2 350.4,324.2 350.5,324.2 350.6,324.2 350.7,324.2 350.8,324.2 350.9,324.2 351.0,324.2 351.0,324.2 351.1,324.2 351.2,324.2 351.3,324.2 351.4,324.2 351.5,324.2 351.6,324.2 351.7,324.2 351.8,324.2 351.9,324.2 351.9,324.2 352.0,324.2 352.1,324.2 352.2,324.2 353.3,324.2 354.4,324.2 355.5,324.2 356.5,324.2 357.6,324.2 358.7,324.2 359.8,324.2 360.9,324.2 362.0,324.2 363.0,324.2 364.1,324.2 365.2,324.2 366.3,324.2 367.4,324.2 368.5,324.2 369.5,324.2 370.6,324.2 371.7,324.2 372.8,324.2 373.9,324.2 375.0,324.2 376.0,324.2 377.1,324.2 378.2,324.2 379.3,324.2 380.4,324.2 381.4,324.2 382.5,324.2 383.6,324.2 384.7,324.2 385.8,324.2 386.9,324.2 387.9,324.2 389.0,324.2 390.1,324.2 391.2,324.2 392.3,324.2 393.4,324.2 394.4,324.2 395.5,324.2 396.6,324.2 397.7,324.2 398.8,324.2 399.8,324.2 400.9,324.2 402.0,324.2 403.1,324.2 404.2,324.2 405.3,324.2 406.3,324.2 407.4,324.2 408.5,324.2 409.6,324.2 410.7,324.2 411.8,324.2 412.8,324.2 413.9,324.2 415.0,324.2 416.1,324.2 417.2,324.2 418.2,324.2 419.3,324.2 420.4,324.2 421.5,324.2 422.6,324.2 423.7,324.2 424.7,324.2 425.8,324.2 426.9,324.2 428.0,324.2 429.1,324.2 430.2,324.2 431.2,324.2 432.3,324.2 433.4,324.2 434.5,324.2 435.6,324.2 436.6,324.2 437.7,324.2 438.8,324.2 439.9,324.2 441.0,324.2 442.1,324.2 443.1,324.2 444.2,324.2 445.3,324.2 446.4,324.2 447.5,324.2 448.6,324.2 449.6,324.2 450.7,324.2 451.8,324.2 452.9,324.2 454.0,324.2 455.0,324.2 456.1,324.2 457.2,324.2 458.3,324.2 459.4,324.2 460.5,324.2 461.5,324.2 462.6,324.2 463.7,324.2 464.8,324.2 465.9,324.2 467.0,324.2 468.0,324.2 469.1,324.2 470.2,324.2 471.3,324.2 472.4,324.2 473.5,324.2 474.5,324.2 475.6,324.2 476.7,324.2 477.8,324.2 478.9,324.2 479.9,324.2 481.0,324.2 482.1,324.2 483.2,324.2 484.3,324.2 485.4,324.2 486.4,324.2 487.5,324.2 488.6,324.2 489.7,324.2 490.8,324.2 491.9,324.2 492.9,324.2 494.0,324.2 495.1,324.2 496.2,324.2 497.3,324.2 498.3,324.2 499.4,324.2 500.5,324.2 501.6,324.2 502.7,324.2 503.8,324.2 504.8,324.2 505.9,324.2 507.0,324.2 508.1,324.2 509.2,324.2 510.3,324.2 511.3,324.2 512.4,324.2 513.5,324.2" stroke="#dc2030" stroke-width="0.95" fill="none" stroke-linejoin="round"/>
<rect x="36.5" y="18.5" width="180.7" height="132.7" fill="none" stroke="#3a3a3a" stroke-width="1"/>
<path d="M33.5 151.2H36.5 M35 141.72H36.5 M33.5 132.24H36.5 M35 122.76H36.5 M33.5 113.29H36.5 M35 103.81H36.5 M33.5 94.33H36.5 M35 84.85H36.5 M33.5 75.37H36.5 M35 65.89H36.5 M33.5 56.41H36.5 M35 46.94H36.5 M33.5 37.46H36.5 M35 27.98H36.5 M33.5 18.5H36.5 M36.5 151.2V148.7 M47.79 151.2V149.7 M59.09 151.2V148.7 M70.38 151.2V149.7 M81.67 151.2V148.7 M92.97 151.2V149.7 M104.26 151.2V148.7 M115.56 151.2V149.7 M126.85 151.2V148.7 M138.14 151.2V149.7 M149.44 151.2V148.7 M160.73 151.2V149.7 M172.02 151.2V148.7 M183.32 151.2V149.7 M194.61 151.2V148.7 M205.91 151.2V149.7 M217.2 151.2V148.7" stroke="#3a3a3a" stroke-width="0.9" fill="none"/>
<text x="32.5" y="153" class="tl" text-anchor="end">0</text>
<text x="32.5" y="134.04" class="tl" text-anchor="end">20</text>
<text x="32.5" y="115.09" class="tl" text-anchor="end">40</text>
<text x="32.5" y="96.13" class="tl" text-anchor="end">60</text>
<text x="32.5" y="77.17" class="tl" text-anchor="end">80</text>
<text x="32.5" y="58.21" class="tl" text-anchor="end">100</text>
<text x="32.5" y="39.26" class="tl" text-anchor="end">120</text>
<text x="32.5" y="20.3" class="tl" text-anchor="end">140</text>
<rect x="334.3" y="18.5" width="179.2" height="132.7" fill="none" stroke="#3a3a3a" stroke-width="1"/>
<path d="M331.3 151.2H334.3 M332.8 142.91H334.3 M331.3 134.61H334.3 M332.8 126.32H334.3 M331.3 118.02H334.3 M332.8 109.73H334.3 M331.3 101.44H334.3 M332.8 93.14H334.3 M331.3 84.85H334.3 M332.8 76.56H334.3 M331.3 68.26H334.3 M332.8 59.97H334.3 M331.3 51.67H334.3 M332.8 43.38H334.3 M331.3 35.09H334.3 M332.8 26.79H334.3 M331.3 18.5H334.3 M334.3 151.2V148.7 M345.5 151.2V149.7 M356.7 151.2V148.7 M367.9 151.2V149.7 M379.1 151.2V148.7 M390.3 151.2V149.7 M401.5 151.2V148.7 M412.7 151.2V149.7 M423.9 151.2V148.7 M435.1 151.2V149.7 M446.3 151.2V148.7 M457.5 151.2V149.7 M468.7 151.2V148.7 M479.9 151.2V149.7 M491.1 151.2V148.7 M502.3 151.2V149.7 M513.5 151.2V148.7" stroke="#3a3a3a" stroke-width="0.9" fill="none"/>
<text x="330.3" y="153" class="tl" text-anchor="end">0</text>
<text x="330.3" y="136.41" class="tl" text-anchor="end">20</text>
<text x="330.3" y="119.82" class="tl" text-anchor="end">40</text>
<text x="330.3" y="103.24" class="tl" text-anchor="end">60</text>
<text x="330.3" y="86.65" class="tl" text-anchor="end">80</text>
<text x="330.3" y="70.06" class="tl" text-anchor="end">100</text>
<text x="330.3" y="53.47" class="tl" text-anchor="end">120</text>
<text x="330.3" y="36.89" class="tl" text-anchor="end">140</text>
<text x="330.3" y="20.3" class="tl" text-anchor="end">160</text>
<rect x="36.5" y="160.9" width="180.7" height="132.7" fill="none" stroke="#3a3a3a" stroke-width="1"/>
<path d="M33.5 293.6H36.5 M35 284.12H36.5 M33.5 274.64H36.5 M35 265.16H36.5 M33.5 255.69H36.5 M35 246.21H36.5 M33.5 236.73H36.5 M35 227.25H36.5 M33.5 217.77H36.5 M35 208.29H36.5 M33.5 198.81H36.5 M35 189.34H36.5 M33.5 179.86H36.5 M35 170.38H36.5 M33.5 160.9H36.5 M36.5 293.6V291.1 M47.79 293.6V292.1 M59.09 293.6V291.1 M70.38 293.6V292.1 M81.67 293.6V291.1 M92.97 293.6V292.1 M104.26 293.6V291.1 M115.56 293.6V292.1 M126.85 293.6V291.1 M138.14 293.6V292.1 M149.44 293.6V291.1 M160.73 293.6V292.1 M172.02 293.6V291.1 M183.32 293.6V292.1 M194.61 293.6V291.1 M205.91 293.6V292.1 M217.2 293.6V291.1" stroke="#3a3a3a" stroke-width="0.9" fill="none"/>
<text x="32.5" y="295.4" class="tl" text-anchor="end">0</text>
<text x="32.5" y="276.44" class="tl" text-anchor="end">20</text>
<text x="32.5" y="257.49" class="tl" text-anchor="end">40</text>
<text x="32.5" y="238.53" class="tl" text-anchor="end">60</text>
<text x="32.5" y="219.57" class="tl" text-anchor="end">80</text>
<text x="32.5" y="200.61" class="tl" text-anchor="end">100</text>
<text x="32.5" y="181.66" class="tl" text-anchor="end">120</text>
<text x="32.5" y="162.7" class="tl" text-anchor="end">140</text>
<rect x="334.3" y="160.9" width="179.2" height="132.7" fill="none" stroke="#3a3a3a" stroke-width="1"/>
<path d="M331.3 293.6H334.3 M332.8 285.31H334.3 M331.3 277.01H334.3 M332.8 268.72H334.3 M331.3 260.43H334.3 M332.8 252.13H334.3 M331.3 243.84H334.3 M332.8 235.54H334.3 M331.3 227.25H334.3 M332.8 218.96H334.3 M331.3 210.66H334.3 M332.8 202.37H334.3 M331.3 194.08H334.3 M332.8 185.78H334.3 M331.3 177.49H334.3 M332.8 169.19H334.3 M331.3 160.9H334.3 M334.3 293.6V291.1 M345.5 293.6V292.1 M356.7 293.6V291.1 M367.9 293.6V292.1 M379.1 293.6V291.1 M390.3 293.6V292.1 M401.5 293.6V291.1 M412.7 293.6V292.1 M423.9 293.6V291.1 M435.1 293.6V292.1 M446.3 293.6V291.1 M457.5 293.6V292.1 M468.7 293.6V291.1 M479.9 293.6V292.1 M491.1 293.6V291.1 M502.3 293.6V292.1 M513.5 293.6V291.1" stroke="#3a3a3a" stroke-width="0.9" fill="none"/>
<text x="330.3" y="295.4" class="tl" text-anchor="end">0</text>
<text x="330.3" y="278.81" class="tl" text-anchor="end">20</text>
<text x="330.3" y="262.23" class="tl" text-anchor="end">40</text>
<text x="330.3" y="245.64" class="tl" text-anchor="end">60</text>
<text x="330.3" y="229.05" class="tl" text-anchor="end">80</text>
<text x="330.3" y="212.46" class="tl" text-anchor="end">100</text>
<text x="330.3" y="195.88" class="tl" text-anchor="end">120</text>
<text x="330.3" y="179.29" class="tl" text-anchor="end">140</text>
<text x="330.3" y="162.7" class="tl" text-anchor="end">160</text>
<rect x="36.5" y="303.4" width="180.7" height="132.6" fill="none" stroke="#3a3a3a" stroke-width="1"/>
<path d="M33.5 436H36.5 M35 426.53H36.5 M33.5 417.06H36.5 M35 407.59H36.5 M33.5 398.11H36.5 M35 388.64H36.5 M33.5 379.17H36.5 M35 369.7H36.5 M33.5 360.23H36.5 M35 350.76H36.5 M33.5 341.29H36.5 M35 331.81H36.5 M33.5 322.34H36.5 M35 312.87H36.5 M33.5 303.4H36.5 M36.5 436V438.5 M47.79 436V437.5 M59.09 436V438.5 M70.38 436V437.5 M81.67 436V438.5 M92.97 436V437.5 M104.26 436V438.5 M115.56 436V437.5 M126.85 436V438.5 M138.14 436V437.5 M149.44 436V438.5 M160.73 436V437.5 M172.02 436V438.5 M183.32 436V437.5 M194.61 436V438.5 M205.91 436V437.5 M217.2 436V438.5" stroke="#3a3a3a" stroke-width="0.9" fill="none"/>
<text x="32.5" y="437.8" class="tl" text-anchor="end">0</text>
<text x="32.5" y="418.86" class="tl" text-anchor="end">20</text>
<text x="32.5" y="399.91" class="tl" text-anchor="end">40</text>
<text x="32.5" y="380.97" class="tl" text-anchor="end">60</text>
<text x="32.5" y="362.03" class="tl" text-anchor="end">80</text>
<text x="32.5" y="343.09" class="tl" text-anchor="end">100</text>
<text x="32.5" y="324.14" class="tl" text-anchor="end">120</text>
<text x="32.5" y="305.2" class="tl" text-anchor="end">140</text>
<text x="36.5" y="446.5" class="tl" text-anchor="middle">0.0</text>
<text x="59.09" y="446.5" class="tl" text-anchor="middle">0.5</text>
<text x="81.67" y="446.5" class="tl" text-anchor="middle">1.0</text>
<text x="104.26" y="446.5" class="tl" text-anchor="middle">1.5</text>
<text x="126.85" y="446.5" class="tl" text-anchor="middle">2.0</text>
<text x="149.44" y="446.5" class="tl" text-anchor="middle">2.5</text>
<text x="172.02" y="446.5" class="tl" text-anchor="middle">3.0</text>
<text x="194.61" y="446.5" class="tl" text-anchor="middle">3.5</text>
<text x="217.2" y="446.5" class="tl" text-anchor="middle">4.0</text>
<rect x="334.3" y="303.4" width="179.2" height="132.6" fill="none" stroke="#3a3a3a" stroke-width="1"/>
<path d="M331.3 436H334.3 M332.8 427.71H334.3 M331.3 419.43H334.3 M332.8 411.14H334.3 M331.3 402.85H334.3 M332.8 394.56H334.3 M331.3 386.27H334.3 M332.8 377.99H334.3 M331.3 369.7H334.3 M332.8 361.41H334.3 M331.3 353.12H334.3 M332.8 344.84H334.3 M331.3 336.55H334.3 M332.8 328.26H334.3 M331.3 319.97H334.3 M332.8 311.69H334.3 M331.3 303.4H334.3 M334.3 436V438.5 M345.5 436V437.5 M356.7 436V438.5 M367.9 436V437.5 M379.1 436V438.5 M390.3 436V437.5 M401.5 436V438.5 M412.7 436V437.5 M423.9 436V438.5 M435.1 436V437.5 M446.3 436V438.5 M457.5 436V437.5 M468.7 436V438.5 M479.9 436V437.5 M491.1 436V438.5 M502.3 436V437.5 M513.5 436V438.5" stroke="#3a3a3a" stroke-width="0.9" fill="none"/>
<text x="330.3" y="437.8" class="tl" text-anchor="end">0</text>
<text x="330.3" y="421.23" class="tl" text-anchor="end">20</text>
<text x="330.3" y="404.65" class="tl" text-anchor="end">40</text>
<text x="330.3" y="388.07" class="tl" text-anchor="end">60</text>
<text x="330.3" y="371.5" class="tl" text-anchor="end">80</text>
<text x="330.3" y="354.93" class="tl" text-anchor="end">100</text>
<text x="330.3" y="338.35" class="tl" text-anchor="end">120</text>
<text x="330.3" y="321.77" class="tl" text-anchor="end">140</text>
<text x="330.3" y="305.2" class="tl" text-anchor="end">160</text>
<text x="334.3" y="446.5" class="tl" text-anchor="middle">0.0</text>
<text x="356.7" y="446.5" class="tl" text-anchor="middle">0.5</text>
<text x="379.1" y="446.5" class="tl" text-anchor="middle">1.0</text>
<text x="401.5" y="446.5" class="tl" text-anchor="middle">1.5</text>
<text x="423.9" y="446.5" class="tl" text-anchor="middle">2.0</text>
<text x="446.3" y="446.5" class="tl" text-anchor="middle">2.5</text>
<text x="468.7" y="446.5" class="tl" text-anchor="middle">3.0</text>
<text x="491.1" y="446.5" class="tl" text-anchor="middle">3.5</text>
<text x="513.5" y="446.5" class="tl" text-anchor="middle">4.0</text>
<!-- legends -->
<g fill="#111" color="#111">
<text x="251.5" y="70.2" class="tk">10 K</text>
<text x="251.5" y="85" class="tk">50 K</text>
<path d="M259.7 89.3V99.5" stroke="#111" stroke-width="1.1"/>
<path d="M257 98.5L262.4 98.5L259.7 103.6Z"/>
<text x="261.6" y="95.2" class="st" textLength="33.3" lengthAdjust="spacingAndGlyphs">50 K steps</text>
<text x="251.5" y="115.4" class="tk">300 K</text>
</g>
<g fill="#2828b8" color="#2828b8">
<text x="247.2" y="189.4" class="tk">10 K</text>
<text x="247.2" y="204.5" class="tk">50 K</text>
<path d="M258.2 208.8V218.8" stroke="#2828b8" stroke-width="1.1"/>
<path d="M255.5 217.8L260.9 217.8L258.2 223Z"/>
<text x="262.3" y="215.3" class="st" textLength="33.3" lengthAdjust="spacingAndGlyphs">50 K steps</text>
<text x="247.2" y="234.7" class="tk">300 K</text>
<path d="M258.5 239V248.8" stroke="#2828b8" stroke-width="1.1"/>
<path d="M255.8 247.8L261.2 247.8L258.5 253Z"/>
<text x="225.4" y="245.2" class="st" textLength="33.3" lengthAdjust="spacingAndGlyphs">50 K steps</text>
<text x="247.2" y="264.8" class="tk">500 K</text>
</g>
<g fill="#d41f30" color="#d41f30">
<text x="248" y="342.2" class="tk">10 K</text>
<text x="248" y="356.9" class="tk">50 K</text>
<path d="M259.4 360.5V370.5" stroke="#d41f30" stroke-width="1.1"/>
<path d="M256.7 369.6L262.1 369.6L259.4 375Z"/>
<text x="263.0" y="367.0" class="st" textLength="33.3" lengthAdjust="spacingAndGlyphs">50 K steps</text>
<text x="248" y="386.8" class="tk">300 K</text>
<path d="M258.8 391.8V400.8" stroke="#d41f30" stroke-width="1.1"/>
<path d="M256.1 399.8L261.5 399.8L258.8 405.1Z"/>
<text x="225.4" y="397.8" class="st" textLength="33.3" lengthAdjust="spacingAndGlyphs">50 K steps</text>
<text x="248" y="416.5" class="tk">500 K</text>
</g>
<!-- axis labels in panels -->
<text x="174.8" y="139.9" class="ax" fill="#111" stroke="#111" textLength="29.2" lengthAdjust="spacingAndGlyphs"><tspan font-style="italic">a</tspan>-axis</text>
<text x="174.6" y="288.5" class="ax" fill="#2828b8" stroke="#2828b8" textLength="29.2" lengthAdjust="spacingAndGlyphs"><tspan font-style="italic">b</tspan>-axis</text>
<text x="175" y="428.5" class="ax" fill="#d41f30" stroke="#d41f30" textLength="28.8" lengthAdjust="spacingAndGlyphs"><tspan font-style="italic">c</tspan>-axis</text>
<text x="471.8" y="143.1" class="ax" fill="#111" stroke="#111" textLength="29.8" lengthAdjust="spacingAndGlyphs"><tspan font-style="italic">a</tspan>-axis</text>
<text x="471.4" y="284.6" class="ax" fill="#2828b8" stroke="#2828b8" textLength="29.4" lengthAdjust="spacingAndGlyphs"><tspan font-style="italic">b</tspan>-axis</text>
<text x="472.1" y="428.2" class="ax" fill="#d41f30" stroke="#d41f30" textLength="28.3" lengthAdjust="spacingAndGlyphs"><tspan font-style="italic">c</tspan>-axis</text>
<!-- y labels -->
<text transform="translate(9.5,229.3) rotate(-90)" class="yl" text-anchor="middle"><tspan font-style="italic">M</tspan> / Am<tspan font-size="4" dy="-3">2</tspan><tspan dy="3">kg</tspan><tspan font-size="4" dy="-3">-1</tspan></text>
<text transform="translate(307.4,228.6) rotate(-90)" class="yl" text-anchor="middle"><tspan font-style="italic">M</tspan> / Am<tspan font-size="4" dy="-3">2</tspan><tspan dy="3">kg</tspan><tspan font-size="4" dy="-3">-1</tspan></text>
<!-- x labels -->
<text x="116.2" y="459.2" class="yl" textLength="20.2" lengthAdjust="spacingAndGlyphs"><tspan font-style="italic">μ</tspan><tspan font-size="4.5" dy="1.8">0</tspan><tspan font-style="italic" dy="-1.8">H</tspan> / T</text>
<text x="413.6" y="459" class="yl" textLength="21.6" lengthAdjust="spacingAndGlyphs"><tspan font-style="italic">μ</tspan><tspan font-size="4.5" dy="1.8">0</tspan><tspan font-style="italic" dy="-1.8">H</tspan> / T</text>
</svg>
</body></html>
